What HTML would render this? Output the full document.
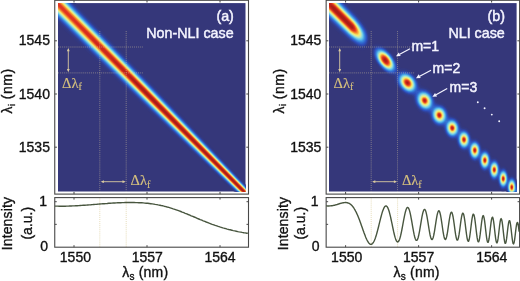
<!DOCTYPE html>
<html><head><meta charset="utf-8"><title>NLI figure</title><style>html,body{margin:0;padding:0;background:#fff}svg{display:block}text{stroke:#111;stroke-width:.35px}.w text{stroke:#f4f4ff;stroke-width:.45px}text.d{stroke:#d6c07e;stroke-width:.15px}</style></head><body>
<svg width="520" height="281" viewBox="0 0 520 281" font-family="'Liberation Sans', sans-serif" font-size="14" fill="#111">
<defs><clipPath id="ca"><rect x="58" y="3.1" width="187.5" height="188.4"/></clipPath><clipPath id="cb"><rect x="329" y="3.1" width="187.6" height="188.4"/></clipPath></defs>
<rect x="58" y="3.1" width="187.5" height="188.4" fill="#35377a"/>
<g clip-path="url(#ca)" fill-rule="evenodd">
<path fill="#34387f" d="M57.0,2.1L74.8,2.1L111.4,40.4L151.1,82.3L203.6,138.6L246.6,185.1L246.8,185.2L246.8,192.6L234.9,192.6L189.8,150.3L145.5,108.3L105.8,70.0L57.0,22.7Z"/>
<path fill="#333a83" d="M57.0,2.1L73.3,2.1L112.1,42.6L153.4,86.1L199.9,135.6L246.6,185.8L246.8,186.0L246.8,192.6L235.8,192.6L196.5,155.5L147.8,109.1L106.5,69.3L57.0,21.0Z"/>
<path fill="#314196" d="M57.0,2.1L71.5,2.1L109.1,41.1L154.2,88.3L204.4,141.6L246.5,186.6L246.8,186.9L246.8,192.6L236.8,192.6L188.2,146.5L147.0,106.9L102.8,63.9L57.0,19.1Z"/>
<path fill="#3048aa" d="M57.0,2.1L70.3,2.1L116.0,49.4L150.4,85.3L204.4,142.3L246.8,187.4L246.8,192.6L237.4,192.6L187.5,144.9L144.8,103.8L109.5,69.4L57.0,17.8Z"/>
<path fill="#2e50be" d="M57.0,2.1L69.4,2.1L115.2,49.4L150.5,86.1L195.4,133.3L246.3,187.3L246.8,187.8L246.8,192.6L237.9,192.6L190.5,147.2L144.8,103.0L108.8,67.9L57.0,16.9Z"/>
<path fill="#315dc6" d="M57.0,2.1L68.7,2.1L117.4,52.4L153.5,89.8L199.9,138.6L246.8,188.2L246.8,192.6L238.3,192.6L195.8,151.8L145.5,103.2L110.2,68.7L57.0,16.2Z"/>
<path fill="#336acd" d="M57.0,2.1L68.1,2.1L104.5,39.6L145.1,81.6L192.4,131.1L246.8,188.5L246.8,192.6L238.6,192.6L186.8,142.7L144.8,101.9L102.0,60.0L57.0,15.5Z"/>
<path fill="#3677d5" d="M57.0,2.1L67.5,2.1L109.9,45.6L148.3,85.3L199.2,138.6L246.1,188.1L246.8,188.8L246.8,192.6L238.9,192.6L195.0,150.3L144.8,101.5L104.7,62.1L57.0,14.9Z"/>
<path fill="#3984dc" d="M57.0,2.1L67.0,2.1L113.0,49.3L145.0,82.3L193.8,133.3L246.8,189.0L246.8,192.6L239.2,192.6L188.2,143.4L145.5,101.8L109.7,66.6L57.0,14.4Z"/>
<path fill="#3f91e1" d="M57.0,2.1L66.6,2.1L106.8,43.4L146.1,83.8L201.4,141.6L246.8,189.2L246.8,192.6L239.4,192.6L197.2,151.8L144.8,100.7L104.9,61.4L57.0,13.9Z"/>
<path fill="#4a9fe3" d="M57.0,2.1L66.1,2.1L111.5,48.6L145.0,83.1L196.1,136.3L246.2,188.8L246.7,189.4L246.8,192.6L239.6,192.6L191.2,145.7L145.5,101.1L109.1,65.1L57.0,13.4Z"/>
<path fill="#55aee6" d="M57.0,2.1L65.7,2.1L106.8,44.1L145.5,83.9L190.8,131.1L243.2,185.8L246.8,189.6L246.8,192.6L239.8,192.6L186.0,140.3L144.8,100.0L105.7,61.4L57.0,13.0Z"/>
<path fill="#5fbce8" d="M57.0,2.1L65.3,2.1L111.0,48.8L145.1,83.8L200.7,141.6L246.8,189.8L246.8,192.6L240.0,192.6L196.1,149.8L144.8,99.7L109.0,64.3L57.0,12.6Z"/>
<path fill="#6acaea" d="M57.0,2.1L64.9,2.1L107.2,45.3L144.8,83.8L196.1,137.1L246.8,190.0L246.8,192.6L240.2,192.6L190.9,144.6L145.0,99.6L107.9,62.8L57.0,12.2Z"/>
<path fill="#7dd1e1" d="M57.0,2.1L64.5,2.1L111.8,50.2L145.5,84.8L191.6,132.6L244.8,188.1L246.8,190.1L246.8,192.6L240.4,192.6L186.6,140.1L144.8,99.1L109.7,64.3L57.0,11.8Z"/>
<path fill="#90d8d7" d="M57.0,2.1L64.2,2.1L108.8,47.5L144.8,84.4L187.0,128.1L240.8,184.0L246.8,190.3L246.8,192.6L240.6,192.6L196.0,149.1L144.8,98.8L110.0,64.3L57.0,11.4Z"/>
<path fill="#a3dfce" d="M57.0,2.1L63.8,2.1L106.5,45.5L144.8,84.6L195.0,136.6L236.2,179.5L246.8,190.4L246.8,192.6L240.8,192.6L193.2,146.1L145.1,98.8L57.0,11.1Z"/>
<path fill="#b6e6c5" d="M57.0,2.1L63.5,2.1L110.2,49.6L144.8,84.9L231.0,174.2L246.8,190.6L246.8,192.6L240.9,192.6L189.6,142.3L144.8,98.3L57.0,10.7Z"/>
<path fill="#c6eab7" d="M57.0,2.1L63.1,2.1L144.8,85.2L225.0,168.1L246.8,190.7L246.8,192.6L241.1,192.6L195.9,148.3L144.8,98.1L57.0,10.3Z"/>
<path fill="#d2eba4" d="M57.0,2.1L62.8,2.1L144.8,85.4L207.0,149.7L246.8,190.9L246.8,192.6L241.2,192.6L194.6,146.8L145.1,98.1L57.0,10.0Z"/>
<path fill="#deeb91" d="M57.0,2.1L62.5,2.1L144.8,85.7L200.2,142.9L246.8,191.0L246.8,192.6L241.4,192.6L192.5,144.6L144.8,97.5L57.0,9.6Z"/>
<path fill="#eaec7f" d="M57.0,2.1L62.1,2.1L144.8,85.9L192.0,134.6L246.8,191.2L246.8,192.6L241.5,192.6L145.6,98.1L103.6,56.1L57.0,9.3Z"/>
<path fill="#f6ec6c" d="M57.0,2.1L61.8,2.1L139.5,80.8L181.5,124.0L246.8,191.3L246.8,192.6L241.7,192.6L145.9,98.1L111.4,63.6L57.0,8.9Z"/>
<path fill="#f6d960" d="M57.0,2.1L61.4,2.1L125.2,66.6L162.0,104.1L246.8,191.5L246.8,192.6L241.9,192.6L152.9,104.8L119.2,71.1L57.0,8.6Z"/>
<path fill="#f6c753" d="M57.0,2.1L61.0,2.1L117.8,59.3L151.5,93.6L246.8,191.6L246.8,192.6L242.0,192.6L163.0,114.6L144.9,96.6L127.7,79.3L69.8,20.9L57.0,8.2Z"/>
<path fill="#f6b447" d="M57.0,2.1L60.7,2.1L145.5,87.7L246.8,191.8L246.8,192.6L242.2,192.6L176.9,128.1L135.4,86.8L101.1,52.4L69.8,20.6L57.0,7.8Z"/>
<path fill="#f6a13a" d="M57.0,2.1L60.3,2.1L69.9,11.8L112.5,54.6L145.5,88.0L246.8,191.9L246.8,192.6L242.3,192.6L143.9,95.1L108.1,59.1L69.8,20.2L57.0,7.4Z"/>
<path fill="#f48d32" d="M57.0,2.1L59.9,2.1L70.2,12.6L105.0,47.4L144.8,87.4L183.0,126.6L246.8,192.1L246.8,192.6L242.5,192.6L144.8,95.7L105.5,56.1L69.8,19.7L57.0,7.0Z"/>
<path fill="#ef772e" d="M57.0,2.1L59.4,2.1L69.8,12.6L116.2,59.0L144.8,87.7L173.2,116.9L246.8,192.2L246.8,192.6L242.6,192.6L144.8,95.4L110.3,60.6L69.8,19.3L57.0,6.5Z"/>
<path fill="#ea602a" d="M57.0,2.1L58.9,2.1L70.0,13.4L96.8,39.9L126.0,69.1L144.8,88.0L162.0,105.6L246.8,192.4L246.8,192.6L242.8,192.6L144.8,95.2L103.3,53.1L69.8,18.8L57.0,6.0Z"/>
<path fill="#e54a26" d="M57.0,2.1L58.3,2.1L69.8,13.7L99.0,42.5L137.2,80.8L145.5,89.1L183.8,128.1L246.8,192.6L243.0,192.6L145.0,95.1L110.3,59.8L69.8,18.2L57.0,5.4Z"/>
<path fill="#e03422" d="M57.0,2.1L57.6,2.1L69.8,14.4L80.2,24.6L101.2,45.3L144.8,88.6L246.0,192.0L246.6,192.6L246.0,192.6L243.2,192.6L144.8,94.5L98.2,47.1L69.8,17.5L57.0,4.6Z"/>
<path fill="#d42f1f" d="M73.5,19.4L82.5,27.6L99.0,43.6L117.0,61.3L144.8,88.9L246.4,192.6L243.4,192.6L145.5,95.0L116.2,65.1L93.8,41.9L80.3,27.6L73.5,20.1Z"/>
<path fill="#c82a1d" d="M91.5,38.1L91.5,37.9L91.9,38.1L91.5,38.2ZM92.1,38.9L92.2,38.3L93.0,38.8L106.5,51.6L124.5,69.3L144.8,89.3L246.2,192.6L243.6,192.6L228.6,177.6L144.8,93.8L111.0,59.1L97.5,44.9Z"/>
<path fill="#b9241a" d="M109.4,56.1L109.5,56.0L109.7,56.1L109.5,56.2ZM110.1,56.9L110.2,56.6L110.6,56.9L110.2,57.0ZM110.7,57.6L111.0,57.2L113.2,59.1L129.8,75.0L144.8,89.8L246.0,192.6L243.9,192.6L144.8,93.4L127.5,75.6L114.0,61.4Z"/>
<path fill="#a81f17" d="M127.4,74.1L127.5,74.0L127.6,74.1L127.5,74.2ZM128.1,74.8L128.2,74.7L128.4,74.8L128.2,75.1ZM128.7,75.6L129.0,75.4L129.2,75.6L129.0,76.0ZM129.3,76.3L129.8,76.1L130.5,76.7L135.0,80.8L144.8,90.3L222.8,169.4L245.6,192.6L244.2,192.6L145.5,93.6L131.2,78.6Z"/>
</g>
<rect x="329" y="3.1" width="187.6" height="188.4" fill="#35377a"/>
<g clip-path="url(#cb)" fill-rule="evenodd">
<path fill="#34387f" d="M328.0,2.1L346.5,2.1L355.8,11.8L359.1,15.6L362.8,20.1L365.9,24.6L368.1,28.4L369.0,30.6L369.7,32.9L370.1,35.1L370.2,36.6L370.1,38.9L369.8,41.1L369.4,42.6L368.6,44.9L367.9,46.4L367.0,47.8L366.2,48.7L365.5,49.4L364.8,49.9L364.0,50.3L362.5,50.5L361.0,50.3L359.5,49.8L356.5,48.3L354.2,46.8L352.0,45.2L346.0,40.1L328.0,22.7ZM374.5,44.1L375.2,43.8L376.7,43.6L378.2,43.6L379.8,44.0L381.2,44.4L382.8,45.1L384.2,45.9L386.5,47.5L388.8,49.4L391.0,51.6L392.9,53.8L394.5,56.1L396.8,59.9L398.1,62.8L399.2,66.1L400.0,67.0L400.8,67.5L401.5,67.7L403.8,67.9L405.3,68.1L406.8,68.5L408.2,69.0L409.8,69.8L411.2,70.7L412.8,71.7L414.2,73.0L416.6,75.6L417.7,77.1L418.6,78.6L420.1,81.6L421.1,84.6L421.9,85.3L423.2,86.1L425.5,86.6L427.0,87.2L428.5,88.0L430.0,89.0L431.5,90.3L433.1,92.1L434.6,94.3L435.7,96.6L437.0,100.3L437.5,101.0L438.2,101.5L440.5,102.0L442.8,102.9L444.2,103.8L445.8,105.1L447.2,106.8L448.4,108.6L449.2,110.1L450.4,113.8L451.0,114.5L451.8,115.0L453.2,115.2L454.8,115.7L456.2,116.6L457.0,117.2L458.5,118.7L459.8,120.6L460.9,122.8L461.6,125.1L462.2,126.1L463.0,126.6L464.5,126.7L466.0,127.2L467.5,128.1L469.1,129.6L470.1,131.1L470.9,132.6L471.5,134.1L472.2,136.3L472.7,137.1L473.5,137.4L475.0,137.3L476.5,137.7L477.2,138.1L478.8,139.3L480.0,140.8L480.8,142.3L481.5,143.8L482.5,147.1L483.2,147.6L484.8,147.3L485.5,147.3L487.0,147.9L487.8,148.4L489.1,149.8L490.1,151.3L491.1,153.6L491.7,155.8L492.2,156.9L493.0,157.0L493.8,156.8L494.5,156.8L495.3,156.9L496.0,157.2L496.8,157.7L497.5,158.3L498.2,159.2L499.3,161.1L499.9,162.6L500.8,165.6L501.2,166.2L503.5,165.9L504.2,166.0L505.0,166.4L505.8,166.9L506.6,167.8L507.6,169.3L508.3,170.8L509.5,174.7L510.2,175.0L511.0,174.7L511.8,174.6L512.5,174.7L513.2,174.9L514.0,175.5L514.7,176.1L515.7,177.6L516.4,179.1L517.4,182.1L517.8,183.0L517.8,192.6L514.8,192.6L506.2,192.6L505.8,191.3L505.0,191.1L504.2,191.5L503.5,191.6L502.8,191.6L502.0,191.4L501.2,191.0L500.5,190.3L499.3,188.8L498.5,187.4L497.9,185.8L497.1,182.8L496.8,182.4L496.0,182.4L495.2,182.7L494.5,182.8L493.8,182.8L493.0,182.6L492.2,182.2L491.5,181.6L490.6,180.6L489.6,179.1L488.9,177.6L488.2,175.3L487.9,173.8L487.8,173.5L487.4,173.1L487.0,172.8L485.5,173.3L484.8,173.3L484.0,173.2L482.5,172.6L481.8,172.1L481.0,171.3L480.1,170.1L479.2,168.6L478.4,166.3L477.9,164.1L477.3,163.1L476.5,163.1L475.0,163.3L473.5,163.1L472.0,162.3L470.5,161.0L469.5,159.6L468.6,158.1L467.8,155.8L467.2,153.6L466.8,152.7L466.0,152.4L465.2,152.6L463.8,152.6L462.2,152.2L460.8,151.4L459.2,150.1L457.9,148.3L456.8,146.1L456.0,143.8L455.7,142.3L455.4,141.6L454.8,141.0L452.5,141.0L450.2,140.5L448.8,139.8L447.2,138.7L445.8,137.1L444.7,135.6L443.9,134.1L443.3,132.6L442.7,130.3L442.0,129.2L441.2,128.8L439.0,128.7L437.5,128.3L436.0,127.6L433.8,126.2L431.9,124.3L430.3,122.1L429.6,120.6L429.0,119.1L428.3,116.8L427.8,115.8L427.0,115.1L424.0,114.5L421.8,113.6L419.5,112.2L417.2,110.2L415.4,107.8L414.1,105.6L413.2,103.3L412.2,99.6L411.2,98.1L410.5,97.6L407.5,96.9L406.0,96.3L404.5,95.5L403.0,94.5L401.5,93.3L399.4,91.3L397.6,89.1L395.8,86.1L394.5,83.1L393.2,78.8L392.7,77.8L391.8,77.0L391.0,76.6L388.8,75.8L386.5,74.6L384.2,73.1L382.0,71.2L379.6,68.8L377.7,66.6L375.6,63.6L374.3,61.4L372.5,57.6L371.8,55.3L371.2,52.4L371.1,50.1L371.2,48.6L371.7,47.1L372.0,46.4L373.0,45.1L373.8,44.5Z"/>
<path fill="#333a83" d="M328.0,2.1L344.9,2.1L357.1,14.8L361.4,20.1L363.7,23.1L365.2,25.4L367.3,29.1L368.3,31.4L368.8,32.9L369.1,34.4L369.4,36.6L369.4,38.1L369.2,40.4L368.9,41.9L368.1,44.1L366.9,46.4L366.2,47.2L365.5,47.9L364.7,48.4L363.2,48.9L362.5,48.9L361.0,48.8L359.5,48.3L358.0,47.6L355.0,45.8L351.2,43.0L346.8,39.2L328.0,21.1ZM376.1,44.9L377.5,44.7L379.0,44.8L380.5,45.1L382.8,46.0L384.2,46.8L386.5,48.4L389.5,51.0L392.1,53.9L393.8,56.1L395.2,58.3L396.7,61.4L397.4,62.8L398.5,66.5L399.2,68.0L400.0,68.8L400.8,69.0L404.5,69.2L406.0,69.5L407.5,69.9L409.0,70.6L410.5,71.4L412.0,72.4L413.5,73.7L415.3,75.6L417.5,78.6L418.3,80.1L419.0,81.6L419.9,84.6L420.3,85.3L421.1,86.1L422.5,86.8L426.2,87.9L427.8,88.6L429.2,89.6L430.8,90.8L432.6,92.8L434.1,95.1L435.1,97.3L436.0,100.3L436.8,101.4L437.5,102.1L438.2,102.5L440.5,102.9L442.0,103.5L443.5,104.3L445.1,105.6L446.5,107.1L447.9,109.3L448.6,110.8L449.6,113.8L450.2,114.8L451.0,115.5L451.8,115.9L453.2,116.2L454.8,116.7L455.5,117.1L457.0,118.3L458.4,119.9L459.4,121.3L460.5,123.6L461.2,125.8L461.7,126.6L462.2,127.1L463.0,127.5L464.5,127.6L466.0,128.1L467.5,129.1L468.7,130.3L470.2,132.6L471.1,134.8L471.5,136.3L472.0,137.4L472.8,138.1L473.5,138.4L475.0,138.3L476.5,138.7L478.0,139.7L479.1,140.8L480.1,142.3L480.8,143.8L481.8,147.1L482.5,148.1L483.2,148.5L484.8,148.2L485.5,148.3L486.2,148.5L487.8,149.4L488.8,150.6L489.8,152.1L490.4,153.6L491.3,156.6L491.7,157.3L492.2,157.9L493.0,158.0L493.8,157.8L494.5,157.7L495.2,157.9L496.0,158.2L496.8,158.7L497.6,159.6L498.7,161.1L499.6,163.3L500.5,166.4L501.3,167.1L502.0,167.1L502.8,166.9L503.5,166.8L504.2,167.0L505.0,167.3L505.8,167.9L506.9,169.3L507.7,170.8L508.5,173.1L508.8,174.6L509.5,175.6L510.2,175.9L511.0,175.6L511.8,175.5L512.5,175.6L513.2,175.9L514.4,176.8L515.0,177.6L515.9,179.1L516.7,181.3L517.0,182.8L517.8,183.9L517.8,192.6L512.5,192.6L506.7,192.6L506.5,191.6L506.3,191.1L505.8,190.3L505.0,190.2L504.2,190.5L503.5,190.7L502.8,190.7L502.0,190.4L501.2,190.0L500.8,189.6L500.1,188.8L499.1,187.3L498.5,185.9L497.5,182.3L496.8,181.4L496.0,181.4L495.2,181.7L494.5,181.9L493.8,181.8L493.0,181.6L492.2,181.2L491.5,180.6L490.8,179.7L489.5,177.6L488.7,175.3L488.2,173.1L487.8,172.3L487.0,171.9L485.5,172.3L484.0,172.3L483.2,172.1L482.5,171.6L481.8,171.0L481.0,170.2L480.0,168.6L479.0,166.3L478.2,163.3L477.7,162.6L477.2,162.1L476.5,162.1L475.7,162.3L475.0,162.4L473.5,162.1L472.0,161.3L470.9,160.3L470.3,159.6L469.4,158.1L468.4,155.8L467.6,152.8L466.8,151.7L466.0,151.5L464.5,151.7L463.8,151.7L462.2,151.3L460.8,150.4L459.4,149.1L458.3,147.6L457.5,146.1L456.7,143.8L456.1,141.6L455.5,140.6L454.8,140.0L452.5,140.1L451.0,139.8L449.5,139.2L448.0,138.2L446.5,136.8L445.1,134.8L444.1,132.6L443.2,129.6L442.8,128.9L442.0,128.2L441.2,127.8L439.8,127.8L437.5,127.3L436.0,126.6L434.5,125.6L433.0,124.3L431.3,122.1L430.1,119.9L428.9,116.1L428.4,115.3L427.8,114.6L427.0,114.1L424.8,113.7L422.5,113.0L420.2,111.7L418.0,109.7L416.5,107.8L415.1,105.6L414.4,104.1L413.8,102.6L413.1,99.6L412.0,97.3L411.1,96.6L409.0,96.2L407.5,95.7L405.2,94.7L403.8,93.8L402.2,92.6L400.1,90.6L398.3,88.3L397.3,86.8L396.5,85.3L395.8,83.8L395.4,82.3L394.5,78.6L394.2,77.8L393.8,77.1L392.5,76.2L391.0,75.6L389.5,75.2L388.0,74.5L385.7,73.2L383.5,71.6L381.2,69.6L378.5,66.6L376.4,63.6L375.0,61.3L373.3,57.6L372.6,55.3L372.1,53.1L372.0,50.8L372.3,48.6L373.0,47.1L373.8,46.1L374.5,45.5L375.2,45.1Z"/>
<path fill="#314196" d="M328.0,2.1L343.2,2.1L355.0,14.3L356.8,16.4L360.5,20.9L363.8,25.4L366.0,29.1L366.7,30.6L367.6,32.9L368.2,35.8L368.4,38.1L368.3,39.6L368.0,41.1L367.3,43.4L366.4,44.9L365.8,45.6L364.8,46.5L364.0,46.8L362.5,47.1L361.0,47.0L359.5,46.5L358.0,45.9L355.8,44.6L354.2,43.6L350.5,40.7L347.5,38.1L328.0,19.2ZM376.1,46.4L377.5,46.0L379.0,46.0L380.5,46.2L382.0,46.7L383.5,47.4L385.8,48.9L388.8,51.4L390.4,53.1L392.3,55.3L393.8,57.6L395.1,59.9L395.8,61.4L396.7,63.6L397.8,67.9L398.5,70.2L399.2,70.7L400.0,70.8L402.2,70.5L403.8,70.4L405.2,70.6L406.8,70.9L408.2,71.5L409.8,72.2L411.2,73.2L412.8,74.4L414.6,76.3L416.7,79.3L417.8,81.6L418.3,83.1L418.9,85.3L419.5,86.7L420.2,87.6L421.0,87.9L424.8,88.7L426.2,89.2L428.5,90.5L430.0,91.6L431.8,93.6L433.2,95.8L434.2,98.1L435.2,101.5L436.0,102.6L437.0,103.3L437.5,103.6L441.2,104.5L442.8,105.2L444.3,106.4L445.7,107.8L446.7,109.3L447.8,111.6L448.8,114.7L449.5,116.0L450.8,116.8L453.2,117.4L454.8,118.0L456.2,119.0L457.7,120.6L458.8,122.1L459.5,123.6L460.2,125.8L460.7,127.3L461.4,128.1L462.2,128.6L463.0,128.8L464.5,128.9L466.0,129.4L467.3,130.3L468.2,131.3L469.6,133.3L470.2,134.8L471.2,138.3L472.0,139.3L472.8,139.6L475.0,139.5L475.8,139.6L477.2,140.4L478.0,141.0L479.1,142.3L479.9,143.8L480.5,145.3L481.1,147.6L481.8,149.2L482.5,149.7L483.2,149.8L484.7,149.4L485.5,149.5L486.2,149.8L487.0,150.2L487.8,150.8L488.8,152.1L489.6,153.6L490.4,155.8L490.8,157.6L491.5,159.0L492.2,159.3L493.8,159.0L494.5,158.9L495.2,159.1L496.0,159.4L496.8,160.0L497.7,161.1L498.5,162.6L499.3,164.8L499.8,166.8L500.5,168.2L501.2,168.5L502.8,168.1L503.5,168.0L504.2,168.2L505.0,168.6L505.8,169.3L506.9,170.8L507.6,172.3L508.8,176.5L509.1,176.8L509.5,177.2L510.2,177.1L511.0,176.8L511.8,176.7L512.5,176.8L513.2,177.1L514.0,177.7L515.0,179.1L515.7,180.6L517.0,184.7L517.8,185.4L517.8,192.6L512.5,192.6L507.4,192.6L506.5,189.5L505.9,188.9L505.0,188.9L504.2,189.3L503.5,189.5L502.8,189.4L502.0,189.2L501.2,188.7L500.1,187.3L499.2,185.8L498.7,184.3L498.2,182.1L497.5,180.4L496.8,179.9L495.2,180.5L494.5,180.6L493.8,180.6L493.0,180.4L492.2,179.9L491.5,179.2L490.8,178.3L490.4,177.6L489.7,176.1L488.5,171.5L488.0,170.8L487.8,170.6L487.0,170.5L485.5,171.1L484.8,171.2L484.0,171.1L483.2,170.8L482.5,170.3L481.5,169.3L480.5,167.8L479.8,166.3L479.3,164.8L478.8,162.2L478.0,161.0L477.2,160.7L475.0,161.2L473.5,160.9L472.8,160.5L472.0,160.0L471.3,159.3L470.4,158.1L469.6,156.6L468.8,154.3L468.3,152.0L467.5,150.6L466.8,150.2L466.0,150.2L464.5,150.5L463.0,150.3L461.5,149.6L460.0,148.3L458.9,146.8L458.1,145.3L457.3,143.1L457.0,141.4L456.2,139.6L456.0,139.3L455.5,138.9L454.8,138.7L453.2,138.9L451.8,138.8L450.2,138.3L448.8,137.5L447.2,136.1L445.8,134.1L444.8,131.8L444.2,129.7L443.9,128.8L443.5,127.9L443.1,127.3L442.0,126.7L441.2,126.5L439.0,126.4L438.2,126.3L436.8,125.7L435.2,124.8L434.5,124.2L433.2,122.8L432.1,121.3L431.2,119.8L430.4,117.6L430.1,116.1L429.8,115.3L429.2,114.3L428.5,113.4L427.8,112.9L427.0,112.7L425.5,112.5L423.2,111.9L421.0,110.8L419.5,109.6L418.8,108.9L417.8,107.8L416.8,106.3L415.6,104.1L414.8,101.8L413.7,97.3L413.4,96.6L412.8,95.9L412.0,95.5L411.2,95.2L408.2,94.7L406.0,93.8L404.5,92.9L403.0,91.9L400.8,89.8L399.0,87.6L398.1,86.1L397.3,84.6L396.5,82.3L396.0,80.1L395.5,76.3L395.1,75.6L394.8,75.3L394.0,75.1L390.2,74.3L388.8,73.8L387.2,73.1L385.0,71.7L382.8,69.9L380.2,67.3L377.8,64.3L376.3,62.1L374.8,59.1L373.9,56.9L373.3,54.6L373.1,52.4L373.2,50.1L373.8,48.6L374.2,47.9L374.9,47.1Z"/>
<path fill="#3048aa" d="M328.0,2.1L342.0,2.1L355.8,16.4L359.0,20.1L361.3,23.1L362.9,25.4L365.1,29.1L365.9,30.6L366.7,32.9L367.3,35.1L367.5,36.6L367.6,38.1L367.5,39.6L367.2,41.1L366.7,42.6L366.2,43.4L365.5,44.4L364.8,45.1L364.0,45.5L363.2,45.8L362.5,45.9L361.0,45.8L359.5,45.4L358.0,44.7L356.5,43.9L354.2,42.4L351.2,40.2L347.5,37.0L328.0,18.0ZM376.8,47.1L378.2,46.8L379.0,46.8L380.5,47.0L382.0,47.5L383.5,48.2L385.0,49.0L387.2,50.7L389.0,52.4L391.0,54.6L392.7,56.9L394.5,59.9L395.9,62.9L396.5,65.1L396.9,67.3L397.1,69.6L396.9,72.6L396.2,73.2L394.8,73.7L394.0,73.8L392.5,73.8L390.2,73.5L388.0,72.7L385.8,71.5L383.5,69.9L381.6,68.1L379.6,65.8L377.9,63.6L376.1,60.6L374.8,57.6L374.1,55.4L373.8,53.1L373.9,50.9L374.4,49.4L375.2,48.1L376.0,47.5ZM400.6,71.8L402.2,71.4L403.7,71.3L405.2,71.4L406.8,71.8L408.2,72.3L409.8,73.1L411.2,74.1L412.8,75.4L413.7,76.3L414.9,77.8L416.3,80.1L417.0,81.6L417.6,83.1L418.2,86.1L418.7,87.6L419.2,88.3L419.5,88.7L420.2,89.0L424.0,89.5L426.2,90.1L427.8,90.9L429.2,92.0L430.0,92.7L431.5,94.3L432.8,96.6L433.5,98.1L434.5,101.9L435.2,103.5L436.0,104.1L437.5,104.5L439.8,104.9L441.2,105.3L442.8,106.1L444.2,107.3L445.4,108.6L446.8,110.8L447.6,113.1L448.0,114.8L448.9,116.8L449.5,117.4L450.2,117.6L453.2,118.2L454.0,118.5L455.5,119.3L456.9,120.6L458.0,122.1L458.8,123.6L459.3,125.1L460.0,127.5L460.8,129.0L461.5,129.4L464.5,129.7L465.2,129.9L466.8,130.7L467.9,131.8L468.9,133.3L469.6,134.8L470.1,136.3L470.5,138.1L471.2,140.1L472.0,140.4L475.0,140.3L475.8,140.4L476.5,140.8L477.2,141.2L478.0,142.0L478.8,142.9L479.7,144.6L480.4,146.8L481.0,149.4L481.8,150.7L483.2,150.6L484.8,150.2L485.5,150.3L486.2,150.6L487.0,151.0L488.1,152.1L489.0,153.6L489.7,155.1L490.8,159.4L491.5,160.3L492.2,160.2L493.8,159.8L494.5,159.7L495.2,159.9L496.0,160.3L496.8,160.9L497.5,161.8L498.0,162.6L498.6,164.1L499.8,168.5L500.3,169.3L500.5,169.5L501.2,169.4L502.8,168.8L503.5,168.8L504.2,169.0L505.0,169.4L505.8,170.2L506.5,171.3L507.0,172.4L507.6,173.8L508.0,175.9L508.8,178.1L509.5,178.2L511.0,177.6L511.8,177.4L512.5,177.6L513.2,177.9L514.0,178.6L514.8,179.7L515.2,180.6L515.8,182.1L516.2,184.1L517.0,186.2L517.8,186.3L517.8,192.6L513.2,192.6L507.8,192.6L507.2,190.2L506.5,187.9L505.8,187.8L505.0,188.1L504.3,188.5L503.5,188.7L502.8,188.7L502.0,188.4L501.2,187.9L500.2,186.6L499.4,185.1L498.7,182.8L498.2,180.5L497.5,178.9L496.8,179.0L495.2,179.7L494.5,179.8L493.8,179.8L493.0,179.5L492.2,179.0L491.0,177.6L490.2,176.1L489.7,174.6L489.2,172.3L488.5,169.8L487.8,169.5L487.0,169.7L485.5,170.3L484.8,170.4L484.0,170.3L483.2,170.0L482.5,169.5L481.8,168.7L481.1,167.9L480.4,166.4L479.8,164.8L478.7,160.3L478.0,159.8L477.2,159.8L475.8,160.3L475.0,160.4L474.2,160.3L473.5,160.1L472.8,159.7L472.0,159.1L471.1,158.1L470.2,156.6L469.5,155.1L468.1,149.8L467.5,149.3L466.8,149.2L464.5,149.7L463.0,149.5L461.5,148.8L460.2,147.6L459.1,146.1L458.4,144.6L457.9,143.1L457.0,139.3L456.7,138.6L456.2,138.1L455.5,137.9L454.8,137.9L453.2,138.1L451.8,138.0L450.2,137.5L448.8,136.6L447.2,135.1L446.1,133.3L445.2,131.1L444.2,127.6L443.8,126.6L443.5,126.2L442.8,125.9L442.0,125.7L439.8,125.7L438.2,125.4L437.5,125.2L436.8,124.8L435.2,123.9L433.4,122.1L432.4,120.6L431.6,119.1L431.1,117.6L430.8,116.1L430.0,113.7L429.7,113.1L429.2,112.5L427.8,111.9L424.8,111.5L423.2,111.1L421.0,109.8L419.5,108.6L418.8,107.8L417.1,105.6L416.0,103.3L415.3,101.1L414.6,96.6L414.2,95.5L413.8,95.1L413.5,94.9L412.0,94.4L409.0,94.1L406.8,93.3L405.2,92.6L403.8,91.6L401.5,89.6L400.4,88.3L399.4,86.8L398.1,84.6L397.5,83.1L397.1,81.6L396.8,80.1L396.7,78.6L396.8,75.6L397.1,73.3L397.8,72.9Z"/>
<path fill="#2e50be" d="M328.0,2.1L341.2,2.1L355.7,17.1L359.4,21.6L362.2,25.4L364.4,29.1L365.2,30.6L366.1,32.9L366.7,35.1L366.9,36.6L367.0,38.1L366.8,39.6L366.5,41.1L366.2,41.8L365.5,43.1L364.8,43.9L364.0,44.4L363.2,44.7L362.5,44.9L361.8,44.9L360.2,44.7L358.0,43.9L356.5,43.1L352.8,40.5L348.0,36.6L328.0,17.1ZM377.0,47.8L378.2,47.5L379.0,47.4L380.5,47.6L382.8,48.3L384.2,49.1L386.5,50.7L388.8,52.6L390.6,54.6L392.3,56.9L393.7,59.1L395.1,62.1L395.8,64.3L396.3,67.3L396.3,69.6L395.9,71.1L395.4,71.9L394.8,72.4L394.0,72.8L392.5,73.1L390.2,72.9L388.0,72.2L386.5,71.4L384.2,69.9L382.0,67.9L380.1,65.8L378.4,63.6L377.0,61.4L375.5,58.4L374.8,56.1L374.4,53.9L374.5,51.6L374.8,50.1L375.2,49.4L375.8,48.6ZM400.9,72.6L402.2,72.2L403.0,72.0L404.5,72.0L406.0,72.2L408.2,72.9L409.8,73.7L412.2,75.6L413.7,77.1L414.8,78.6L416.1,80.8L417.0,83.1L418.0,88.6L418.2,89.1L418.8,89.7L419.5,89.9L422.5,90.0L424.8,90.3L426.2,90.8L427.0,91.2L428.5,92.2L429.3,92.8L430.1,93.6L431.3,95.1L432.5,97.3L433.3,99.6L433.8,101.7L434.5,104.1L435.3,104.8L436.0,105.0L439.8,105.5L441.2,106.0L442.8,106.8L444.0,107.8L445.3,109.3L446.2,110.8L447.0,113.1L448.0,116.8L448.4,117.6L448.8,118.0L449.5,118.3L453.2,118.8L454.8,119.5L455.5,120.0L457.0,121.5L458.3,123.6L458.8,125.1L459.4,127.3L460.1,129.6L460.8,130.2L463.8,130.2L465.2,130.5L466.8,131.4L467.9,132.6L468.8,134.1L469.5,135.6L470.5,140.0L470.8,140.8L471.2,141.3L472.0,141.3L474.2,140.9L475.0,140.9L475.7,141.1L476.5,141.4L477.2,142.0L478.3,143.1L479.2,144.6L480.0,146.8L480.8,150.6L481.1,151.3L481.8,151.7L484.0,151.0L484.8,150.9L485.5,150.9L486.2,151.2L487.0,151.7L488.0,152.8L488.9,154.3L489.7,156.6L490.0,158.4L490.7,161.1L491.5,161.3L493.8,160.4L494.5,160.4L495.2,160.5L496.0,160.9L496.8,161.6L497.5,162.6L498.2,164.1L498.7,165.6L499.8,170.2L500.5,170.5L502.8,169.5L503.5,169.4L504.2,169.6L505.0,170.1L505.7,170.8L506.6,172.3L506.9,173.1L507.4,174.6L508.0,177.5L508.3,178.3L508.8,179.2L509.5,179.0L511.0,178.2L511.8,178.1L512.5,178.2L513.2,178.6L514.0,179.3L515.2,181.3L515.6,182.8L516.2,185.6L516.6,186.6L517.0,187.4L517.8,187.1L517.8,192.6L511.8,192.6L508.1,192.6L507.6,190.4L507.2,188.5L506.9,187.3L506.5,186.7L505.8,187.0L504.3,187.9L503.5,188.1L502.8,188.0L502.0,187.7L501.2,187.2L500.3,185.8L499.6,184.3L499.1,182.8L498.2,178.6L498.1,178.3L497.5,177.9L495.2,179.0L494.5,179.2L493.8,179.2L493.0,178.9L492.2,178.3L491.1,176.8L490.3,175.3L489.7,173.1L489.2,170.4L489.0,169.3L488.5,168.5L487.8,168.6L485.5,169.7L484.8,169.8L484.0,169.6L483.2,169.3L482.4,168.6L481.2,167.1L480.5,165.6L479.8,163.3L479.3,160.3L478.8,158.8L478.0,158.8L475.8,159.6L475.0,159.8L474.2,159.7L473.5,159.4L472.8,159.0L472.0,158.4L471.2,157.5L470.7,156.6L470.0,155.1L469.3,152.8L468.8,149.8L468.2,148.5L467.5,148.3L465.2,149.0L463.8,149.0L463.0,148.9L462.2,148.6L461.5,148.1L460.7,147.4L459.7,146.1L458.6,143.8L458.1,142.3L457.4,138.6L457.0,137.5L456.2,137.1L454.8,137.2L453.2,137.5L451.8,137.4L450.2,136.9L449.5,136.4L448.5,135.6L447.2,134.1L446.7,133.3L446.0,131.8L445.5,130.3L444.6,126.6L444.2,125.7L443.5,125.1L443.3,125.1L442.0,125.0L439.8,125.0L438.2,124.8L436.8,124.1L436.0,123.7L434.5,122.4L433.1,120.6L431.9,118.3L430.6,113.1L430.3,112.3L430.0,111.8L429.3,111.4L427.8,111.1L425.5,111.0L424.0,110.7L423.2,110.4L421.8,109.6L421.0,109.1L419.5,107.8L417.8,105.6L417.0,104.1L416.4,102.6L415.8,100.3L415.5,98.1L415.3,95.8L415.2,95.1L414.9,94.3L414.2,93.9L409.0,93.4L406.8,92.7L405.2,91.9L403.8,90.9L401.8,89.1L400.5,87.6L399.5,86.1L398.7,84.6L397.9,82.4L397.5,80.8L397.4,79.3L397.5,77.1L397.8,75.6L398.1,74.8L398.7,74.1L399.2,73.5L400.0,73.0Z"/>
<path fill="#315dc6" d="M328.0,2.1L340.5,2.1L355.0,17.0L358.2,20.9L361.6,25.4L363.5,28.4L364.3,29.9L365.3,32.1L365.8,33.6L366.2,35.1L366.4,36.6L366.4,38.1L366.2,39.6L365.8,41.1L365.5,41.9L364.8,42.8L364.0,43.5L363.2,43.9L362.5,44.1L361.8,44.1L360.2,43.9L358.8,43.4L357.2,42.7L354.2,40.9L351.2,38.7L348.2,36.1L328.0,16.3ZM376.9,48.6L377.5,48.3L378.2,48.1L379.8,48.0L381.2,48.3L383.5,49.2L385.8,50.5L387.2,51.7L389.4,53.9L391.3,56.1L392.8,58.4L394.4,61.3L395.2,63.6L395.7,65.8L395.8,68.1L395.6,69.6L395.4,70.3L395.0,71.1L394.0,71.9L393.2,72.3L392.5,72.4L391.0,72.5L389.5,72.3L387.2,71.4L385.0,70.0L382.8,68.2L381.2,66.6L379.3,64.3L377.8,62.1L376.2,59.1L375.4,56.9L374.9,54.6L374.9,52.4L375.2,50.9L375.5,50.1L376.0,49.4ZM402.9,72.6L404.5,72.5L406.0,72.7L407.5,73.1L409.0,73.8L411.2,75.3L412.4,76.3L413.8,77.8L414.8,79.3L415.7,80.8L416.3,82.3L416.7,83.8L417.1,86.8L417.1,89.8L417.2,90.8L418.0,91.1L421.8,90.6L423.2,90.7L424.8,90.9L427.0,91.8L428.5,92.8L429.4,93.6L431.2,95.8L432.0,97.3L432.8,99.6L433.8,104.4L433.9,104.8L434.5,105.5L435.2,105.8L439.0,105.9L440.5,106.3L441.2,106.5L442.8,107.4L444.0,108.6L445.2,110.1L446.0,111.6L446.8,113.8L447.5,117.6L448.0,118.6L448.8,119.0L452.5,119.2L453.2,119.3L454.8,120.0L456.2,121.3L457.4,122.8L458.2,124.3L458.8,126.6L459.4,129.6L459.6,130.3L460.0,130.9L460.8,131.1L463.0,130.7L464.5,130.8L466.0,131.4L466.8,132.0L467.5,132.8L467.9,133.3L468.8,134.8L469.3,136.3L470.5,142.0L471.2,142.4L472.8,141.8L474.2,141.4L475.0,141.4L476.5,142.0L477.2,142.5L478.4,143.8L479.2,145.4L479.9,147.6L480.5,151.3L480.7,152.1L481.0,152.7L481.8,152.6L484.0,151.5L484.8,151.4L485.5,151.5L486.2,151.7L487.0,152.3L488.1,153.6L488.9,155.1L489.6,157.3L490.1,161.1L490.3,161.8L490.8,162.4L493.0,161.2L493.8,160.9L494.5,160.9L495.2,161.1L496.0,161.5L497.0,162.6L497.9,164.1L498.4,165.6L498.8,167.1L499.2,170.1L499.4,170.8L499.8,171.6L500.5,171.3L502.0,170.3L502.8,170.0L503.5,170.0L504.2,170.2L505.2,170.8L506.3,172.4L506.9,173.8L507.6,176.8L508.0,179.5L508.2,179.8L508.8,180.2L511.0,178.7L511.8,178.6L512.5,178.7L513.2,179.2L513.9,179.8L514.5,180.6L515.2,182.1L515.9,185.1L516.2,187.4L516.7,188.1L517.0,188.3L517.8,187.8L517.8,192.6L510.2,192.6L508.4,192.6L507.7,189.6L507.2,186.6L506.7,185.8L506.5,185.7L504.3,187.3L503.5,187.6L502.8,187.5L502.0,187.2L501.2,186.6L500.7,185.9L499.9,184.3L499.3,182.8L498.2,177.0L497.5,177.0L496.0,178.1L495.2,178.5L494.5,178.7L493.8,178.7L493.0,178.3L492.1,177.6L491.0,176.1L490.4,174.6L489.7,171.6L489.2,168.0L489.2,167.8L488.5,167.4L486.2,168.9L485.5,169.2L484.8,169.2L484.0,169.1L483.2,168.7L482.2,167.8L481.2,166.3L480.5,164.8L479.9,161.8L479.5,158.7L479.2,158.1L478.8,157.7L475.8,159.1L475.0,159.3L474.2,159.2L473.5,158.9L472.8,158.5L472.0,157.8L471.2,156.8L470.7,155.8L470.0,154.3L469.4,151.3L469.0,148.2L468.6,147.6L468.2,147.3L465.2,148.4L464.5,148.5L463.8,148.5L462.2,148.0L461.5,147.5L460.8,146.8L459.7,145.3L458.9,143.8L458.2,140.8L457.8,137.6L457.6,137.1L457.2,136.3L457.0,136.2L456.2,136.2L454.0,136.8L452.5,136.9L451.0,136.7L449.5,135.9L448.0,134.5L446.7,132.6L446.1,131.1L445.9,130.3L445.0,125.6L444.8,125.1L444.2,124.4L443.5,124.3L439.8,124.5L438.2,124.2L437.5,124.0L436.0,123.1L434.8,122.1L433.6,120.6L432.7,119.1L432.4,118.3L431.9,116.8L431.1,112.3L430.8,111.3L430.3,110.8L430.0,110.6L429.2,110.5L425.5,110.4L423.2,109.8L421.8,109.0L421.0,108.4L419.6,107.1L418.4,105.6L417.5,104.1L416.6,101.8L416.1,98.8L416.0,97.3L416.2,94.3L416.1,93.6L415.9,92.8L415.8,92.7L415.0,92.6L412.8,93.0L410.5,93.1L409.0,92.9L407.5,92.5L406.0,91.9L404.5,91.0L403.0,89.7L401.6,88.3L400.4,86.8L399.5,85.3L398.8,83.8L398.3,82.3L398.0,80.8L397.9,79.3L397.9,77.8L398.3,76.3L398.6,75.6L399.0,74.8L399.7,74.1L400.7,73.3L401.5,73.0Z"/>
<path fill="#336acd" d="M328.0,2.1L339.9,2.1L355.0,17.7L358.3,21.6L361.6,26.1L363.8,29.9L365.1,32.9L365.8,35.9L365.9,37.4L365.8,38.9L365.5,40.2L365.1,41.1L364.7,41.9L364.0,42.6L363.2,43.0L362.5,43.3L361.8,43.4L361.0,43.4L359.5,43.1L358.0,42.5L356.5,41.7L355.0,40.8L352.8,39.2L348.2,35.5L328.0,15.7ZM378.4,48.6L379.8,48.5L382.0,48.9L383.5,49.6L385.8,51.0L388.0,52.8L389.7,54.6L391.5,56.8L392.9,59.1L394.4,62.1L394.9,63.6L395.2,65.1L395.4,67.3L395.3,68.8L395.0,69.6L394.7,70.3L394.0,71.1L393.2,71.6L392.5,71.9L391.0,72.0L389.5,71.8L388.0,71.3L385.8,70.1L383.5,68.5L381.6,66.6L379.7,64.3L378.1,62.1L376.9,59.9L375.8,56.9L375.3,54.6L375.3,53.1L375.5,51.6L375.7,50.8L376.1,50.1L376.8,49.4L377.5,48.9ZM401.9,73.3L403.0,73.0L403.8,72.9L405.2,73.0L406.8,73.3L408.2,73.8L410.5,75.1L411.9,76.3L413.3,77.8L414.4,79.3L415.3,80.8L416.2,83.1L416.6,85.3L416.7,87.6L416.5,89.1L416.3,89.8L415.9,90.6L415.0,91.6L413.5,92.3L411.2,92.6L409.8,92.6L408.2,92.4L406.8,91.8L405.2,91.0L403.0,89.3L401.4,87.6L400.4,86.1L399.5,84.6L398.7,82.3L398.3,80.1L398.3,78.6L398.5,77.1L398.8,76.3L399.2,75.5L399.7,74.8L400.5,74.1ZM420.7,91.3L421.8,91.1L423.2,91.1L425.5,91.5L426.2,91.8L427.8,92.7L429.6,94.3L430.2,95.1L431.2,96.6L432.0,98.1L432.6,100.3L433.2,105.6L433.8,106.4L434.5,106.6L437.5,106.3L439.8,106.5L440.5,106.7L442.0,107.4L443.5,108.6L444.8,110.1L445.3,110.8L446.0,112.3L446.6,114.6L447.1,118.3L447.2,119.2L448.0,119.7L448.8,119.8L450.2,119.5L452.5,119.6L454.0,120.1L454.8,120.5L455.8,121.3L456.5,122.1L457.5,123.6L458.1,125.1L458.8,128.1L459.1,131.1L459.2,131.7L460.0,132.0L462.2,131.3L463.8,131.1L464.5,131.2L465.2,131.4L466.0,131.9L466.9,132.6L468.0,134.1L468.8,135.6L469.4,137.8L469.7,140.1L469.8,142.3L470.0,143.1L470.5,143.6L472.7,142.3L474.2,141.8L475.0,141.8L475.8,142.0L476.5,142.4L477.2,143.0L478.5,144.6L479.2,146.1L479.4,146.8L479.7,148.3L480.0,149.8L480.3,153.9L481.0,153.9L481.3,153.6L482.3,152.8L483.2,152.3L484.0,151.9L484.8,151.8L485.5,151.9L486.2,152.2L487.1,152.8L488.2,154.3L488.9,155.8L489.1,156.6L489.7,159.6L490.0,163.9L490.8,163.6L491.7,162.6L493.0,161.7L493.8,161.3L494.5,161.3L495.2,161.5L496.0,161.9L496.8,162.7L497.2,163.3L497.9,164.8L498.7,167.8L499.0,172.4L499.8,172.8L500.0,172.3L501.2,171.3L502.0,170.7L502.7,170.4L503.5,170.3L504.2,170.6L505.0,171.1L506.0,172.3L506.9,174.6L507.5,177.6L508.0,181.5L508.8,181.1L509.0,180.6L509.9,179.8L511.0,179.1L511.8,179.0L512.5,179.1L513.2,179.6L513.5,179.8L514.1,180.6L514.6,181.3L515.2,182.9L515.8,185.8L516.2,189.4L517.0,189.2L517.2,188.8L517.8,188.4L517.8,192.6L513.2,192.6L508.7,192.6L508.2,191.1L507.8,188.8L507.2,184.5L506.5,184.8L505.6,185.8L504.2,186.9L503.5,187.2L502.8,187.1L502.0,186.8L501.2,186.1L500.1,184.3L499.6,182.8L499.3,181.3L498.7,176.1L498.2,175.4L496.9,176.8L495.2,178.1L494.5,178.3L493.8,178.2L493.0,177.9L492.2,177.3L491.3,176.1L490.4,173.8L489.8,170.1L489.5,166.3L489.2,165.8L488.7,166.3L488.5,166.4L488.0,167.1L487.1,167.8L486.2,168.4L485.5,168.7L484.8,168.8L484.0,168.7L483.2,168.3L482.5,167.7L481.5,166.3L480.6,164.1L480.0,160.3L479.8,157.3L479.5,156.3L478.8,156.7L477.2,157.9L476.5,158.4L475.8,158.7L475.0,158.8L474.2,158.7L473.5,158.5L472.8,158.0L472.0,157.3L471.0,155.8L470.1,153.6L469.5,149.8L469.3,146.8L469.0,146.0L468.2,146.3L466.8,147.3L466.0,147.7L465.2,148.0L464.5,148.1L463.8,148.1L463.0,147.9L461.5,147.1L460.8,146.3L459.6,144.6L458.8,142.3L458.3,139.3L458.1,136.3L457.8,135.3L457.0,135.2L455.5,135.9L454.0,136.4L452.5,136.5L451.0,136.2L450.2,135.9L448.8,134.8L448.0,133.9L447.1,132.6L446.2,130.3L445.7,127.3L445.5,125.1L445.3,124.3L445.0,123.7L444.2,123.4L440.5,124.1L439.0,124.0L438.2,123.8L436.8,123.1L435.2,122.0L434.5,121.2L433.5,119.8L432.5,117.6L431.9,114.6L431.5,110.8L431.2,110.1L430.8,109.7L430.0,109.6L427.0,110.0L425.5,110.0L424.8,109.8L424.0,109.6L422.5,109.0L421.0,108.0L420.1,107.1L419.4,106.3L418.3,104.8L417.5,103.3L417.0,101.8L416.7,100.3L416.5,97.3L416.8,95.1L417.4,93.6L417.9,92.8L418.8,92.1L419.5,91.7Z"/>
<path fill="#3677d5" d="M328.0,2.1L339.3,2.1L355.0,18.2L358.4,22.4L360.6,25.4L362.9,29.1L364.4,32.1L365.2,35.1L365.4,36.6L365.4,38.1L365.1,39.6L364.9,40.4L364.4,41.1L363.8,41.9L363.2,42.2L362.5,42.6L361.8,42.7L361.0,42.7L359.5,42.5L358.0,41.9L356.5,41.2L355.0,40.3L352.8,38.7L350.5,36.9L348.4,35.1L328.0,15.1ZM377.8,49.4L379.0,49.0L380.5,49.0L382.8,49.6L384.2,50.3L386.5,51.9L388.0,53.2L389.5,54.7L391.2,56.9L392.6,59.1L393.7,61.4L394.5,63.6L395.0,65.8L395.0,67.3L394.8,68.9L394.5,69.6L394.0,70.3L393.0,71.1L391.8,71.5L390.2,71.5L388.8,71.2L386.5,70.2L385.0,69.3L382.8,67.4L381.2,65.8L379.4,63.6L378.0,61.4L376.9,59.1L376.1,56.8L375.7,54.6L375.7,53.1L376.0,51.4L376.3,50.8L376.8,50.1ZM403.7,73.3L405.2,73.3L406.8,73.6L409.0,74.6L410.5,75.5L412.0,76.8L413.0,77.8L414.1,79.3L415.3,81.6L416.0,83.8L416.2,85.3L416.2,87.6L415.9,89.1L415.6,89.8L415.1,90.6L414.2,91.3L413.5,91.7L412.0,92.1L410.5,92.3L409.8,92.3L408.2,92.0L406.0,91.1L404.5,90.1L403.0,88.9L401.8,87.6L400.3,85.3L399.5,83.8L398.8,81.6L398.6,80.1L398.7,78.6L399.0,77.1L399.7,75.6L400.8,74.5L402.2,73.7ZM420.0,92.1L421.0,91.7L422.5,91.5L424.0,91.5L425.5,91.9L427.0,92.6L428.5,93.7L429.8,95.1L430.9,96.6L431.9,98.8L432.3,100.3L432.6,103.3L432.5,105.6L432.1,107.1L431.8,107.8L430.6,108.6L429.2,109.2L427.8,109.5L426.2,109.6L424.8,109.5L423.2,109.0L421.8,108.1L420.2,106.8L419.2,105.6L418.2,104.1L417.6,102.6L417.0,100.3L416.8,98.1L417.0,96.6L417.3,95.1L417.6,94.3L418.1,93.6L418.8,92.8ZM435.5,107.1L436.8,106.8L438.2,106.7L439.8,106.8L440.5,107.0L441.2,107.4L442.8,108.3L444.2,109.9L445.3,111.6L446.1,113.8L446.5,116.9L446.5,120.7L447.2,120.9L449.5,120.1L450.2,120.0L452.5,119.9L454.0,120.4L454.8,120.9L455.5,121.5L456.7,122.9L457.5,124.3L458.2,126.6L458.6,129.6L458.4,131.8L458.3,132.6L458.0,133.3L457.4,134.1L456.2,135.0L455.1,135.6L454.0,136.0L453.3,136.2L451.8,136.1L451.0,135.9L449.5,135.0L448.8,134.4L447.9,133.3L447.0,131.8L446.3,129.6L446.0,127.3L445.9,122.8L445.8,122.2L445.0,122.3L442.8,123.3L441.2,123.6L440.5,123.7L439.0,123.6L437.5,123.1L436.0,122.2L435.0,121.3L433.9,119.8L433.4,119.1L432.8,117.6L432.3,115.3L432.1,113.8L432.1,112.3L432.4,109.3L432.7,108.6L433.0,108.3L434.5,107.5ZM461.8,131.8L463.0,131.5L463.8,131.5L464.5,131.5L466.0,132.2L466.8,132.9L467.7,134.1L468.5,135.6L468.8,136.3L469.2,137.8L469.4,140.1L469.5,141.6L469.4,143.1L468.9,144.6L468.4,145.3L467.5,146.3L466.0,147.3L465.2,147.7L464.5,147.8L463.8,147.8L462.2,147.2L461.5,146.7L460.3,145.3L459.5,143.8L459.0,142.3L458.7,140.8L458.5,138.6L458.7,134.8L459.0,134.1L459.5,133.3L460.4,132.6ZM473.6,142.3L474.2,142.2L475.0,142.2L475.8,142.4L476.5,142.8L477.2,143.4L478.2,144.6L478.9,146.1L479.4,147.6L479.6,149.1L479.8,151.3L479.8,152.8L479.3,155.1L478.3,156.6L477.5,157.3L476.4,158.1L475.8,158.4L475.0,158.5L474.2,158.4L473.5,158.1L472.4,157.3L471.8,156.6L470.9,155.1L470.3,153.6L470.0,152.1L469.8,149.8L469.8,148.3L470.0,146.1L470.2,145.3L470.7,144.6L472.0,143.2L472.8,142.7ZM482.9,152.8L484.0,152.3L484.8,152.2L485.5,152.2L486.2,152.5L487.0,153.1L487.9,154.3L488.9,156.6L489.5,160.3L489.5,161.8L489.4,163.3L489.0,164.9L488.6,165.6L488.1,166.4L487.5,167.1L486.6,167.8L485.5,168.4L484.8,168.5L484.0,168.3L483.2,168.0L482.5,167.3L481.8,166.3L481.1,164.8L480.6,163.3L480.2,159.6L480.3,157.4L480.5,155.8L481.3,154.3L482.0,153.6ZM493.4,161.8L493.8,161.7L494.5,161.6L495.2,161.8L496.0,162.3L496.8,163.1L497.3,164.1L498.0,165.6L498.5,168.6L498.7,170.1L498.7,172.3L498.6,173.1L498.1,174.6L497.7,175.3L497.2,176.1L496.0,177.3L495.2,177.7L494.5,178.0L493.8,177.9L493.0,177.5L492.2,176.8L491.5,175.9L490.9,174.6L490.4,173.1L490.2,171.6L490.0,168.6L490.2,165.6L490.5,164.8L491.5,163.3L492.2,162.6ZM502.5,170.8L502.8,170.7L503.5,170.7L504.2,170.9L505.0,171.5L505.8,172.5L506.1,173.1L506.7,174.6L507.0,176.1L507.3,178.3L507.4,180.6L507.1,182.8L506.9,183.6L505.9,185.1L505.2,185.8L504.2,186.6L503.5,186.8L502.8,186.8L502.0,186.4L501.2,185.7L500.5,184.6L500.0,183.6L499.6,182.1L499.2,179.8L499.1,176.8L499.3,174.6L499.8,173.9L500.0,173.1L500.6,172.3L501.3,171.6L502.0,171.1ZM510.4,179.8L511.0,179.5L511.8,179.3L512.5,179.4L513.2,179.9L514.3,181.3L515.2,183.6L515.8,187.3L515.8,190.3L515.5,191.0L515.4,191.8L515.0,192.6L513.2,192.6L508.9,192.6L508.4,191.1L507.8,187.3L507.8,185.8L507.9,184.3L508.1,182.8L508.4,182.1L509.6,180.6ZM517.7,188.8L517.8,192.6L516.2,192.6L516.2,192.6L516.4,191.1L516.6,190.3L517.0,190.0Z"/>
<path fill="#3984dc" d="M328.0,2.1L338.8,2.1L354.9,18.6L358.6,23.1L360.7,26.1L362.9,29.9L363.9,32.1L364.5,33.6L364.8,35.1L365.0,37.4L364.8,38.9L364.6,39.6L364.2,40.4L363.6,41.1L363.2,41.5L362.6,41.9L361.8,42.1L361.0,42.1L359.5,41.9L358.0,41.4L356.5,40.7L354.2,39.3L352.8,38.2L348.9,35.1L328.0,14.6ZM379.5,49.4L381.2,49.5L382.8,49.9L385.0,51.1L386.5,52.2L388.0,53.5L389.7,55.4L391.4,57.6L392.7,59.9L393.8,62.1L394.4,64.3L394.7,66.6L394.5,68.1L394.0,69.5L393.3,70.3L392.5,70.8L391.0,71.2L389.5,71.0L388.0,70.6L386.5,69.9L384.2,68.4L382.8,67.1L380.9,65.1L379.2,62.9L377.9,60.6L377.2,59.1L376.4,56.9L376.0,54.6L376.0,53.1L376.4,51.6L376.8,50.9L377.5,50.1L378.2,49.6ZM402.2,74.1L403.8,73.7L405.2,73.7L406.8,74.0L408.2,74.5L409.8,75.4L411.3,76.5L412.6,77.8L413.7,79.3L414.6,80.8L415.5,83.1L415.9,85.3L415.9,86.8L415.7,88.3L415.4,89.1L415.0,89.8L414.2,90.7L413.2,91.3L411.2,91.9L409.8,91.9L408.2,91.7L406.8,91.1L405.2,90.3L403.8,89.2L402.2,87.7L401.0,86.1L400.2,84.6L399.3,82.3L399.0,80.1L399.0,78.6L399.4,77.1L400.0,75.9L401.0,74.8ZM421.1,92.1L422.5,91.8L424.0,91.9L425.5,92.3L427.0,93.0L428.5,94.1L429.5,95.1L430.6,96.6L431.3,98.1L431.8,99.6L432.2,101.8L432.2,104.1L432.0,105.6L431.3,107.1L430.6,107.8L429.2,108.7L427.8,109.1L426.3,109.3L424.7,109.1L423.2,108.6L421.9,107.8L420.9,107.1L419.5,105.6L418.6,104.1L417.9,102.6L417.4,101.1L417.1,98.8L417.2,97.3L417.5,95.8L418.1,94.3L418.8,93.5L419.5,92.8L420.2,92.4ZM437.1,107.1L438.2,107.0L439.8,107.2L441.2,107.7L442.0,108.1L442.8,108.7L444.1,110.1L445.0,111.6L445.6,113.1L446.0,114.6L446.2,116.8L446.2,118.3L445.8,119.8L445.6,120.6L445.0,121.3L444.2,122.1L443.5,122.6L442.0,123.1L440.5,123.4L439.0,123.3L438.2,123.1L436.8,122.4L435.2,121.2L434.2,119.8L433.4,118.3L432.8,116.8L432.6,115.3L432.4,113.1L432.5,111.6L432.9,110.1L433.3,109.3L433.9,108.6L434.5,108.1L436.0,107.3ZM449.3,120.6L450.2,120.3L451.8,120.2L453.2,120.4L454.0,120.7L455.5,121.8L456.2,122.7L456.9,123.6L457.6,125.1L458.0,126.6L458.3,128.9L458.3,130.3L458.0,131.8L457.4,133.3L456.7,134.1L455.8,134.8L454.8,135.4L453.2,135.9L452.5,135.9L451.8,135.8L450.2,135.2L449.5,134.7L448.2,133.3L447.7,132.6L447.0,131.1L446.6,129.6L446.2,127.3L446.2,125.8L446.4,124.3L446.8,122.8L447.3,122.1L448.0,121.3ZM463.1,131.8L463.8,131.8L464.5,131.9L465.2,132.1L466.0,132.6L466.9,133.3L467.5,134.2L468.3,135.6L468.8,137.1L469.1,138.6L469.2,140.1L469.2,141.6L468.9,143.1L468.4,144.6L468.0,145.3L467.3,146.1L466.0,147.0L465.2,147.3L464.5,147.5L463.8,147.5L463.0,147.3L462.2,146.9L461.3,146.1L460.6,145.3L459.8,143.8L459.2,142.3L458.9,140.8L458.7,138.6L458.8,137.1L459.0,135.6L459.6,134.1L460.2,133.4L461.1,132.6L462.2,132.0ZM472.7,143.1L473.5,142.7L474.2,142.5L475.0,142.5L475.8,142.7L476.5,143.1L477.2,143.8L477.9,144.6L478.3,145.3L479.0,146.8L479.3,148.3L479.5,150.6L479.5,152.1L479.3,153.6L479.2,154.4L478.4,155.8L477.9,156.6L477.0,157.3L476.5,157.7L475.8,158.0L475.0,158.2L474.2,158.1L473.5,157.8L472.8,157.3L472.0,156.5L471.5,155.8L471.1,155.1L470.6,153.6L470.2,152.1L470.0,149.8L470.0,148.3L470.2,146.8L470.7,145.3L471.1,144.6L471.7,143.8ZM483.5,152.8L484.0,152.6L484.8,152.4L485.5,152.5L486.2,152.9L487.0,153.5L488.1,155.1L488.9,157.4L489.1,158.8L489.3,161.1L489.2,162.6L488.9,164.1L488.3,165.6L487.8,166.3L487.1,167.1L486.2,167.7L485.5,168.1L484.8,168.2L484.0,168.0L483.2,167.6L482.7,167.1L481.6,165.6L481.0,164.1L480.6,162.6L480.4,159.6L480.5,158.1L480.7,156.6L481.3,155.1L481.8,154.3L482.5,153.5ZM492.6,162.6L493.8,162.0L494.5,161.9L495.2,162.1L495.9,162.6L496.6,163.3L497.1,164.1L497.8,165.6L498.0,166.3L498.4,169.3L498.5,170.8L498.4,172.3L497.8,174.6L496.8,176.1L496.0,176.9L495.2,177.4L494.5,177.6L493.8,177.6L493.0,177.2L492.2,176.6L491.5,175.5L491.1,174.6L490.6,173.1L490.3,171.6L490.2,169.3L490.2,167.8L490.4,166.4L490.6,165.6L491.3,164.1L491.8,163.3ZM501.7,171.6L502.8,171.0L503.5,171.0L504.2,171.2L505.0,171.8L505.8,172.8L506.2,173.8L506.7,175.3L507.0,176.8L507.2,179.1L507.0,182.1L506.8,182.8L506.1,184.3L505.5,185.1L504.8,185.8L504.2,186.3L503.5,186.5L502.8,186.5L502.0,186.1L501.2,185.4L500.5,184.2L500.0,182.8L499.6,181.3L499.3,178.3L499.3,176.8L499.5,175.3L500.0,173.8L500.4,173.1L501.0,172.3ZM510.9,179.8L511.8,179.6L512.5,179.8L513.2,180.2L514.1,181.3L515.0,183.6L515.3,185.1L515.5,187.3L515.5,188.8L515.4,190.3L515.0,191.8L514.6,192.6L514.0,192.6L509.1,192.6L508.6,191.1L508.3,189.6L508.0,187.3L508.1,185.1L508.3,183.6L508.5,182.8L509.3,181.3L510.2,180.3ZM517.5,189.6L517.8,189.2L517.8,192.6L517.0,192.6L516.4,192.6L516.5,191.8L516.7,191.1Z"/>
<path fill="#3f91e1" d="M328.0,2.1L338.4,2.1L354.5,18.6L357.6,22.4L359.8,25.4L362.2,29.1L363.6,32.1L364.1,33.6L364.4,35.1L364.5,37.4L364.3,38.9L364.0,39.6L363.2,40.7L362.5,41.2L361.8,41.5L361.0,41.6L359.5,41.4L358.0,40.9L356.5,40.2L355.0,39.3L352.8,37.8L349.0,34.8L328.0,14.1ZM378.3,50.1L379.0,49.8L379.8,49.7L381.2,49.8L382.8,50.3L384.2,51.0L385.8,51.9L387.2,53.2L388.8,54.6L390.6,56.9L392.1,59.1L392.9,60.6L393.7,62.9L394.3,65.1L394.3,66.6L394.3,67.3L394.0,68.5L393.4,69.6L392.4,70.3L391.8,70.6L391.0,70.8L389.5,70.7L388.0,70.3L386.5,69.6L385.0,68.6L382.8,66.7L381.2,65.1L379.5,62.9L378.6,61.3L377.5,59.1L376.9,57.6L376.4,55.4L376.3,53.9L376.5,52.3L376.8,51.6L377.3,50.9ZM403.5,74.1L405.2,74.0L406.8,74.3L408.2,74.9L409.8,75.7L411.2,76.9L412.2,77.8L413.4,79.3L414.3,80.8L415.2,83.1L415.5,84.6L415.6,86.1L415.5,87.6L414.9,89.1L414.2,90.1L413.5,90.7L412.0,91.3L410.5,91.6L409.0,91.5L407.5,91.1L406.0,90.4L404.5,89.4L403.0,88.1L401.5,86.3L400.5,84.6L399.6,82.3L399.3,80.8L399.3,79.3L399.5,77.8L400.0,76.6L400.8,75.6L401.5,74.9L402.2,74.5ZM420.2,92.8L421.0,92.5L422.5,92.2L424.0,92.2L425.5,92.6L427.0,93.3L428.4,94.3L429.2,95.2L430.3,96.6L431.0,98.1L431.7,100.3L431.9,102.6L431.9,104.1L431.5,105.6L431.2,106.3L430.7,107.1L430.0,107.8L429.2,108.3L427.8,108.8L426.2,109.0L424.8,108.8L423.2,108.3L421.8,107.4L421.0,106.8L419.9,105.6L418.9,104.1L418.2,102.6L417.7,101.1L417.4,98.8L417.5,97.3L417.8,95.8L418.6,94.3L419.2,93.6ZM435.7,107.8L436.8,107.5L438.2,107.3L439.8,107.4L440.5,107.7L442.0,108.4L442.8,109.0L443.8,110.1L444.7,111.6L445.4,113.1L445.7,114.6L445.9,116.8L445.8,118.3L445.4,119.8L445.0,120.7L444.2,121.6L443.5,122.1L442.8,122.5L441.2,123.0L439.8,123.1L439.0,123.0L437.5,122.5L436.0,121.5L435.2,120.8L434.5,119.8L433.6,118.3L433.1,116.8L432.8,115.3L432.7,113.1L432.9,111.6L433.4,110.1L433.8,109.3L434.5,108.6ZM450.5,120.6L451.8,120.5L452.5,120.5L454.0,121.0L454.7,121.5L455.5,122.2L456.6,123.6L457.3,125.1L457.8,126.6L458.0,128.1L458.0,129.6L457.9,131.1L457.4,132.6L456.9,133.3L456.3,134.1L455.5,134.7L454.0,135.4L453.2,135.6L451.8,135.5L451.0,135.3L450.2,134.9L449.2,134.1L448.5,133.3L447.6,131.8L446.8,129.6L446.5,126.6L446.6,125.1L446.9,123.6L447.3,122.9L448.0,121.9L448.7,121.3L449.5,120.9ZM461.7,132.6L463.0,132.1L463.8,132.1L464.5,132.2L465.2,132.4L466.0,132.9L466.8,133.6L467.7,134.8L468.6,137.1L468.9,138.6L469.0,140.1L468.9,141.6L468.7,143.1L468.1,144.6L467.6,145.3L466.8,146.2L465.7,146.8L464.5,147.2L463.8,147.2L463.0,147.0L462.2,146.6L461.5,146.0L460.4,144.6L459.7,143.1L459.4,142.3L459.1,140.8L459.0,139.3L459.0,137.8L459.2,136.3L459.6,134.8L460.1,134.1L460.8,133.3ZM473.3,143.1L474.2,142.8L475.0,142.8L475.8,143.0L476.5,143.4L477.2,144.1L478.0,145.1L478.5,146.1L479.0,147.6L479.2,149.1L479.4,150.6L479.3,152.1L479.1,153.6L478.6,155.1L478.1,155.8L477.5,156.6L476.5,157.4L475.8,157.8L475.0,157.9L474.2,157.8L473.5,157.5L472.8,157.0L472.0,156.2L471.4,155.1L471.0,154.3L470.5,152.8L470.3,151.3L470.2,149.8L470.2,148.3L470.5,146.8L471.0,145.3L471.5,144.6L472.1,143.8ZM484.2,152.8L484.8,152.7L485.5,152.8L486.2,153.2L487.0,153.8L487.8,154.8L488.2,155.8L488.7,157.3L489.0,158.9L489.1,160.3L489.1,161.8L488.9,163.3L488.7,164.1L488.0,165.6L487.0,166.8L486.2,167.4L485.5,167.8L485.0,167.8L484.0,167.7L483.2,167.3L482.5,166.6L481.8,165.6L481.5,164.8L481.0,163.3L480.7,161.8L480.6,160.3L480.6,158.9L480.8,157.3L481.2,155.8L481.6,155.1L482.1,154.3L482.8,153.6L483.2,153.3ZM493.1,162.6L493.8,162.3L494.5,162.2L495.2,162.4L496.0,163.0L496.8,163.9L497.3,164.9L498.0,167.1L498.3,170.1L498.2,171.6L498.0,173.1L497.8,173.8L497.1,175.3L496.5,176.1L495.7,176.8L495.2,177.1L494.5,177.3L493.8,177.3L492.9,176.8L492.2,176.2L491.5,175.1L491.0,173.8L490.6,172.3L490.3,169.3L490.4,167.8L490.6,166.3L491.1,164.8L491.6,164.1L492.2,163.3ZM502.2,171.6L502.8,171.3L503.5,171.3L504.2,171.5L505.0,172.2L505.7,173.1L506.1,173.8L506.6,175.3L506.9,176.8L507.0,179.8L506.8,182.1L506.2,183.6L505.8,184.3L505.0,185.4L504.2,186.0L503.5,186.2L502.8,186.2L502.0,185.8L501.2,185.0L500.5,183.7L500.2,182.8L499.7,180.6L499.5,177.6L499.6,176.1L500.0,174.6L500.7,173.1L501.3,172.3ZM510.3,180.6L511.0,180.1L511.7,179.9L512.5,180.0L513.2,180.6L514.0,181.5L514.8,183.6L515.2,185.1L515.4,187.3L515.4,188.9L515.2,190.3L515.0,191.1L514.4,192.6L513.2,192.6L509.3,192.6L508.5,190.3L508.2,187.3L508.2,185.9L508.3,184.3L508.5,183.6L509.1,182.1L509.6,181.3ZM517.3,190.3L517.8,189.6L517.8,192.6L517.0,192.6L516.6,192.6L516.7,191.8Z"/>
<path fill="#4a9fe3" d="M328.0,2.1L338.0,2.1L354.2,18.8L357.8,23.1L360.0,26.1L361.4,28.4L362.9,31.4L363.5,32.9L363.9,34.4L364.1,36.6L364.0,38.1L363.8,38.9L363.2,39.8L362.5,40.5L361.8,40.9L361.0,41.0L360.2,41.0L358.8,40.7L357.2,40.1L355.8,39.4L354.2,38.4L352.0,36.8L349.0,34.3L328.0,13.7ZM379.7,50.1L381.2,50.1L382.8,50.6L384.2,51.3L385.8,52.2L387.2,53.4L389.1,55.4L390.3,56.9L391.8,59.1L392.9,61.4L393.5,62.9L394.0,65.1L394.0,66.6L393.7,68.1L393.2,69.1L392.5,69.8L391.8,70.2L391.2,70.3L390.2,70.4L389.5,70.4L388.0,70.0L386.5,69.3L385.0,68.3L383.5,67.1L381.5,65.1L380.3,63.6L378.8,61.4L378.0,59.9L377.1,57.6L376.7,55.4L376.6,53.9L376.9,52.4L377.5,51.3L378.2,50.6L379.0,50.2ZM402.3,74.8L403.8,74.4L405.2,74.3L406.8,74.6L408.2,75.1L409.8,76.0L411.1,77.1L412.0,78.0L413.1,79.3L414.0,80.8L414.7,82.3L415.2,84.6L415.3,86.1L415.1,87.6L414.5,89.1L413.9,89.8L412.8,90.7L411.2,91.2L409.8,91.3L408.2,91.0L406.8,90.5L405.2,89.7L403.8,88.5L402.9,87.6L401.7,86.1L400.4,83.8L399.9,82.3L399.6,80.8L399.6,79.3L399.9,77.8L400.6,76.3L401.5,75.4ZM421.0,92.8L422.5,92.5L424.0,92.5L424.8,92.6L426.2,93.2L427.8,94.2L428.8,95.1L430.0,96.6L430.8,98.1L431.3,99.6L431.6,101.1L431.6,103.3L431.4,104.8L430.8,106.3L430.2,107.1L429.2,107.8L427.8,108.4L426.2,108.7L425.5,108.6L424.0,108.3L422.5,107.6L421.0,106.4L420.2,105.6L419.2,104.1L418.4,102.6L418.0,101.1L417.7,99.6L417.7,98.1L417.9,96.6L418.5,95.1L419.0,94.3L419.8,93.6ZM436.7,107.8L437.5,107.7L439.0,107.6L440.5,108.0L441.7,108.6L442.8,109.4L443.5,110.2L444.5,111.6L445.1,113.1L445.5,114.6L445.6,116.1L445.6,117.6L445.3,119.1L445.0,119.9L444.2,121.0L443.5,121.7L442.0,122.5L440.5,122.8L439.8,122.8L438.2,122.5L437.3,122.1L436.2,121.3L435.2,120.4L434.3,119.1L433.6,117.6L433.2,116.1L432.9,113.8L433.0,112.3L433.4,110.8L433.8,110.1L434.5,109.1L435.2,108.5ZM449.3,121.3L450.2,120.9L451.0,120.8L452.5,120.8L453.2,121.0L454.0,121.3L455.1,122.1L455.8,122.8L456.8,124.3L457.4,125.8L457.7,127.3L457.8,128.8L457.7,130.3L457.4,131.8L457.0,132.6L456.2,133.7L455.5,134.3L454.0,135.1L453.2,135.3L451.8,135.2L451.0,135.0L450.2,134.6L449.5,134.0L448.8,133.3L447.8,131.8L447.2,130.3L446.8,128.8L446.7,126.6L446.8,125.1L447.2,123.7L447.7,122.8L448.3,122.1ZM462.4,132.6L463.8,132.3L464.5,132.4L465.2,132.7L466.0,133.2L466.8,133.9L467.5,135.0L468.1,136.3L468.6,137.8L468.8,140.1L468.7,141.6L468.4,143.1L468.2,143.8L467.5,145.0L466.8,145.8L466.0,146.4L464.8,146.8L463.8,146.9L463.0,146.7L462.2,146.3L461.5,145.7L460.6,144.6L460.0,143.4L459.6,142.3L459.3,140.8L459.2,139.3L459.2,137.8L459.6,135.6L460.0,134.8L460.8,133.7L461.5,133.0ZM474.1,143.1L475.0,143.0L475.8,143.3L476.5,143.7L477.2,144.4L478.3,146.1L478.8,147.6L479.1,149.1L479.2,150.6L479.1,152.1L478.9,153.6L478.6,154.3L478.0,155.6L477.2,156.5L476.5,157.1L475.8,157.5L475.0,157.6L474.2,157.5L473.5,157.2L472.7,156.6L472.0,155.8L471.2,154.3L470.7,152.8L470.5,151.3L470.4,149.8L470.4,148.3L470.9,146.1L471.3,145.4L472.0,144.4L472.8,143.7L473.5,143.3ZM483.2,153.6L484.0,153.2L484.8,153.0L485.5,153.1L486.2,153.5L487.0,154.1L487.7,155.1L488.0,155.8L488.5,157.3L488.8,158.8L488.9,160.4L488.9,161.8L488.6,163.3L488.1,164.8L487.8,165.5L487.1,166.3L486.3,167.1L485.5,167.5L484.8,167.6L484.0,167.4L483.2,167.0L482.5,166.3L482.1,165.6L481.7,164.8L481.2,163.3L480.9,161.8L480.8,160.3L480.8,158.8L481.0,157.3L481.5,155.8L481.9,155.1L482.5,154.2ZM493.7,162.6L494.5,162.5L495.2,162.7L496.0,163.3L496.7,164.1L497.1,164.8L497.6,166.3L498.0,168.6L498.0,171.6L497.8,173.1L497.6,173.8L496.8,175.4L496.0,176.3L495.2,176.8L494.5,177.1L493.8,177.0L493.0,176.6L492.2,175.9L491.5,174.7L491.2,173.8L490.8,172.3L490.6,170.8L490.5,169.3L490.6,167.8L491.1,165.6L491.5,164.6L492.2,163.6L493.0,162.9ZM503.0,171.6L503.5,171.6L504.2,171.8L505.0,172.5L505.8,173.6L506.2,174.6L506.6,176.1L506.8,178.3L506.9,179.8L506.7,181.4L506.0,183.6L505.0,185.0L504.2,185.7L503.5,185.9L502.8,185.9L502.0,185.5L501.0,184.3L500.5,183.3L500.1,182.1L499.7,179.1L499.7,177.6L499.8,176.1L500.2,174.6L500.5,173.9L501.0,173.1L501.6,172.3L502.0,172.0ZM510.6,180.6L511.0,180.3L511.8,180.2L512.5,180.3L513.2,180.9L514.1,182.1L514.9,184.3L515.2,187.3L515.2,188.8L515.0,190.3L514.5,191.9L514.1,192.6L513.2,192.6L509.5,192.6L508.7,190.3L508.4,188.8L508.3,187.3L508.3,185.8L508.5,184.3L509.0,182.9L509.3,182.1L509.9,181.3ZM517.5,190.3L517.8,190.0L517.8,192.6L517.0,192.6L516.8,192.6Z"/>
<path fill="#55aee6" d="M328.0,2.1L337.6,2.1L354.4,19.4L357.5,23.1L359.7,26.1L361.5,29.1L362.9,32.1L363.5,34.4L363.7,36.6L363.5,38.1L363.3,38.8L362.5,39.8L361.8,40.3L361.0,40.5L360.2,40.5L358.8,40.3L357.2,39.7L355.8,38.9L354.2,38.0L352.0,36.4L349.0,33.9L328.0,13.3ZM378.6,50.9L379.8,50.4L381.2,50.5L382.8,50.9L384.2,51.6L385.8,52.5L387.4,53.9L388.9,55.4L390.6,57.6L392.0,59.9L392.7,61.4L393.5,63.6L393.7,65.1L393.7,66.6L393.4,68.1L392.9,68.8L392.1,69.6L391.0,70.0L389.5,70.1L388.0,69.7L386.5,69.0L384.2,67.5L382.8,66.1L381.2,64.5L380.0,62.8L378.6,60.6L377.9,59.1L377.2,56.9L376.9,55.4L376.9,53.9L377.3,52.4L377.8,51.6ZM403.3,74.8L404.5,74.6L406.0,74.7L407.5,75.1L409.0,75.8L410.5,76.9L411.6,77.8L412.8,79.3L413.8,80.8L414.4,82.3L414.8,83.8L415.0,85.3L414.9,86.8L414.5,88.3L414.0,89.1L413.3,89.8L412.0,90.6L410.5,90.9L409.0,90.9L407.5,90.5L406.0,89.8L404.5,88.8L403.2,87.6L402.0,86.1L401.1,84.6L400.4,83.1L400.0,81.6L399.9,80.1L400.0,78.6L400.5,77.1L401.0,76.3L401.5,75.8L402.2,75.3ZM422.3,92.8L423.2,92.8L424.7,92.9L426.2,93.5L427.6,94.3L428.5,95.2L429.7,96.6L430.5,98.1L431.0,99.6L431.3,101.1L431.4,102.6L431.2,104.1L430.8,105.6L430.0,106.7L429.2,107.4L428.4,107.8L427.0,108.3L425.5,108.3L424.0,108.0L422.5,107.3L421.8,106.7L421.0,106.1L419.9,104.8L419.0,103.3L418.4,101.8L418.1,100.3L418.0,98.8L418.1,97.3L418.5,95.8L418.9,95.1L419.5,94.3L420.2,93.6L421.0,93.2ZM435.7,108.6L436.8,108.2L438.2,107.9L439.0,107.9L440.5,108.3L442.0,109.1L442.8,109.7L443.5,110.6L444.2,111.7L444.9,113.1L445.3,114.6L445.4,116.1L445.3,117.6L445.0,119.1L444.7,119.8L444.2,120.6L443.5,121.3L442.8,121.8L441.2,122.4L440.5,122.5L439.8,122.5L438.2,122.2L436.8,121.4L436.0,120.8L435.1,119.8L434.2,118.3L433.6,116.8L433.3,115.3L433.2,113.8L433.3,112.3L433.8,110.9L434.2,110.1L434.8,109.3ZM450.0,121.3L451.0,121.1L451.8,121.0L453.2,121.3L454.0,121.6L454.8,122.1L455.5,122.9L456.1,123.6L456.5,124.3L457.1,125.8L457.5,127.3L457.6,128.8L457.5,130.4L457.1,131.8L456.7,132.6L456.2,133.3L455.3,134.1L454.0,134.8L453.2,135.0L452.5,135.1L451.8,134.9L450.2,134.3L449.5,133.7L448.5,132.6L448.0,131.8L447.4,130.3L447.1,128.8L446.9,127.3L447.0,125.8L447.2,124.5L447.6,123.6L448.0,122.8L448.8,122.1ZM461.6,133.3L462.2,133.0L463.0,132.7L463.8,132.6L464.5,132.7L465.2,133.0L466.0,133.5L466.8,134.3L467.5,135.4L467.9,136.3L468.4,137.8L468.6,139.3L468.6,140.8L468.4,142.3L467.9,143.8L467.5,144.6L466.9,145.3L466.0,146.1L465.2,146.5L464.5,146.6L463.8,146.6L463.0,146.4L462.4,146.1L461.5,145.3L460.9,144.6L460.0,142.8L459.6,141.6L459.4,140.1L459.4,138.6L459.5,137.1L459.9,135.6L460.2,134.8L460.8,134.1ZM473.0,143.8L473.5,143.6L474.2,143.3L475.0,143.3L475.8,143.5L476.5,144.0L477.2,144.8L477.6,145.4L478.1,146.1L478.6,147.6L479.0,149.8L479.0,151.3L478.8,152.8L478.4,154.3L478.0,155.1L477.5,155.8L476.7,156.6L475.8,157.2L475.0,157.3L474.2,157.2L473.5,156.9L472.8,156.4L472.0,155.4L471.1,153.6L470.8,152.1L470.6,150.6L470.6,149.1L470.7,147.6L471.2,146.1L471.6,145.3L472.1,144.6ZM483.8,153.6L484.8,153.3L485.5,153.4L486.2,153.8L487.0,154.5L487.8,155.7L488.1,156.6L488.7,158.8L488.8,160.3L488.7,161.8L488.2,164.1L487.8,165.1L487.0,166.2L486.2,166.8L485.8,167.1L484.8,167.3L484.0,167.2L483.2,166.7L482.9,166.3L482.3,165.6L481.8,164.6L481.3,163.3L481.0,161.8L480.9,160.3L481.0,158.8L481.4,156.6L481.8,155.8L482.5,154.6L483.2,153.9ZM492.9,163.3L493.8,162.9L494.5,162.8L495.2,163.0L495.7,163.3L496.4,164.1L496.9,164.8L497.7,167.1L497.9,168.6L497.9,170.1L497.8,172.3L497.5,173.4L497.0,174.6L496.5,175.4L495.9,176.1L495.2,176.6L494.5,176.8L493.8,176.7L493.0,176.3L492.2,175.6L491.7,174.6L491.3,173.8L490.9,172.4L490.7,170.8L490.6,169.3L490.9,167.1L491.3,165.6L491.6,164.8L492.2,163.9ZM501.9,172.3L502.8,171.9L503.5,171.8L504.2,172.1L504.5,172.3L505.0,172.8L505.8,174.0L506.4,176.1L506.6,177.6L506.7,179.1L506.5,181.3L506.1,182.8L505.8,183.6L505.0,184.7L504.2,185.4L503.5,185.7L502.8,185.6L502.0,185.2L501.2,184.3L500.5,182.9L500.3,182.1L500.0,180.6L499.8,179.1L499.8,177.6L500.0,176.1L500.4,174.6L500.8,173.8L501.2,173.1ZM511.1,180.6L511.8,180.4L512.5,180.6L513.4,181.3L514.3,182.8L514.7,184.3L515.0,185.8L515.0,188.8L514.8,190.3L514.6,191.1L513.9,192.6L512.5,192.6L509.7,192.6L509.1,191.1L508.6,188.8L508.5,185.8L508.9,183.6L509.6,182.1L510.2,181.2ZM517.4,191.1L517.8,190.4L517.8,192.6L517.0,192.6Z"/>
<path fill="#5fbce8" d="M328.0,2.1L337.2,2.1L354.2,19.5L357.2,23.1L359.3,26.1L361.2,29.1L362.2,31.4L363.0,33.6L363.3,35.9L363.2,37.4L363.0,38.1L362.5,39.0L361.8,39.6L361.0,39.9L360.2,40.0L358.8,39.8L357.2,39.3L355.8,38.6L354.2,37.6L352.0,36.1L349.0,33.6L328.0,12.9ZM379.6,50.9L380.5,50.7L382.0,50.9L383.5,51.4L385.0,52.3L386.5,53.4L388.0,54.7L389.5,56.4L390.9,58.4L392.1,60.6L392.8,62.1L393.4,64.3L393.5,65.8L393.3,67.3L393.0,68.1L392.4,68.8L391.8,69.4L391.2,69.6L390.2,69.8L388.8,69.6L387.2,69.1L385.8,68.3L384.2,67.2L382.7,65.8L381.2,64.2L379.7,62.1L378.5,59.8L377.9,58.4L377.3,56.1L377.2,54.6L377.4,53.1L377.7,52.4L378.3,51.6L379.0,51.1ZM402.4,75.6L403.8,75.1L404.5,74.9L406.0,75.0L407.5,75.4L409.0,76.1L410.5,77.2L411.9,78.6L413.0,80.1L413.8,81.6L414.4,83.1L414.7,84.6L414.7,86.1L414.4,87.6L414.1,88.3L413.5,89.2L412.8,89.8L412.0,90.2L411.2,90.5L409.8,90.7L408.2,90.4L406.8,89.9L405.2,89.0L403.8,87.8L402.8,86.8L401.8,85.3L401.0,83.8L400.5,82.3L400.2,80.8L400.2,79.3L400.5,77.8L400.9,77.1L401.5,76.3ZM421.0,93.6L421.8,93.3L423.2,93.1L424.8,93.3L425.8,93.6L427.0,94.3L428.0,95.1L429.2,96.5L430.0,97.7L430.5,98.8L430.9,100.3L431.1,101.8L431.0,103.3L430.8,104.7L430.4,105.6L429.9,106.3L429.2,106.9L428.5,107.4L427.4,107.8L426.2,108.0L424.8,107.9L424.0,107.7L422.8,107.1L421.7,106.3L420.3,104.8L419.5,103.7L418.7,101.8L418.4,100.3L418.2,98.8L418.4,97.3L418.8,96.1L419.3,95.1L419.9,94.3ZM436.5,108.6L437.5,108.3L438.2,108.2L439.8,108.3L440.6,108.6L441.9,109.3L442.8,110.1L443.5,111.0L444.3,112.3L444.9,113.8L445.1,115.3L445.1,116.8L444.9,118.3L444.3,119.8L443.8,120.6L442.9,121.3L442.0,121.8L441.2,122.1L439.8,122.2L438.8,122.1L437.5,121.6L436.1,120.6L435.4,119.8L434.5,118.5L434.1,117.6L433.7,116.1L433.5,114.6L433.5,113.1L433.8,111.7L434.1,110.8L434.5,110.1L435.2,109.3ZM451.3,121.3L452.5,121.4L453.2,121.6L454.0,121.9L455.2,122.8L456.2,124.3L456.6,125.1L457.0,126.1L457.3,127.3L457.3,128.8L457.2,130.3L457.0,131.3L456.4,132.6L455.8,133.3L454.8,134.1L454.0,134.5L453.2,134.7L452.5,134.8L451.8,134.7L451.0,134.4L450.2,134.0L449.5,133.4L448.8,132.5L448.0,131.3L447.6,130.3L447.3,128.8L447.1,127.3L447.2,125.8L447.6,124.3L447.9,123.6L448.8,122.5L449.5,121.9L450.2,121.6ZM462.1,133.3L463.0,133.0L463.8,132.9L464.5,133.0L465.2,133.3L466.0,133.8L466.8,134.6L467.5,135.9L468.0,137.1L468.4,139.3L468.4,140.8L468.2,142.3L467.5,144.1L466.8,145.1L466.0,145.8L465.2,146.2L464.5,146.4L463.8,146.3L463.0,146.1L462.2,145.7L461.2,144.6L460.7,143.8L460.0,142.3L459.7,140.8L459.6,139.3L459.6,137.8L459.9,136.3L460.1,135.6L460.8,134.5L461.5,133.7ZM473.5,143.8L474.2,143.6L475.0,143.6L475.8,143.8L476.5,144.3L477.2,145.1L477.8,146.1L478.2,146.8L478.6,148.3L478.8,149.8L478.8,151.3L478.4,153.6L477.7,155.1L477.2,155.8L476.3,156.6L475.8,156.9L475.0,157.0L474.2,157.0L473.5,156.6L472.8,156.0L472.0,155.1L471.3,153.6L471.1,152.8L470.8,151.3L470.7,149.8L470.8,148.3L471.1,146.8L472.0,145.1L472.8,144.4ZM484.6,153.6L485.5,153.7L486.2,154.1L487.0,154.8L487.6,155.8L488.0,156.6L488.5,158.8L488.6,161.1L488.2,163.3L487.6,164.9L487.0,165.8L486.2,166.5L485.5,166.9L484.8,167.0L484.0,166.9L483.2,166.4L482.5,165.6L481.8,164.1L481.2,161.8L481.1,160.4L481.1,158.8L481.4,157.3L481.8,156.3L482.4,155.1L483.1,154.3L484.0,153.8ZM493.3,163.3L493.8,163.1L494.5,163.1L495.2,163.3L496.0,163.9L496.7,164.8L497.0,165.6L497.6,167.8L497.8,170.1L497.7,171.6L497.5,172.7L496.8,174.6L496.0,175.7L495.5,176.1L494.5,176.5L493.8,176.4L493.0,176.0L492.2,175.2L491.5,173.8L491.0,171.6L490.8,170.1L490.8,168.6L491.2,166.3L491.5,165.6L492.2,164.3L493.0,163.5ZM502.4,172.3L502.8,172.2L503.5,172.1L504.2,172.4L505.0,173.1L505.8,174.6L506.4,176.9L506.5,178.3L506.5,179.8L506.2,182.1L505.5,183.6L505.0,184.4L504.3,185.1L503.5,185.4L502.8,185.3L502.0,184.9L501.2,184.0L500.7,182.8L500.4,182.1L500.1,180.6L500.0,179.1L500.0,177.6L500.3,175.4L500.6,174.6L501.2,173.4L502.0,172.6ZM510.4,181.3L511.0,180.9L511.8,180.7L512.5,180.9L513.2,181.5L513.7,182.1L514.1,182.8L514.6,184.3L514.9,186.6L514.9,188.1L514.8,189.6L514.4,191.1L514.1,191.8L513.6,192.6L513.2,192.6L510.0,192.6L509.5,191.8L509.0,190.3L508.7,188.1L508.6,186.6L508.7,185.1L509.4,182.8L509.8,182.1ZM517.6,191.1L517.8,190.8L517.8,192.6L517.1,192.6Z"/>
<path fill="#6acaea" d="M328.0,2.1L336.8,2.1L354.2,19.9L356.9,23.1L359.0,26.1L360.9,29.1L361.9,31.4L362.7,33.6L363.0,35.9L362.8,37.4L362.5,38.1L361.9,38.9L361.0,39.4L360.2,39.5L359.5,39.5L358.0,39.2L356.5,38.6L355.0,37.8L351.2,35.1L349.0,33.2L328.0,12.5ZM378.8,51.6L379.8,51.2L381.2,51.1L382.0,51.2L383.5,51.7L385.0,52.5L386.5,53.6L388.0,55.0L389.6,56.9L390.7,58.4L391.9,60.6L392.8,62.9L393.1,64.3L393.2,65.8L392.9,67.3L392.5,68.2L391.8,68.9L391.0,69.3L390.2,69.4L389.5,69.4L388.0,69.1L386.5,68.5L385.0,67.5L383.5,66.3L382.3,65.1L381.0,63.6L380.0,62.1L378.7,59.8L378.1,58.4L377.7,56.9L377.5,55.4L377.5,53.8L377.7,53.1L378.1,52.4ZM403.2,75.6L404.5,75.3L405.2,75.2L406.8,75.5L408.2,76.0L409.8,76.9L410.5,77.5L411.6,78.6L412.8,80.1L413.6,81.6L414.1,83.1L414.4,84.6L414.4,86.1L414.0,87.6L413.7,88.3L413.1,89.1L412.0,89.9L411.2,90.2L409.8,90.4L408.2,90.2L406.7,89.6L405.2,88.7L403.9,87.6L403.0,86.7L402.0,85.3L401.2,83.8L400.7,82.3L400.5,80.8L400.5,79.3L400.8,78.2L401.3,77.1L402.2,76.1ZM422.0,93.6L423.2,93.4L424.0,93.4L424.9,93.6L426.2,94.1L427.6,95.1L428.4,95.8L429.2,96.9L430.0,98.3L430.5,99.6L430.8,101.1L430.8,102.6L430.6,104.1L430.0,105.5L429.4,106.3L428.5,107.0L427.8,107.4L427.0,107.6L425.5,107.7L424.8,107.6L423.2,107.1L422.1,106.3L421.0,105.3L420.1,104.1L419.3,102.6L418.8,101.1L418.5,99.6L418.6,98.1L418.9,96.6L419.5,95.4L420.2,94.5L421.0,94.0ZM437.6,108.6L439.0,108.5L439.8,108.6L441.2,109.2L442.0,109.8L442.8,110.5L443.6,111.6L444.4,113.1L444.8,114.6L444.9,116.8L444.6,118.3L444.2,119.3L443.5,120.4L442.8,121.0L442.0,121.5L440.5,121.9L439.7,121.9L438.2,121.6L437.5,121.3L436.5,120.6L435.2,119.2L434.7,118.3L434.4,117.6L433.9,116.1L433.7,114.6L433.8,113.1L434.1,111.6L434.4,110.8L434.9,110.1L435.8,109.3L436.8,108.8ZM449.8,122.1L451.0,121.7L451.8,121.6L452.5,121.7L453.2,121.9L454.0,122.2L454.8,122.8L455.5,123.6L456.4,125.1L456.9,126.6L457.0,127.3L457.1,128.8L457.0,130.3L456.8,131.1L456.2,132.3L455.5,133.2L454.8,133.8L454.0,134.2L453.2,134.4L452.5,134.5L451.8,134.4L451.0,134.1L450.2,133.7L449.5,133.0L448.8,132.1L448.0,130.7L447.7,129.6L447.4,128.1L447.4,126.6L447.6,125.1L448.0,124.0L448.8,122.9ZM462.9,133.3L463.8,133.2L464.5,133.3L465.2,133.6L466.0,134.1L466.8,135.0L467.1,135.6L467.5,136.3L468.0,137.9L468.2,139.3L468.2,140.8L467.9,142.3L467.7,143.1L467.4,143.8L466.8,144.7L466.0,145.4L465.2,145.9L464.5,146.1L463.8,146.0L463.0,145.8L462.2,145.4L461.5,144.7L460.8,143.5L460.0,141.5L459.8,140.1L459.8,138.6L459.9,137.1L460.1,136.3L460.8,135.0L461.5,134.1L462.2,133.6ZM472.9,144.6L473.5,144.2L474.2,143.9L475.0,143.9L475.8,144.1L476.5,144.6L477.3,145.5L477.6,146.1L478.0,146.9L478.4,148.3L478.6,149.8L478.6,151.3L478.2,153.6L477.9,154.3L477.2,155.4L476.5,156.2L475.8,156.6L475.0,156.8L474.2,156.7L473.5,156.3L472.9,155.8L472.0,154.6L471.2,152.8L471.0,151.3L470.9,149.8L471.1,147.6L471.4,146.8L472.0,145.6ZM483.5,154.3L484.0,154.1L484.8,153.9L485.5,154.0L486.3,154.4L487.0,155.2L487.4,155.8L487.8,156.6L488.2,158.1L488.4,159.6L488.4,161.1L488.0,163.3L487.8,164.2L487.0,165.5L486.1,166.3L485.5,166.6L484.8,166.7L484.0,166.6L483.2,166.1L482.3,164.8L481.8,163.6L481.5,162.6L481.3,161.1L481.3,159.6L481.6,157.3L481.8,156.6L482.5,155.4ZM494.5,163.3L495.2,163.6L495.8,164.1L496.8,165.4L497.3,167.1L497.6,169.3L497.5,171.6L497.4,172.3L496.9,173.8L496.0,175.3L495.2,176.0L494.9,176.1L494.5,176.2L493.8,176.1L493.0,175.7L492.2,174.9L491.4,173.1L491.1,171.6L491.0,170.1L491.1,167.8L491.4,166.3L491.7,165.6L492.2,164.7L493.0,163.9L493.8,163.4ZM501.8,173.1L502.8,172.5L503.5,172.4L504.2,172.7L505.0,173.5L505.2,173.8L505.8,174.9L506.1,176.1L506.3,177.6L506.4,179.1L506.2,181.4L505.8,182.7L505.3,183.6L505.0,184.0L504.2,184.8L503.5,185.1L502.8,185.0L502.0,184.6L501.2,183.6L500.6,182.1L500.4,181.3L500.2,179.8L500.1,178.3L500.3,176.1L500.8,174.6L501.2,173.8ZM510.8,181.3L511.0,181.2L511.8,181.0L512.5,181.2L512.7,181.3L513.2,181.8L513.9,182.9L514.4,184.3L514.8,186.6L514.7,188.8L514.2,191.1L513.4,192.6L510.2,192.6L509.5,191.4L509.0,189.6L508.8,188.1L508.8,186.6L509.1,184.4L509.6,182.8L510.2,181.9ZM517.5,191.8L517.8,191.2L517.8,191.8L517.8,192.6L517.3,192.6Z"/>
<path fill="#7dd1e1" d="M328.0,2.1L336.5,2.1L354.2,20.2L356.6,23.1L358.7,26.1L360.6,29.1L361.6,31.4L362.3,33.6L362.6,35.1L362.5,36.6L362.3,37.4L361.8,38.2L361.0,38.8L360.2,39.0L359.5,39.1L358.0,38.8L356.5,38.2L355.0,37.4L353.5,36.4L351.2,34.8L349.0,32.9L328.0,12.1ZM379.6,51.6L380.5,51.4L382.0,51.5L383.5,52.0L385.0,52.8L386.5,53.9L388.0,55.3L389.4,56.8L390.5,58.3L391.3,59.8L392.3,62.1L392.7,63.6L392.9,65.1L392.8,66.6L392.6,67.3L392.1,68.1L391.8,68.5L391.2,68.8L390.2,69.1L388.8,69.1L387.2,68.6L385.8,67.8L384.2,66.7L382.8,65.3L381.2,63.6L380.2,62.1L379.3,60.6L378.3,58.4L377.9,56.9L377.7,55.4L377.8,53.8L378.1,53.1L378.6,52.3L379.0,51.9ZM404.4,75.6L405.2,75.5L406.8,75.7L407.5,76.0L409.0,76.7L410.5,77.8L411.3,78.6L412.5,80.1L413.3,81.6L413.9,83.1L414.1,84.6L414.1,86.1L414.0,86.8L413.5,88.0L412.8,88.9L412.0,89.5L411.2,89.8L410.5,90.0L409.8,90.1L408.2,89.9L406.8,89.3L405.2,88.4L404.2,87.6L403.0,86.3L402.3,85.4L401.5,83.8L401.0,82.3L400.7,80.8L400.8,79.3L400.9,78.6L401.5,77.4L402.2,76.5L403.0,76.0ZM421.1,94.3L422.5,93.8L423.2,93.7L424.0,93.8L425.5,94.1L427.0,95.0L427.8,95.6L428.7,96.6L429.6,98.1L430.2,99.6L430.5,101.1L430.6,101.8L430.4,103.3L430.0,104.8L429.5,105.6L428.8,106.3L427.8,107.0L427.0,107.2L425.5,107.4L424.2,107.1L423.2,106.7L421.7,105.6L420.9,104.8L419.9,103.3L419.5,102.5L419.0,101.1L418.8,99.6L418.9,98.1L419.3,96.6L419.6,95.8L420.2,95.0ZM436.4,109.3L437.5,109.0L438.2,108.8L439.0,108.8L440.5,109.2L442.0,110.1L442.8,110.8L443.8,112.3L444.2,113.5L444.5,114.6L444.6,116.1L444.5,117.6L444.0,119.1L443.5,119.8L442.8,120.6L442.0,121.1L441.2,121.4L440.5,121.6L439.8,121.6L438.3,121.3L437.0,120.6L436.1,119.8L435.2,118.7L434.6,117.6L434.4,116.8L434.0,115.3L434.0,113.8L434.2,112.3L434.5,111.4L435.3,110.3ZM450.6,122.1L451.8,121.9L452.5,122.0L453.2,122.2L454.4,122.8L455.2,123.6L455.7,124.3L456.2,125.4L456.7,126.6L456.9,128.1L456.8,129.6L456.7,130.3L456.2,131.7L455.7,132.6L454.9,133.3L454.0,133.9L453.4,134.1L452.5,134.2L451.8,134.1L451.0,133.8L450.2,133.3L449.5,132.7L448.8,131.7L448.1,130.3L447.9,129.6L447.6,127.4L447.7,125.8L448.0,124.7L448.6,123.6L449.3,122.8L450.2,122.2ZM462.0,134.1L463.0,133.6L463.8,133.5L464.5,133.6L465.2,133.9L466.0,134.5L466.8,135.4L467.6,137.1L468.0,139.3L468.0,140.9L467.7,142.3L467.4,143.1L466.7,144.3L466.0,145.1L465.6,145.3L464.5,145.8L463.8,145.7L462.7,145.3L462.2,145.0L461.5,144.3L460.8,143.1L460.5,142.3L460.0,140.1L460.0,138.6L460.2,137.1L460.8,135.5L461.5,134.5ZM473.3,144.6L474.2,144.2L475.0,144.2L475.8,144.4L476.5,145.0L477.2,145.9L478.0,147.6L478.4,149.9L478.3,152.1L478.0,153.5L477.6,154.3L477.2,155.1L476.5,155.8L475.8,156.3L475.0,156.5L474.2,156.4L473.5,156.0L472.8,155.3L472.1,154.3L471.5,152.8L471.1,150.6L471.1,149.1L471.4,147.6L472.0,146.0L472.8,145.1ZM484.0,154.3L484.8,154.2L485.5,154.3L486.2,154.7L486.6,155.1L487.0,155.6L487.6,156.6L487.8,157.3L488.1,158.8L488.2,161.1L488.0,162.6L487.8,163.6L487.0,165.1L486.2,165.9L485.5,166.3L484.8,166.5L484.0,166.3L483.1,165.6L482.5,164.8L482.2,164.1L481.8,162.9L481.5,161.8L481.4,159.6L481.8,157.3L482.5,155.8L483.2,154.9ZM493.1,164.1L493.8,163.7L494.5,163.7L495.5,164.1L496.0,164.6L496.6,165.6L497.3,167.9L497.5,170.1L497.2,172.4L496.8,173.7L496.3,174.6L496.0,175.0L495.2,175.6L494.5,175.9L493.8,175.8L493.0,175.4L492.2,174.5L491.9,173.8L491.5,172.7L491.3,171.6L491.1,169.3L491.4,167.1L491.6,166.3L492.2,165.1ZM502.2,173.1L502.8,172.8L503.5,172.7L504.3,173.1L505.0,173.8L505.4,174.6L505.8,175.4L506.1,176.8L506.3,179.1L506.0,181.3L505.5,182.8L505.0,183.7L504.2,184.5L503.5,184.8L502.8,184.7L502.0,184.3L501.2,183.3L500.5,181.2L500.3,179.8L500.3,178.3L500.5,176.1L501.3,174.2ZM511.5,181.3L511.8,181.3L512.5,181.5L513.2,182.1L513.7,182.8L514.3,184.3L514.6,186.6L514.6,188.9L514.0,191.1L513.2,192.4L513.1,192.6L512.5,192.6L510.5,192.6L510.2,192.4L509.5,190.9L509.1,189.6L508.9,188.1L509.0,185.8L509.5,183.6L510.3,182.2L511.0,181.5ZM517.7,191.8L517.8,191.7L517.8,191.8L517.8,192.6L517.5,192.6Z"/>
<path fill="#90d8d7" d="M328.0,2.1L336.1,2.1L354.2,20.6L356.9,23.9L358.5,26.1L359.9,28.4L361.3,31.4L362.0,33.6L362.2,35.1L362.2,35.8L362.0,36.6L361.8,37.4L361.1,38.1L360.2,38.5L359.5,38.6L358.8,38.6L357.2,38.1L355.8,37.5L354.2,36.6L350.5,33.9L349.3,32.9L328.0,11.7ZM379.0,52.4L379.8,51.9L380.5,51.7L381.2,51.6L382.8,51.9L384.2,52.6L385.8,53.5L387.2,54.8L388.5,56.1L389.7,57.6L390.7,59.1L391.8,61.4L392.3,62.8L392.6,64.3L392.7,65.8L392.5,66.7L392.2,67.3L391.8,68.0L391.0,68.6L390.2,68.8L388.7,68.8L388.0,68.6L386.5,68.0L385.0,67.0L383.5,65.8L382.1,64.3L380.9,62.8L379.9,61.4L379.1,59.9L378.5,58.4L378.1,56.9L378.0,55.4L378.1,53.9L378.4,53.1ZM403.1,76.4L403.8,76.1L405.2,75.8L406.0,75.9L407.5,76.3L409.0,77.0L410.2,77.8L411.2,78.9L412.2,80.1L413.4,82.3L413.8,83.8L413.9,85.3L413.7,86.8L413.4,87.6L412.8,88.5L412.0,89.1L411.2,89.5L409.8,89.8L409.0,89.7L407.5,89.4L406.0,88.7L404.6,87.6L403.8,86.8L402.6,85.3L401.8,83.8L401.2,82.3L401.0,80.8L401.0,80.1L401.3,78.6L401.6,77.8L402.2,77.0ZM422.0,94.3L423.2,94.1L424.0,94.1L425.5,94.5L426.2,94.8L427.8,96.0L428.5,96.8L429.3,98.1L429.9,99.6L430.2,101.1L430.2,102.6L430.1,103.3L429.9,104.1L429.2,105.3L428.5,106.1L427.8,106.6L427.0,106.9L425.5,107.0L424.8,106.9L423.2,106.4L422.1,105.6L421.3,104.8L420.7,104.1L419.8,102.6L419.3,101.1L419.1,99.6L419.2,98.1L419.4,97.3L419.6,96.6L420.2,95.6L421.0,94.9ZM437.3,109.3L438.2,109.1L439.0,109.1L440.5,109.5L441.2,109.9L442.0,110.5L442.8,111.3L443.5,112.3L443.8,113.1L444.1,113.8L444.4,115.3L444.4,116.1L444.2,117.6L444.0,118.3L443.5,119.3L442.8,120.2L442.0,120.7L441.2,121.1L440.5,121.3L439.0,121.2L438.2,121.0L437.5,120.6L436.5,119.8L435.8,119.1L434.9,117.6L434.6,116.8L434.3,115.3L434.3,113.8L434.5,112.3L434.8,111.6L435.2,110.8L436.0,110.0ZM449.8,122.8L451.0,122.3L451.7,122.2L452.5,122.3L453.2,122.5L454.0,122.9L454.8,123.6L455.5,124.4L456.2,125.8L456.4,126.6L456.7,128.1L456.6,129.6L456.4,130.3L455.8,131.8L455.3,132.6L454.4,133.3L453.2,133.8L452.5,133.9L451.8,133.8L451.0,133.5L450.2,133.0L449.5,132.3L448.8,131.2L448.4,130.3L448.1,129.6L447.9,128.1L448.0,125.8L448.2,125.1L448.8,123.9ZM462.6,134.1L463.8,133.8L464.5,133.9L465.2,134.2L466.0,134.8L466.8,135.8L467.3,137.1L467.6,137.8L467.8,140.1L467.6,141.6L467.5,142.3L466.8,143.9L466.0,144.7L465.2,145.2L464.5,145.5L463.8,145.4L463.0,145.2L462.2,144.7L461.5,143.9L461.0,143.1L460.4,141.6L460.2,139.3L460.4,137.1L460.8,136.1L461.5,134.9ZM474.0,144.6L475.0,144.5L475.8,144.8L476.5,145.3L477.1,146.1L477.5,146.8L478.0,148.2L478.2,149.1L478.2,151.3L478.0,152.8L477.7,153.6L477.4,154.3L476.8,155.1L475.9,155.8L475.0,156.1L474.2,156.1L473.5,155.7L472.9,155.1L471.9,153.6L471.4,151.4L471.3,149.1L471.6,147.6L471.9,146.8L472.2,146.1L472.8,145.4L473.5,144.8ZM483.4,155.1L484.0,154.7L484.8,154.5L485.5,154.6L486.2,155.1L486.9,155.8L487.3,156.6L487.8,157.8L488.0,158.8L488.1,160.3L487.8,162.6L487.3,164.1L486.9,164.8L486.2,165.6L485.5,166.0L484.8,166.1L484.0,165.9L483.2,165.4L482.8,164.8L482.4,164.1L481.9,162.6L481.6,160.4L481.8,158.1L482.0,157.3L482.5,156.2ZM493.7,164.1L494.5,164.0L494.9,164.1L495.2,164.2L496.0,165.0L496.8,166.4L497.3,168.6L497.3,170.8L497.0,172.3L496.5,173.8L496.0,174.6L495.2,175.3L494.5,175.6L493.8,175.5L493.0,175.1L492.1,173.8L491.8,173.1L491.4,171.6L491.3,169.3L491.6,167.1L492.2,165.5L493.0,164.5ZM502.7,173.1L503.5,173.0L504.2,173.3L505.0,174.2L505.8,176.0L506.0,177.6L506.1,179.8L505.6,182.1L505.0,183.3L504.2,184.2L503.8,184.3L503.5,184.5L502.8,184.4L502.0,183.9L501.7,183.6L501.2,182.9L500.9,182.1L500.5,179.8L500.4,177.6L500.7,176.1L500.9,175.3L501.3,174.6L501.8,173.8L502.0,173.6ZM510.7,182.1L511.0,181.8L511.8,181.6L512.5,181.8L513.2,182.5L513.5,182.8L514.0,184.0L514.3,185.1L514.5,187.3L514.3,189.6L513.8,191.1L513.2,192.1L512.7,192.6L510.8,192.6L510.2,192.0L509.8,191.1L509.3,189.6L509.0,187.3L509.2,185.1L509.7,183.6L510.2,182.6ZM517.6,192.6L517.8,192.2L517.8,192.6Z"/>
<path fill="#a3dfce" d="M328.0,2.1L335.8,2.1L354.2,20.9L356.0,23.1L358.2,26.1L360.0,29.1L361.0,31.4L361.7,33.6L361.8,35.1L361.8,35.9L361.6,36.6L361.0,37.5L360.2,38.0L359.5,38.1L358.8,38.1L357.2,37.8L355.8,37.1L354.2,36.3L351.2,34.2L349.7,32.9L328.0,11.4ZM379.6,52.4L380.5,52.0L382.0,52.0L382.8,52.2L384.2,52.8L385.8,53.8L387.2,55.0L388.3,56.1L389.5,57.6L390.5,59.1L391.6,61.4L392.1,62.9L392.4,64.3L392.4,65.8L392.2,66.6L391.8,67.5L391.0,68.2L390.2,68.5L389.5,68.6L388.8,68.5L388.0,68.3L386.5,67.7L385.0,66.8L383.5,65.6L382.3,64.3L381.1,62.9L380.1,61.4L379.3,59.8L378.7,58.4L378.4,56.9L378.2,55.4L378.5,53.9L379.0,52.9ZM403.9,76.3L405.2,76.1L406.0,76.2L407.5,76.5L408.2,76.9L409.8,77.8L410.5,78.5L411.3,79.3L412.4,80.8L413.1,82.3L413.5,83.8L413.6,85.3L413.5,86.1L413.3,86.8L412.8,88.0L412.0,88.7L411.2,89.1L410.5,89.4L409.0,89.4L408.2,89.3L406.8,88.8L405.2,87.9L404.5,87.2L403.4,86.1L402.4,84.6L401.7,83.1L401.3,81.6L401.3,80.1L401.4,79.3L401.6,78.6L402.2,77.5L403.0,76.8ZM421.3,95.1L422.5,94.6L423.2,94.4L424.0,94.4L425.5,94.8L427.0,95.7L427.8,96.4L428.5,97.3L429.0,98.1L429.6,99.6L429.9,101.1L429.9,102.6L429.8,103.3L429.1,104.9L428.5,105.6L427.4,106.3L426.2,106.7L425.5,106.7L424.0,106.4L423.2,106.0L421.7,104.8L421.0,104.0L420.2,102.8L419.8,101.8L419.5,100.3L419.4,98.8L419.5,98.1L419.7,97.3L420.2,96.2ZM436.5,110.1L437.5,109.6L438.2,109.5L439.0,109.5L439.8,109.6L441.0,110.1L442.0,110.8L443.2,112.3L443.5,113.1L444.0,114.6L444.1,116.1L444.0,116.8L443.6,118.3L443.2,119.1L442.8,119.7L442.0,120.4L441.2,120.7L440.5,120.9L439.8,121.0L438.2,120.7L437.5,120.3L436.8,119.7L436.0,118.9L435.2,117.7L434.9,116.8L434.6,115.3L434.5,114.6L434.6,113.1L434.8,112.3L435.2,111.4L436.0,110.5ZM450.5,122.8L451.8,122.5L452.5,122.6L453.4,122.8L454.0,123.2L454.8,123.9L455.5,124.9L455.9,125.8L456.2,126.6L456.4,128.1L456.3,129.6L456.2,130.3L455.5,131.9L454.8,132.7L454.0,133.2L453.2,133.5L452.5,133.6L451.8,133.5L451.0,133.2L450.2,132.7L449.5,131.8L448.8,130.6L448.4,129.6L448.2,128.8L448.1,127.3L448.2,125.8L448.5,125.1L448.8,124.3L449.4,123.6ZM462.0,134.8L463.0,134.2L463.8,134.1L464.5,134.2L465.2,134.6L466.0,135.2L466.8,136.3L467.1,137.1L467.5,138.6L467.6,140.8L467.2,142.3L466.9,143.1L466.0,144.4L465.2,144.9L464.5,145.1L463.8,145.1L463.0,144.9L462.2,144.4L461.8,143.8L460.9,142.3L460.7,141.6L460.4,140.1L460.5,137.8L460.9,136.3L461.5,135.4ZM473.3,145.3L474.2,144.8L475.0,144.8L475.8,145.1L476.5,145.7L476.8,146.1L477.6,147.6L477.8,148.3L478.1,149.8L477.9,152.1L477.5,153.6L477.1,154.3L476.5,155.1L475.8,155.6L475.0,155.8L474.2,155.7L473.5,155.3L472.8,154.6L472.2,153.6L471.9,152.8L471.5,150.6L471.6,148.3L472.1,146.8L472.8,145.8ZM483.9,155.1L484.8,154.8L485.5,154.9L486.2,155.4L487.0,156.4L487.7,158.1L487.9,160.3L487.8,162.1L487.4,163.3L487.1,164.1L486.2,165.2L485.5,165.7L484.8,165.8L484.0,165.6L483.2,165.0L482.6,164.1L482.0,162.6L481.8,160.3L482.0,158.1L482.6,156.6L483.2,155.6ZM493.0,164.8L493.8,164.4L494.5,164.3L495.2,164.6L496.2,165.6L496.8,166.9L497.0,167.8L497.2,170.1L496.8,172.3L496.2,173.8L496.0,174.2L495.2,175.0L494.5,175.3L493.8,175.2L493.0,174.7L492.2,173.6L491.6,171.6L491.4,170.1L491.6,167.8L492.0,166.3L492.4,165.6ZM502.1,173.8L502.8,173.4L503.5,173.3L504.2,173.7L505.0,174.6L505.6,176.1L505.9,178.3L505.8,180.6L505.4,182.1L505.0,182.9L504.5,183.6L504.2,183.8L503.5,184.2L502.8,184.1L502.0,183.6L501.5,182.8L500.9,181.3L500.6,179.1L500.7,176.9L501.2,175.1ZM511.1,182.1L511.8,181.9L512.5,182.1L513.2,182.9L513.9,184.3L514.3,186.6L514.3,188.8L513.9,190.3L513.2,191.7L512.5,192.5L512.1,192.6L511.5,192.6L511.0,192.4L510.2,191.6L509.5,189.8L509.2,188.1L509.3,185.8L509.6,184.4L510.2,182.9Z"/>
<path fill="#b6e6c5" d="M328.0,2.1L335.5,2.1L354.2,21.2L356.3,23.9L358.4,26.9L359.7,29.1L360.7,31.4L361.4,33.6L361.4,35.1L361.3,35.9L361.0,36.6L360.3,37.4L359.5,37.7L358.8,37.7L358.0,37.6L356.5,37.1L355.0,36.4L353.5,35.5L350.5,33.3L331.0,14.1L328.0,11.1ZM380.4,52.4L381.2,52.2L382.8,52.4L383.5,52.7L385.0,53.5L387.3,55.4L388.7,56.8L389.8,58.3L390.7,59.8L391.4,61.3L391.9,62.9L392.2,64.3L392.1,65.8L391.9,66.6L391.4,67.3L391.0,67.8L390.4,68.1L389.5,68.3L388.0,68.1L387.2,67.8L385.8,67.1L384.2,66.0L383.3,65.1L381.9,63.6L380.8,62.1L379.9,60.6L379.2,59.1L378.7,57.6L378.5,56.1L378.6,54.6L378.8,53.9L379.3,53.1L379.8,52.7ZM403.1,77.1L403.8,76.7L404.5,76.5L405.2,76.4L406.0,76.4L407.5,76.8L409.0,77.6L409.8,78.1L410.5,78.8L411.6,80.1L412.5,81.6L413.1,83.1L413.4,84.6L413.4,85.3L413.3,86.1L412.8,87.4L412.0,88.3L411.2,88.8L410.5,89.1L409.0,89.2L407.5,88.8L406.8,88.5L405.3,87.6L404.5,86.9L403.1,85.3L402.7,84.6L402.0,83.1L401.6,81.6L401.5,80.8L401.7,79.3L401.9,78.6L402.4,77.8ZM422.1,95.1L423.2,94.8L424.0,94.8L425.5,95.1L426.2,95.5L427.0,96.1L427.8,96.8L428.5,97.8L429.1,98.8L429.5,100.3L429.6,101.1L429.6,102.6L429.4,103.3L429.2,104.1L428.5,105.1L427.8,105.8L427.0,106.1L426.2,106.3L425.5,106.4L424.0,106.0L423.2,105.7L422.5,105.2L421.8,104.5L421.0,103.5L420.5,102.6L420.1,101.8L419.8,100.3L419.7,98.8L419.8,98.1L420.4,96.6L421.0,95.8ZM437.3,110.1L438.2,109.8L439.0,109.8L439.8,109.9L440.5,110.2L441.2,110.6L442.0,111.3L442.8,112.2L443.2,113.1L443.5,113.8L443.8,115.3L443.8,116.8L443.6,117.6L443.3,118.3L442.8,119.2L442.0,120.0L441.2,120.4L440.5,120.6L439.8,120.7L439.0,120.6L438.2,120.3L437.5,119.9L436.8,119.3L436.0,118.4L435.2,116.8L435.0,116.1L434.8,114.6L434.9,113.1L435.2,112.3L435.5,111.6L436.0,111.0L436.8,110.4ZM451.6,122.8L452.5,122.9L453.2,123.1L454.0,123.6L454.8,124.3L455.7,125.8L456.1,127.3L456.2,128.8L456.1,129.6L455.6,131.1L454.8,132.3L454.0,132.9L453.2,133.2L452.5,133.3L451.8,133.1L451.0,132.8L450.2,132.3L449.3,131.1L448.8,130.0L448.4,128.8L448.3,128.1L448.4,126.6L448.8,125.1L449.2,124.3L449.9,123.6L451.0,123.0ZM462.5,134.8L463.0,134.6L463.8,134.4L464.5,134.5L465.2,134.9L466.0,135.6L466.5,136.3L467.1,137.8L467.3,138.6L467.4,140.1L467.2,141.6L466.6,143.1L466.0,144.0L465.2,144.6L464.5,144.8L463.8,144.8L463.0,144.6L462.2,144.0L461.5,143.1L460.9,141.6L460.7,140.8L460.6,139.3L460.8,137.6L461.2,136.3L461.5,135.8ZM473.8,145.3L474.2,145.1L475.0,145.1L475.7,145.4L476.5,146.0L477.2,147.2L477.8,149.1L477.9,151.3L477.6,152.8L477.3,153.6L476.8,154.3L476.5,154.8L475.8,155.3L475.0,155.5L474.2,155.4L473.5,155.0L472.9,154.3L472.4,153.6L471.9,152.1L471.6,149.8L472.0,147.8L472.4,146.8L472.8,146.2L473.5,145.5ZM484.7,155.1L485.5,155.2L486.2,155.8L486.9,156.6L487.5,158.1L487.7,159.6L487.6,161.8L487.2,163.3L486.8,164.1L486.3,164.8L485.5,165.4L484.8,165.5L484.0,165.3L483.2,164.7L482.5,163.3L482.2,162.6L482.0,161.1L482.0,158.8L482.5,157.2L482.8,156.6L483.4,155.8L484.0,155.3ZM493.5,164.8L493.8,164.7L494.5,164.6L495.2,164.9L496.0,165.7L496.6,167.1L496.8,167.8L497.0,169.3L496.8,171.6L496.4,173.1L496.0,173.8L495.3,174.6L494.5,175.0L493.8,174.9L493.0,174.4L492.2,173.2L491.8,171.6L491.6,170.1L491.8,167.8L492.3,166.3L493.0,165.2ZM502.5,173.8L502.8,173.7L503.5,173.6L504.2,174.0L505.0,175.0L505.6,176.8L505.8,179.1L505.6,180.6L505.5,181.3L505.0,182.5L504.2,183.5L503.5,183.9L502.8,183.8L502.0,183.2L501.3,182.1L500.9,180.6L500.7,179.1L500.9,176.8L501.3,175.3L502.0,174.3ZM510.6,182.9L511.0,182.4L511.7,182.2L512.5,182.4L513.2,183.2L513.8,184.3L514.0,185.1L514.2,187.3L514.1,188.8L513.7,190.3L513.2,191.3L512.8,191.8L512.5,192.2L511.8,192.4L511.0,192.1L510.2,191.3L509.6,189.6L509.4,188.1L509.4,185.8L509.8,184.3L510.2,183.3Z"/>
<path fill="#c6eab7" d="M328.0,2.1L335.2,2.1L353.6,20.9L355.5,23.1L357.7,26.1L359.0,28.4L360.1,30.6L360.9,32.9L361.1,34.4L361.0,35.1L360.8,35.9L360.4,36.6L359.5,37.1L358.8,37.3L358.0,37.2L356.5,36.8L355.0,36.1L353.5,35.2L350.5,33.0L331.3,14.1L328.0,10.7ZM379.7,53.1L380.5,52.7L381.2,52.5L382.0,52.5L383.5,52.9L385.0,53.7L386.5,54.8L387.8,56.1L388.8,57.2L389.6,58.4L390.5,59.9L391.2,61.4L391.7,62.9L391.9,64.3L391.8,65.8L391.5,66.6L391.0,67.3L390.2,67.8L389.5,68.0L388.8,68.0L387.2,67.6L385.8,66.8L384.2,65.7L382.8,64.3L382.0,63.4L381.0,62.1L380.1,60.6L379.4,59.1L378.9,57.6L378.7,56.1L378.8,54.6L379.1,53.9ZM403.7,77.1L404.5,76.8L405.2,76.7L406.0,76.7L407.5,77.1L409.0,77.8L409.8,78.4L411.4,80.1L412.0,81.1L412.6,82.3L413.0,83.8L413.1,84.6L413.0,86.1L412.7,86.8L412.2,87.6L411.4,88.3L410.5,88.7L409.8,88.9L409.0,88.9L407.5,88.6L406.0,87.8L405.2,87.3L404.5,86.6L403.4,85.3L402.9,84.6L402.2,83.1L401.8,81.6L401.8,80.8L402.0,79.3L402.2,78.6L403.0,77.6ZM421.5,95.8L422.5,95.3L423.2,95.1L424.8,95.2L426.2,95.8L427.0,96.4L427.8,97.2L428.4,98.1L429.1,99.6L429.4,101.1L429.4,101.8L429.1,103.3L428.8,104.1L428.3,104.8L427.8,105.3L427.0,105.8L426.2,106.0L425.5,106.0L424.8,105.9L423.2,105.3L422.6,104.8L421.8,104.1L421.2,103.3L420.8,102.6L420.2,101.1L420.0,99.6L420.0,98.8L420.4,97.3L420.8,96.6ZM438.9,110.1L439.8,110.2L440.5,110.5L441.2,111.0L442.0,111.6L443.0,113.1L443.5,114.6L443.6,116.1L443.5,116.9L443.0,118.3L442.0,119.6L441.2,120.0L440.5,120.3L439.8,120.4L439.0,120.3L438.0,119.8L436.9,119.1L436.3,118.3L435.8,117.6L435.5,116.8L435.1,115.3L435.1,113.8L435.2,113.1L435.5,112.3L435.9,111.6L436.6,110.8L437.5,110.3L438.2,110.1ZM450.4,123.6L451.0,123.3L451.8,123.1L452.5,123.2L453.2,123.4L454.0,123.9L454.5,124.4L455.0,125.1L455.4,125.8L455.9,127.3L456.0,128.8L455.9,129.6L455.3,131.1L454.8,131.9L453.9,132.6L453.2,132.9L452.5,133.0L451.8,132.8L451.0,132.5L450.2,131.8L449.5,131.1L449.1,130.3L448.7,128.8L448.6,128.1L448.6,126.6L449.1,125.1L449.5,124.4ZM463.2,134.8L463.8,134.7L464.5,134.8L465.2,135.2L465.7,135.6L466.3,136.3L466.7,137.1L467.1,138.6L467.2,140.1L467.1,140.9L466.8,142.3L466.0,143.6L465.2,144.2L464.5,144.5L463.8,144.5L463.0,144.2L462.5,143.8L461.5,142.6L460.9,140.8L460.8,140.1L460.8,138.6L461.1,137.1L461.5,136.3L462.0,135.6L462.2,135.4ZM473.2,146.1L473.5,145.8L474.2,145.5L475.0,145.4L475.8,145.7L476.5,146.4L476.8,146.8L477.4,148.3L477.7,149.9L477.7,151.3L477.6,152.1L477.0,153.6L476.5,154.4L475.8,155.0L475.0,155.2L474.2,155.1L473.5,154.7L472.6,153.6L472.1,152.1L471.8,150.6L471.8,149.8L472.0,148.3L472.6,146.8ZM483.7,155.8L484.0,155.6L484.8,155.4L485.5,155.5L486.2,156.1L486.6,156.6L487.3,158.1L487.6,159.6L487.4,161.8L487.0,163.3L486.2,164.5L485.8,164.8L485.5,165.1L484.8,165.2L483.8,164.8L483.2,164.3L482.7,163.3L482.2,161.8L482.1,159.6L482.4,158.1L483.1,156.6ZM493.0,165.6L493.8,165.0L494.5,164.9L495.2,165.2L495.6,165.6L496.0,166.1L496.4,167.1L496.8,168.6L496.8,170.8L496.5,172.4L496.0,173.4L495.7,173.8L495.2,174.3L494.5,174.7L493.7,174.6L492.9,173.8L492.1,172.3L491.8,170.8L491.8,168.6L492.2,167.1ZM502.0,174.6L502.7,174.0L503.5,173.9L504.2,174.3L505.0,175.4L505.5,176.8L505.7,178.3L505.5,180.6L505.0,182.1L504.2,183.2L503.5,183.6L502.8,183.5L502.0,182.9L501.2,181.3L500.9,179.8L500.9,177.6L501.2,176.1ZM510.9,182.8L511.8,182.5L512.5,182.7L513.2,183.6L513.6,184.3L514.0,185.8L514.0,188.1L513.8,189.6L513.2,191.0L512.5,191.8L511.8,192.1L511.0,191.8L510.3,190.9L509.8,189.6L509.6,188.8L509.5,186.6L509.7,185.1L510.2,183.7Z"/>
<path fill="#d2eba4" d="M328.0,2.1L334.8,2.1L354.0,21.6L356.4,24.6L357.9,26.9L359.2,29.1L360.1,31.4L360.6,32.9L360.7,34.4L360.6,35.1L360.3,35.9L359.5,36.6L358.8,36.8L358.0,36.8L357.2,36.7L355.8,36.1L353.5,34.9L350.5,32.7L331.6,14.1L328.0,10.4ZM380.3,53.1L381.2,52.8L382.8,52.9L383.5,53.2L385.0,54.0L387.2,55.8L388.3,56.9L389.4,58.4L390.3,59.9L391.0,61.4L391.5,62.9L391.7,64.3L391.5,65.8L391.2,66.6L390.2,67.4L389.5,67.7L388.8,67.7L388.0,67.6L387.2,67.3L385.8,66.6L383.5,64.8L382.3,63.6L381.2,62.1L380.3,60.6L379.6,59.1L379.0,56.9L379.0,55.4L379.1,54.6L379.5,53.8ZM404.6,77.1L405.2,77.0L406.8,77.1L408.2,77.7L409.0,78.1L410.5,79.4L411.2,80.3L412.0,81.6L412.4,82.3L412.8,83.8L412.8,85.3L412.7,86.1L412.4,86.8L411.8,87.6L411.2,88.1L410.5,88.4L409.8,88.6L408.2,88.5L406.8,88.0L406.0,87.5L404.3,86.1L403.7,85.3L402.8,83.8L402.5,83.1L402.1,81.6L402.1,80.1L402.3,79.3L402.6,78.6L403.2,77.8L403.8,77.4ZM422.2,95.8L423.2,95.5L424.0,95.4L424.8,95.6L425.5,95.8L426.2,96.2L427.0,96.8L427.8,97.7L428.5,98.8L429.0,100.3L429.1,101.8L429.0,102.6L428.8,103.3L428.4,104.1L427.8,104.9L427.0,105.4L426.2,105.6L425.5,105.7L424.0,105.4L423.2,105.0L422.5,104.4L421.8,103.6L421.1,102.6L420.5,101.1L420.3,99.6L420.3,98.8L420.5,98.1L421.0,96.9L421.7,96.1ZM437.2,110.8L438.2,110.4L439.0,110.4L439.8,110.5L440.5,110.8L441.6,111.6L442.2,112.3L442.7,113.1L443.2,114.6L443.3,116.1L443.2,116.8L442.6,118.3L442.0,119.2L441.2,119.7L440.5,120.0L439.8,120.0L439.0,119.9L438.2,119.7L437.5,119.2L436.8,118.5L436.1,117.6L435.7,116.8L435.5,116.1L435.3,114.6L435.5,113.1L435.8,112.3L436.3,111.6ZM451.1,123.6L451.8,123.4L452.5,123.5L453.2,123.7L454.0,124.2L454.8,125.1L455.2,125.8L455.7,127.3L455.7,128.8L455.4,130.3L455.0,131.1L454.4,131.8L454.0,132.2L453.2,132.6L452.5,132.7L451.8,132.5L451.0,132.2L450.5,131.8L449.8,131.1L449.5,130.6L449.1,129.6L448.9,128.8L448.8,127.3L449.0,125.8L449.4,125.1L449.9,124.3L450.2,124.1ZM462.4,135.6L463.0,135.2L463.8,135.0L464.5,135.1L465.2,135.5L466.0,136.3L466.7,137.8L466.9,138.6L467.0,140.1L466.8,141.6L466.5,142.3L466.1,143.1L465.3,143.8L464.5,144.2L463.8,144.2L463.0,143.9L462.1,143.1L461.6,142.3L461.3,141.6L461.0,140.1L461.0,138.6L461.1,137.8L461.7,136.3ZM473.6,146.1L474.2,145.8L475.0,145.7L475.8,146.0L476.5,146.8L477.2,148.3L477.5,149.8L477.5,151.3L477.1,152.8L476.8,153.6L476.2,154.3L475.8,154.7L475.0,154.9L474.2,154.8L473.5,154.3L472.9,153.6L472.3,152.1L472.1,151.3L472.0,149.8L472.2,148.3L472.8,147.1ZM484.3,155.8L484.8,155.7L485.5,155.9L486.2,156.5L487.0,157.8L487.4,159.6L487.4,161.1L487.3,161.8L486.8,163.3L486.2,164.2L485.5,164.8L485.1,164.8L484.8,164.9L484.0,164.7L483.2,163.9L482.6,162.6L482.3,161.1L482.3,159.6L482.6,158.1L483.3,156.7L484.0,155.9ZM493.3,165.6L493.8,165.3L494.5,165.2L495.2,165.5L496.0,166.5L496.5,167.8L496.7,169.3L496.5,171.6L496.0,173.0L495.2,174.0L494.5,174.4L493.8,174.3L493.0,173.7L492.7,173.1L492.1,171.6L491.9,170.1L492.0,168.6L492.1,167.8L492.7,166.3ZM502.4,174.6L502.8,174.3L503.5,174.2L504.2,174.7L505.0,175.9L505.3,176.8L505.5,178.3L505.3,180.6L505.0,181.6L504.2,182.8L503.5,183.3L502.8,183.2L502.0,182.5L501.4,181.3L501.2,180.6L501.0,179.1L501.2,176.8L501.8,175.3ZM511.5,182.9L511.8,182.8L512.5,183.0L513.2,184.0L513.7,185.1L513.9,186.6L513.9,188.1L513.6,189.6L513.2,190.6L512.5,191.5L511.8,191.8L511.0,191.5L510.7,191.1L510.2,190.5L509.9,189.6L509.6,188.1L509.7,185.9L510.1,184.3L511.0,183.1Z"/>
<path fill="#deeb91" d="M328.0,2.1L334.5,2.1L353.5,21.3L355.0,23.1L357.1,26.1L358.5,28.4L359.6,30.6L360.1,32.1L360.3,33.6L360.3,34.4L360.1,35.1L359.6,35.9L358.8,36.3L358.0,36.4L356.5,36.1L355.0,35.4L353.5,34.5L350.5,32.4L331.8,13.9L328.0,10.1ZM381.5,53.1L382.8,53.2L383.5,53.4L384.2,53.8L385.7,54.7L387.2,56.0L388.0,56.9L389.2,58.4L390.1,59.9L390.8,61.4L391.3,62.9L391.5,64.3L391.4,65.1L391.2,65.8L390.8,66.6L390.2,67.1L389.5,67.4L388.8,67.4L387.2,67.1L386.5,66.8L385.0,65.9L383.5,64.6L382.6,63.6L381.4,62.1L380.5,60.6L379.8,59.1L379.4,57.6L379.2,56.1L379.3,55.3L379.5,54.6L379.9,53.8L380.5,53.4ZM403.7,77.8L404.5,77.4L405.2,77.3L406.0,77.3L407.5,77.6L408.2,77.9L409.3,78.6L410.8,80.1L411.4,80.8L412.1,82.3L412.5,83.8L412.6,84.6L412.4,86.1L412.0,86.9L411.4,87.6L410.5,88.1L409.8,88.3L409.0,88.3L407.5,88.0L406.8,87.7L405.4,86.8L404.0,85.3L403.4,84.6L402.7,83.1L402.3,81.6L402.3,80.8L402.6,79.3L403.0,78.5ZM423.1,95.8L424.0,95.8L424.8,95.9L425.5,96.1L426.2,96.6L427.1,97.3L428.2,98.8L428.7,100.3L428.8,101.1L428.7,102.6L428.5,103.3L428.0,104.1L427.0,105.0L426.2,105.3L425.5,105.4L424.8,105.3L424.0,105.1L423.2,104.7L422.5,104.1L421.8,103.2L421.0,101.8L420.7,101.1L420.5,99.6L420.8,98.1L421.1,97.3L421.8,96.6L422.5,96.1ZM438.0,110.8L439.0,110.7L439.8,110.8L440.5,111.1L441.2,111.7L441.9,112.3L442.4,113.1L442.7,113.8L443.1,115.3L443.0,116.8L442.7,117.6L442.3,118.3L441.2,119.3L440.5,119.7L439.8,119.7L439.0,119.6L438.2,119.4L437.5,118.9L437.0,118.3L436.4,117.6L436.0,116.8L435.7,116.1L435.6,114.6L435.8,113.1L436.2,112.3L436.7,111.6L437.5,111.0ZM450.3,124.3L451.0,123.9L451.8,123.7L452.5,123.8L453.2,124.0L454.0,124.6L454.9,125.8L455.4,127.4L455.5,128.8L455.4,129.6L455.2,130.3L454.8,131.1L454.0,131.8L453.2,132.3L452.5,132.4L451.8,132.3L451.0,131.9L450.2,131.2L449.6,130.3L449.1,128.8L449.0,127.3L449.3,125.8L449.7,125.1ZM462.9,135.6L463.8,135.3L464.5,135.4L465.2,135.9L466.0,136.8L466.5,137.8L466.8,139.3L466.7,140.8L466.3,142.3L465.8,143.1L465.2,143.6L464.5,143.9L463.8,143.9L463.0,143.6L462.2,142.9L461.9,142.3L461.3,140.8L461.1,139.3L461.3,137.8L461.6,137.1L462.0,136.3ZM474.2,146.1L475.0,146.0L475.8,146.4L476.2,146.8L476.7,147.6L477.2,149.1L477.4,150.6L477.2,152.1L476.5,153.6L475.8,154.3L475.0,154.6L474.2,154.5L473.5,154.0L472.7,152.8L472.3,151.3L472.2,149.8L472.4,148.3L472.8,147.5L473.2,146.8L473.5,146.5ZM483.6,156.6L484.0,156.3L484.7,156.0L485.5,156.1L486.2,156.8L486.9,158.1L487.2,159.6L487.2,161.1L486.9,162.6L486.5,163.3L486.0,164.1L485.5,164.5L484.8,164.6L484.0,164.4L483.2,163.6L482.8,162.6L482.5,161.1L482.4,160.3L482.6,158.8L483.1,157.3ZM493.7,165.6L494.5,165.5L495.2,165.9L496.0,167.0L496.5,168.6L496.6,170.1L496.3,171.6L495.7,173.1L495.3,173.7L495.0,173.8L494.5,174.1L493.8,174.0L493.0,173.3L492.5,172.3L492.1,170.8L492.1,169.3L492.3,167.8L492.9,166.3ZM502.7,174.6L503.5,174.5L504.2,175.0L504.9,176.1L505.3,177.6L505.4,179.1L505.2,180.6L504.5,182.1L504.2,182.5L503.8,182.8L503.5,183.0L502.8,182.9L502.0,182.2L501.6,181.3L501.2,179.8L501.1,178.3L501.4,176.9L502.0,175.3ZM510.8,183.6L511.0,183.4L511.8,183.0L512.5,183.3L513.2,184.3L513.5,185.1L513.8,186.6L513.8,188.1L513.7,188.8L513.2,190.2L512.6,191.1L511.8,191.5L511.0,191.2L510.3,190.0L509.9,188.8L509.7,187.4L509.9,185.8L510.2,184.5Z"/>
<path fill="#eaec7f" d="M328.0,2.1L334.2,2.1L353.5,21.6L355.3,23.9L356.9,26.1L358.2,28.4L359.3,30.6L359.8,32.1L359.9,33.6L359.9,34.4L359.6,35.1L358.8,35.8L358.0,35.9L357.2,35.9L355.8,35.4L353.5,34.2L350.5,32.1L331.8,13.6L328.0,9.7ZM380.4,53.9L381.2,53.4L382.0,53.4L382.8,53.5L384.2,54.0L385.3,54.6L386.5,55.5L388.4,57.6L389.5,59.1L390.2,60.5L391.1,62.9L391.2,64.3L391.1,65.1L390.9,65.8L390.3,66.6L389.5,67.0L388.8,67.1L388.0,67.1L386.5,66.5L385.3,65.8L384.2,65.0L382.2,62.9L381.1,61.4L380.5,60.2L380.0,59.1L379.6,57.6L379.4,56.1L379.5,55.4L379.8,54.6ZM404.3,77.8L405.2,77.6L406.0,77.5L407.5,77.9L408.9,78.6L409.8,79.3L411.1,80.8L411.9,82.3L412.3,83.8L412.3,84.6L412.3,85.3L412.0,86.2L411.6,86.8L410.8,87.6L409.8,88.0L409.0,88.1L407.5,87.8L406.0,87.0L405.2,86.4L404.5,85.7L403.7,84.6L403.3,83.8L402.7,82.3L402.6,80.8L402.6,80.1L403.0,79.1L403.8,78.2ZM422.2,96.6L423.2,96.1L424.0,96.1L424.8,96.2L425.5,96.4L426.2,96.9L427.0,97.6L427.8,98.6L428.2,99.6L428.4,100.3L428.5,101.8L428.4,102.6L428.1,103.3L427.6,104.1L427.0,104.6L426.2,105.0L425.5,105.1L424.8,105.0L424.0,104.7L423.2,104.3L422.5,103.7L421.7,102.6L421.3,101.8L420.9,100.3L420.9,98.8L421.1,98.1L421.5,97.3ZM437.2,111.6L438.2,111.1L439.0,111.0L439.8,111.1L440.5,111.4L441.2,112.0L442.1,113.1L442.7,114.6L442.8,116.1L442.4,117.6L442.0,118.3L441.2,119.0L440.5,119.3L439.8,119.5L439.0,119.4L438.2,119.1L437.3,118.3L436.7,117.6L436.3,116.8L435.8,115.3L435.9,113.8L436.1,113.1L436.5,112.3ZM450.8,124.3L451.8,124.0L452.5,124.0L453.2,124.3L454.2,125.1L454.7,125.8L455.0,126.6L455.3,128.1L455.2,129.6L454.9,130.3L454.4,131.1L454.0,131.5L453.5,131.8L452.5,132.1L451.8,132.0L451.0,131.6L450.2,130.9L449.5,129.6L449.2,128.1L449.3,126.6L449.6,125.8L450.0,125.1ZM463.7,135.6L464.5,135.7L465.4,136.3L466.0,137.1L466.3,137.8L466.6,139.3L466.6,140.8L466.0,142.3L465.2,143.3L464.5,143.6L463.8,143.7L463.0,143.3L462.2,142.6L461.7,141.6L461.4,140.1L461.4,138.6L461.8,137.1L462.2,136.4L463.0,135.8ZM473.5,146.8L474.2,146.3L475.0,146.3L475.9,146.8L476.5,147.6L476.9,148.3L477.2,149.8L477.2,151.3L476.7,152.8L476.2,153.6L475.8,154.1L475.0,154.4L474.2,154.2L473.4,153.6L472.9,152.8L472.6,152.1L472.3,150.6L472.4,149.1L472.9,147.6ZM484.0,156.6L484.8,156.3L485.5,156.4L486.2,157.2L486.7,158.1L487.1,159.6L487.0,161.1L486.7,162.6L486.2,163.5L485.5,164.2L484.8,164.4L484.0,164.1L483.4,163.3L483.0,162.6L482.6,161.1L482.6,159.6L482.7,158.8L483.2,157.5ZM493.2,166.3L493.8,165.9L494.5,165.8L495.4,166.4L495.9,167.1L496.1,167.8L496.4,169.4L496.3,170.8L495.9,172.4L495.2,173.4L494.5,173.8L493.8,173.7L493.0,173.0L492.4,171.6L492.2,170.1L492.3,168.6L492.7,167.1ZM502.3,175.3L502.8,174.9L503.5,174.8L504.2,175.3L504.7,176.1L505.0,176.8L505.2,178.3L505.2,179.8L504.8,181.3L504.3,182.1L503.5,182.7L502.8,182.6L502.0,181.8L501.5,180.6L501.3,179.1L501.3,177.6L501.8,176.1ZM511.2,183.6L511.8,183.3L512.5,183.6L513.2,184.8L513.7,186.6L513.6,188.1L513.3,189.6L512.9,190.4L512.5,190.9L512.1,191.1L511.8,191.2L511.0,190.9L510.2,189.6L509.9,188.1L509.9,186.6L510.2,185.1L510.5,184.3Z"/>
<path fill="#f6ec6c" d="M328.0,2.1L333.9,2.1L353.5,21.9L355.0,23.9L356.6,26.1L358.0,28.4L358.7,29.9L359.2,31.4L359.5,32.9L359.5,33.6L359.4,34.4L358.8,35.1L358.0,35.4L357.2,35.5L355.8,35.1L353.5,33.9L350.5,31.8L331.8,13.3L328.0,9.4ZM381.0,53.9L382.0,53.6L382.8,53.7L383.5,53.9L385.0,54.7L386.0,55.4L387.2,56.5L388.8,58.4L389.7,59.9L390.4,61.4L391.0,63.6L390.8,65.1L390.5,65.8L390.2,66.2L389.5,66.7L388.8,66.8L388.0,66.8L387.2,66.6L385.8,65.9L384.6,65.1L383.5,64.1L381.8,62.1L380.9,60.6L380.2,59.1L379.8,57.6L379.7,56.9L379.8,55.4L380.2,54.6L380.5,54.2ZM405.2,77.8L406.0,77.8L406.8,77.9L408.2,78.5L409.8,79.6L410.5,80.4L411.3,81.6L411.6,82.3L412.0,83.8L412.0,85.3L411.7,86.1L411.3,86.8L410.5,87.4L410.1,87.6L409.0,87.8L408.2,87.7L406.8,87.2L405.2,86.1L404.5,85.3L403.5,83.8L403.0,82.3L402.8,81.6L402.9,80.1L403.2,79.3L403.8,78.6L404.5,78.1ZM422.9,96.6L424.0,96.4L424.8,96.5L425.5,96.7L426.4,97.3L427.1,98.1L427.6,98.8L428.2,100.3L428.3,101.8L428.1,102.6L427.8,103.3L427.0,104.3L426.2,104.6L425.5,104.8L424.8,104.7L424.0,104.5L423.2,104.0L422.5,103.3L421.8,102.3L421.3,101.1L421.1,100.3L421.2,98.8L421.4,98.1L421.9,97.3L422.5,96.8ZM437.7,111.6L438.2,111.4L439.0,111.3L439.8,111.4L440.5,111.7L441.3,112.3L441.9,113.1L442.2,113.8L442.6,115.3L442.4,116.8L442.1,117.6L441.6,118.3L441.2,118.7L440.5,119.0L439.8,119.2L439.0,119.1L438.2,118.8L437.5,118.2L437.0,117.6L436.5,116.8L436.2,116.1L436.0,114.6L436.1,113.9L436.4,113.1L436.8,112.3ZM451.5,124.3L452.5,124.3L453.2,124.6L453.9,125.1L454.4,125.8L455.0,127.3L455.1,128.8L454.8,130.1L454.1,131.1L453.2,131.7L452.5,131.8L451.8,131.7L451.0,131.3L450.1,130.3L449.7,129.6L449.5,128.8L449.4,127.3L449.8,125.8L450.3,125.1L451.0,124.5ZM462.7,136.3L463.0,136.1L463.8,135.9L464.5,136.0L465.2,136.5L465.7,137.1L466.1,137.8L466.5,139.3L466.4,140.8L466.0,142.0L465.2,143.0L464.5,143.4L463.8,143.4L463.0,143.0L462.4,142.3L461.9,141.6L461.5,140.1L461.6,138.6L461.7,137.8L462.1,137.1ZM473.9,146.8L474.2,146.6L475.0,146.6L475.8,147.0L476.5,148.0L476.9,149.1L477.1,150.6L476.8,152.1L476.5,152.9L475.8,153.8L475.0,154.1L474.2,154.0L473.5,153.4L472.8,152.1L472.5,150.6L472.6,149.1L472.8,148.3L473.2,147.6L473.5,147.1ZM484.6,156.6L484.8,156.5L485.5,156.7L486.1,157.3L486.5,158.1L486.9,159.6L486.9,161.1L486.8,161.8L486.2,163.1L485.5,163.9L484.8,164.1L484.0,163.8L483.2,162.6L482.8,161.1L482.8,159.6L483.1,158.1L483.6,157.3L484.0,156.8ZM493.5,166.3L493.8,166.2L494.5,166.0L495.1,166.3L495.7,167.1L496.0,167.9L496.3,169.3L496.2,170.8L495.7,172.3L495.2,173.1L494.5,173.6L493.8,173.4L493.0,172.6L492.6,171.6L492.3,170.1L492.4,168.6L492.9,167.1ZM502.5,175.3L502.8,175.2L503.5,175.0L504.2,175.6L504.8,176.9L505.1,178.3L505.0,179.8L504.9,180.6L504.2,181.9L503.5,182.5L502.8,182.4L502.0,181.5L501.6,180.6L501.4,179.1L501.5,177.6L502.0,176.1ZM511.7,183.6L512.5,183.9L512.8,184.3L513.2,185.1L513.5,186.6L513.5,188.1L513.4,188.9L513.1,189.6L512.5,190.7L511.8,191.0L511.0,190.6L510.4,189.6L510.0,188.1L510.0,186.6L510.4,185.1L511.0,184.0Z"/>
<path fill="#f6d960" d="M328.0,2.1L333.5,2.1L353.5,22.2L354.8,23.9L356.4,26.1L357.7,28.4L358.4,29.9L358.9,31.4L359.2,32.9L359.1,33.6L358.8,34.4L358.0,34.9L357.2,35.0L355.8,34.7L353.5,33.6L350.5,31.5L332.1,13.4L328.0,9.1ZM380.6,54.6L381.2,54.1L382.0,53.9L382.8,54.0L383.5,54.2L384.2,54.5L385.8,55.4L387.2,56.7L388.0,57.6L389.5,59.9L390.5,62.1L390.7,63.6L390.7,64.3L390.5,65.1L390.1,65.8L389.5,66.3L388.8,66.6L388.0,66.5L387.2,66.4L386.5,66.1L385.0,65.2L384.0,64.3L382.8,63.0L382.0,62.0L381.1,60.6L380.2,58.3L379.9,56.9L380.0,56.1L380.1,55.4ZM404.2,78.6L405.2,78.1L406.0,78.1L407.5,78.4L409.0,79.2L409.8,79.9L410.5,80.7L411.4,82.3L411.8,83.8L411.7,85.3L411.4,86.1L410.8,86.8L409.8,87.4L409.0,87.5L407.5,87.3L406.0,86.5L405.2,85.8L404.5,85.0L403.8,83.8L403.4,83.1L403.1,81.6L403.1,80.8L403.2,80.1L403.5,79.3ZM422.3,97.3L423.2,96.8L424.0,96.7L424.8,96.7L425.5,97.0L426.2,97.5L427.0,98.3L427.7,99.6L428.1,101.1L428.0,101.8L427.9,102.6L427.5,103.3L427.0,103.9L426.2,104.3L425.5,104.5L424.8,104.4L424.0,104.2L423.2,103.7L422.2,102.6L421.5,101.1L421.3,99.6L421.4,98.8L421.7,98.1ZM438.6,111.6L439.0,111.5L439.8,111.7L440.5,112.0L440.9,112.3L441.6,113.1L442.3,114.6L442.4,116.1L442.2,116.8L441.9,117.6L441.2,118.3L440.5,118.8L439.8,118.9L439.0,118.8L438.2,118.5L437.2,117.6L436.8,116.8L436.4,116.1L436.3,114.6L436.4,113.8L436.6,113.1L437.5,112.0L438.2,111.6ZM450.6,125.1L451.0,124.8L451.8,124.5L452.5,124.6L453.2,124.9L454.2,125.8L454.6,126.6L454.8,127.3L454.9,128.8L454.7,129.6L454.4,130.3L454.0,130.9L453.2,131.4L452.5,131.6L451.8,131.4L451.0,131.0L450.2,130.1L449.7,128.8L449.6,127.3L449.7,126.6L450.0,125.8ZM463.1,136.3L463.8,136.1L464.7,136.3L465.5,137.1L465.9,137.8L466.2,138.6L466.3,140.1L466.0,141.6L465.2,142.7L464.5,143.1L463.8,143.1L463.0,142.8L462.2,141.8L461.8,140.8L461.7,139.3L461.9,137.8L462.3,137.1ZM474.7,146.8L475.0,146.8L475.8,147.2L476.1,147.6L476.5,148.4L476.9,149.8L476.8,151.3L476.5,152.4L475.8,153.5L475.0,153.8L474.2,153.7L473.5,153.1L473.0,152.1L472.7,150.6L472.8,149.1L473.0,148.3L473.4,147.6L474.2,146.9ZM483.8,157.3L484.0,157.1L484.8,156.8L485.5,157.0L486.2,157.9L486.6,158.8L486.8,159.6L486.8,161.1L486.3,162.6L485.8,163.3L485.5,163.6L484.8,163.8L484.0,163.5L483.4,162.6L483.1,161.8L482.9,161.1L482.9,159.6L483.2,158.3ZM494.2,166.3L494.5,166.3L495.2,166.8L495.5,167.1L495.8,167.9L496.1,169.3L496.1,170.1L495.9,171.6L495.2,172.8L494.8,173.1L494.5,173.3L493.8,173.1L493.1,172.3L492.7,171.6L492.5,170.1L492.6,168.6L493.0,167.3L493.8,166.4ZM503.2,175.3L503.5,175.3L504.4,176.1L504.7,176.8L505.0,178.3L504.9,179.8L504.7,180.6L504.2,181.6L503.5,182.2L502.8,182.1L502.1,181.3L501.8,180.6L501.5,179.1L501.6,177.6L502.0,176.4L502.8,175.4ZM510.9,184.3L511.8,183.8L512.5,184.2L513.0,185.1L513.3,185.8L513.4,186.6L513.4,188.1L513.0,189.6L512.5,190.3L511.8,190.7L511.0,190.3L510.6,189.6L510.3,188.8L510.1,187.3L510.2,186.6L510.5,185.1Z"/>
<path fill="#f6c753" d="M328.0,2.1L333.2,2.1L353.5,22.5L356.1,26.1L357.4,28.4L358.1,29.9L358.6,31.4L358.8,32.9L358.6,33.6L358.0,34.3L357.2,34.6L356.5,34.5L355.0,34.1L352.8,32.9L350.5,31.2L332.4,13.3L328.0,8.8ZM381.1,54.6L382.0,54.2L382.8,54.3L384.2,54.7L385.0,55.1L386.3,56.1L388.0,57.9L388.9,59.1L389.7,60.6L390.2,62.1L390.4,62.9L390.4,64.3L390.2,65.1L389.6,65.8L388.8,66.2L388.0,66.3L386.5,65.8L385.3,65.1L384.2,64.3L383.5,63.6L382.3,62.1L380.9,59.9L380.4,58.4L380.2,57.6L380.2,56.1L380.5,55.3ZM404.9,78.6L406.0,78.3L406.8,78.4L407.5,78.6L409.0,79.5L409.8,80.2L410.5,81.1L411.2,82.3L411.4,83.1L411.6,84.6L411.4,85.3L411.1,86.1L410.3,86.8L409.8,87.1L409.0,87.2L408.2,87.2L407.5,87.0L406.0,86.2L405.2,85.5L404.5,84.6L404.0,83.8L403.4,82.3L403.3,80.8L403.5,80.1L403.9,79.3L404.5,78.8ZM422.7,97.4L423.2,97.0L424.0,96.9L424.8,97.0L425.5,97.3L426.2,97.8L427.1,98.8L427.5,99.6L427.7,100.4L427.8,101.1L427.8,101.8L427.6,102.6L427.1,103.3L426.2,104.0L425.5,104.2L424.8,104.2L424.0,103.9L423.2,103.3L422.5,102.6L422.0,101.8L421.6,100.3L421.5,99.6L421.7,98.8L422.0,98.1ZM437.5,112.3L438.2,111.9L439.0,111.8L439.8,111.9L440.5,112.3L441.3,113.1L441.8,113.8L442.2,115.3L442.1,116.1L442.0,116.8L441.6,117.6L441.2,118.0L440.5,118.5L439.8,118.7L439.0,118.6L438.2,118.2L437.5,117.6L437.0,116.8L436.5,115.3L436.5,114.6L436.6,113.8L436.9,113.1ZM451.0,125.1L451.8,124.8L452.5,124.8L453.2,125.2L454.0,125.8L454.4,126.6L454.7,128.1L454.7,128.8L454.5,129.6L454.0,130.5L453.3,131.1L452.5,131.3L451.8,131.2L451.0,130.7L450.2,129.6L449.9,128.8L449.8,127.3L449.9,126.6L450.2,125.9ZM462.6,137.1L463.0,136.6L463.8,136.4L464.5,136.5L465.2,137.1L465.7,137.9L466.1,139.3L466.1,140.1L465.8,141.6L465.3,142.3L464.5,142.9L463.8,142.9L463.0,142.5L462.3,141.6L462.0,140.8L461.8,139.3L461.9,138.6L462.1,137.8ZM473.7,147.6L474.2,147.1L475.0,147.1L475.8,147.5L476.3,148.3L476.6,149.1L476.8,150.6L476.5,152.0L476.1,152.8L475.8,153.2L475.0,153.6L474.2,153.5L473.5,152.7L473.2,152.1L472.9,151.3L472.8,149.8L473.2,148.3ZM484.1,157.3L484.8,157.0L485.5,157.2L486.2,158.1L486.5,158.8L486.6,159.6L486.6,161.1L486.3,162.4L485.5,163.4L484.8,163.6L484.0,163.2L483.5,162.6L483.1,161.1L483.0,159.6L483.2,158.8L483.5,158.1ZM493.4,167.1L493.8,166.7L494.5,166.5L495.2,167.1L495.7,167.8L495.9,168.6L496.0,170.1L495.7,171.6L495.2,172.5L494.5,173.0L493.8,172.9L493.3,172.4L492.9,171.6L492.7,170.8L492.6,169.3L492.9,167.8ZM502.4,176.1L502.7,175.7L503.5,175.5L504.2,176.2L504.6,176.8L504.8,177.6L504.9,179.1L504.6,180.6L504.2,181.3L503.5,182.0L502.8,181.8L502.3,181.3L501.9,180.6L501.7,179.8L501.6,178.3L502.0,176.8ZM511.3,184.3L511.8,184.1L512.5,184.5L512.9,185.1L513.3,186.6L513.3,187.3L513.1,188.8L512.5,190.1L512.1,190.3L511.8,190.5L511.0,190.1L510.4,188.8L510.3,188.1L510.3,186.6L510.4,185.8L510.7,185.1L511.0,184.5Z"/>
<path fill="#f6b447" d="M328.0,2.1L332.9,2.1L335.5,4.6L353.5,22.8L354.8,24.6L356.3,26.9L357.2,28.4L357.8,29.9L358.3,31.4L358.3,32.1L358.3,32.9L357.9,33.6L357.2,34.0L356.5,34.1L355.0,33.7L352.8,32.6L350.5,30.9L332.5,13.1L328.0,8.4ZM381.9,54.6L382.8,54.5L383.5,54.7L385.0,55.4L386.0,56.1L387.2,57.3L388.8,59.2L389.8,61.4L390.2,62.9L390.2,63.6L390.1,64.3L389.8,65.1L389.5,65.5L388.8,65.9L388.0,66.0L387.2,65.9L385.6,65.1L384.6,64.3L383.5,63.3L382.0,61.4L380.9,59.1L380.5,57.6L380.4,56.9L380.5,56.1L380.8,55.4L381.2,54.9ZM404.3,79.3L405.2,78.7L406.0,78.6L406.8,78.7L407.5,78.9L408.2,79.2L409.0,79.8L409.8,80.5L410.5,81.5L410.9,82.3L411.3,83.8L411.3,84.6L411.1,85.3L410.5,86.3L409.8,86.8L409.0,87.0L408.2,86.9L406.8,86.4L406.0,85.9L405.2,85.2L404.2,83.8L403.7,82.3L403.6,80.8L403.8,80.1ZM423.2,97.3L424.0,97.2L424.8,97.3L425.5,97.6L426.2,98.1L427.0,99.1L427.5,100.3L427.6,101.1L427.5,101.8L427.3,102.6L426.8,103.3L426.2,103.7L425.5,103.9L424.8,103.9L424.0,103.6L423.2,103.1L422.3,101.8L422.0,101.1L421.8,100.3L421.8,99.6L421.9,98.9L422.5,97.9ZM437.9,112.3L438.2,112.2L439.0,112.0L439.8,112.2L440.5,112.6L441.2,113.4L441.8,114.6L442.0,115.3L441.9,116.1L441.7,116.8L441.2,117.7L440.5,118.2L440.0,118.3L439.0,118.3L438.2,118.0L437.5,117.2L436.9,116.1L436.7,115.3L436.7,114.6L436.8,113.8L437.2,113.1L437.5,112.7ZM451.6,125.1L451.8,125.0L452.5,125.0L453.2,125.4L454.0,126.3L454.5,127.3L454.5,128.8L454.3,129.6L453.9,130.3L453.3,130.9L452.5,131.1L451.8,131.0L450.9,130.3L450.4,129.6L450.1,128.8L449.9,128.1L450.0,127.3L450.1,126.6L450.5,125.8L451.0,125.4ZM462.8,137.1L463.0,136.9L463.8,136.6L464.5,136.7L465.2,137.4L465.5,137.8L465.8,138.6L466.0,140.1L465.9,140.8L465.6,141.6L465.2,142.1L464.9,142.3L464.5,142.6L463.8,142.7L463.0,142.2L462.5,141.6L462.2,140.8L462.0,140.1L462.1,138.6L462.3,137.8ZM474.0,147.6L474.2,147.4L475.0,147.3L475.8,147.8L476.1,148.3L476.4,149.1L476.6,150.6L476.5,151.3L476.3,152.1L475.8,152.8L475.0,153.4L474.2,153.2L473.8,152.8L473.3,152.1L473.1,151.4L473.0,149.8L473.1,149.1L473.3,148.3ZM484.6,157.3L484.8,157.3L485.5,157.5L486.0,158.1L486.3,158.8L486.6,160.3L486.3,161.8L485.9,162.6L485.5,163.1L484.8,163.3L484.0,163.0L483.7,162.6L483.4,161.8L483.1,160.3L483.4,158.8L483.7,158.1L484.0,157.7ZM493.6,167.1L493.8,166.9L494.5,166.8L495.2,167.4L495.8,168.6L495.9,169.3L495.8,170.8L495.6,171.6L495.1,172.4L494.5,172.8L493.8,172.7L493.0,171.6L492.8,170.8L492.7,169.3L492.8,168.6L493.1,167.8ZM502.6,176.1L502.8,175.9L503.5,175.8L504.2,176.5L504.6,177.6L504.7,178.3L504.7,179.8L504.4,180.6L503.9,181.4L503.5,181.7L502.8,181.6L502.1,180.6L501.9,179.8L501.8,178.3L501.9,177.6L502.1,176.8ZM511.7,184.3L511.8,184.3L512.5,184.7L513.0,185.8L513.2,186.6L513.1,188.1L513.0,188.8L512.5,189.9L511.8,190.3L511.0,189.8L510.6,188.8L510.4,188.1L510.4,186.6L510.5,185.8L511.0,184.8Z"/>
<path fill="#f6a13a" d="M328.0,2.1L332.5,2.1L335.5,4.9L353.5,23.2L355.1,25.4L356.5,27.6L357.2,29.1L357.7,30.6L357.9,32.1L357.7,32.8L357.2,33.4L356.6,33.6L355.8,33.6L354.2,33.1L352.0,31.8L350.5,30.6L332.5,12.8L328.0,8.1ZM381.3,55.3L382.0,54.9L382.8,54.8L383.5,54.9L384.2,55.2L385.8,56.1L387.3,57.6L388.0,58.4L388.9,59.8L389.5,61.2L389.8,62.1L390.0,63.6L389.8,64.3L389.4,65.1L388.8,65.5L388.0,65.7L387.2,65.6L386.5,65.3L385.0,64.4L383.3,62.9L382.7,62.1L381.7,60.6L381.2,59.6L380.9,58.4L380.7,56.9L380.8,56.1ZM404.8,79.3L405.2,79.1L406.0,78.9L406.8,78.9L407.5,79.1L408.2,79.5L409.0,80.0L409.8,80.8L410.7,82.3L411.1,83.8L411.0,84.6L410.8,85.3L410.3,86.1L409.8,86.5L409.0,86.7L408.2,86.7L407.5,86.5L406.8,86.2L406.0,85.6L405.0,84.6L404.1,83.1L403.8,81.6L403.9,80.8L404.1,80.1ZM422.6,98.1L423.2,97.6L424.0,97.4L424.8,97.5L425.5,97.8L426.6,98.8L427.0,99.6L427.3,100.3L427.4,101.1L427.3,101.8L427.1,102.6L426.4,103.3L425.5,103.7L424.8,103.7L424.0,103.4L423.2,102.8L422.5,101.9L422.2,101.1L422.0,100.4L422.0,99.6L422.2,98.8ZM438.6,112.3L439.0,112.3L439.7,112.4L440.5,112.8L441.2,113.7L441.6,114.6L441.8,115.3L441.7,116.1L441.5,116.8L441.0,117.6L440.5,118.0L439.8,118.2L439.0,118.1L438.2,117.7L437.5,116.9L437.1,116.1L436.9,115.3L436.9,114.6L437.0,113.8L437.5,113.0L438.2,112.4ZM450.8,125.8L451.0,125.6L451.8,125.3L452.5,125.3L453.2,125.7L454.0,126.6L454.3,127.3L454.4,128.1L454.3,128.8L454.1,129.6L453.6,130.3L453.2,130.6L452.5,130.9L451.8,130.7L451.0,130.2L450.6,129.6L450.3,128.8L450.1,128.1L450.1,127.3L450.3,126.6ZM463.1,137.1L463.8,136.8L464.5,137.0L465.2,137.7L465.7,138.6L465.8,140.1L465.7,140.8L465.2,141.8L464.5,142.4L463.8,142.4L463.0,142.0L462.4,140.8L462.2,140.5L462.1,139.3L462.2,138.6L462.5,137.8ZM474.3,147.6L475.0,147.5L475.8,148.1L476.3,149.1L476.4,149.8L476.4,151.3L476.1,152.1L475.8,152.7L475.0,153.1L474.2,153.0L473.5,152.1L473.2,151.3L473.1,150.6L473.2,149.1L473.5,148.4ZM483.9,158.1L484.0,157.9L484.8,157.5L485.5,157.7L485.8,158.1L486.2,158.8L486.4,159.6L486.4,161.1L486.1,161.8L485.5,162.9L484.8,163.1L483.9,162.6L483.5,161.8L483.3,160.3L483.5,158.8ZM494.0,167.1L494.5,167.0L495.2,167.6L495.6,168.6L495.8,169.3L495.7,170.8L495.4,171.6L495.2,171.9L494.5,172.6L493.7,172.3L493.2,171.6L492.9,170.8L492.8,170.1L493.0,168.5L493.3,167.8L493.7,167.2ZM503.0,176.1L503.5,176.0L504.2,176.8L504.5,177.6L504.6,178.3L504.5,179.8L504.3,180.6L503.5,181.5L502.7,181.3L502.2,180.6L502.0,179.8L501.9,179.1L502.0,177.6L502.3,176.8L502.8,176.1ZM511.0,185.1L511.7,184.5L512.5,185.0L512.9,185.8L513.1,186.6L513.0,188.1L512.8,188.8L512.5,189.6L511.7,190.1L511.0,189.5L510.7,188.8L510.5,188.1L510.5,186.6L510.7,185.8Z"/>
<path fill="#f48d32" d="M328.0,2.1L332.2,2.1L335.5,5.3L353.1,23.1L353.8,23.9L355.3,26.1L356.2,27.6L356.9,29.1L357.4,30.6L357.5,31.4L357.4,32.1L357.2,32.5L356.9,32.9L356.5,33.1L355.8,33.1L354.2,32.7L352.8,31.9L350.8,30.6L332.5,12.5L328.0,7.7ZM381.9,55.4L382.8,55.1L383.5,55.2L385.0,55.9L386.5,57.0L388.0,58.8L389.1,60.6L389.6,62.1L389.7,62.9L389.7,63.6L389.5,64.3L388.8,65.1L388.0,65.4L387.2,65.3L386.5,65.1L385.8,64.7L384.2,63.6L382.8,61.9L381.6,59.8L381.2,59.0L381.0,57.6L381.0,56.9L381.2,56.1ZM405.3,79.3L406.0,79.2L406.8,79.2L407.5,79.4L408.2,79.8L409.0,80.3L410.1,81.6L410.7,83.1L410.8,83.8L410.8,84.6L410.5,85.4L409.8,86.1L409.0,86.4L408.2,86.4L407.2,86.1L406.0,85.3L405.3,84.6L404.7,83.8L404.2,82.3L404.1,81.6L404.2,80.8L404.5,80.0ZM423.0,98.1L423.2,97.9L424.0,97.7L424.8,97.7L425.5,98.1L426.4,98.8L426.8,99.6L427.1,100.3L427.2,101.1L427.0,102.1L426.8,102.6L426.2,103.1L425.5,103.4L424.8,103.4L424.0,103.1L423.3,102.6L422.7,101.8L422.4,101.1L422.2,100.3L422.2,99.6L422.4,98.8ZM437.7,113.1L438.2,112.7L439.0,112.5L439.8,112.6L440.5,113.1L441.1,113.8L441.4,114.6L441.6,115.3L441.5,116.1L441.2,116.9L440.6,117.6L439.8,117.9L439.0,117.9L438.2,117.4L437.7,116.8L437.3,116.1L437.1,115.3L437.1,114.6L437.2,113.8ZM451.1,125.8L451.8,125.5L452.5,125.5L453.2,125.9L453.8,126.6L454.1,127.3L454.2,128.1L454.2,128.8L453.9,129.6L453.3,130.3L452.5,130.6L451.8,130.5L451.0,129.9L450.8,129.6L450.4,128.8L450.3,128.1L450.3,127.3L450.5,126.6ZM463.6,137.1L463.8,137.0L464.5,137.2L465.1,137.8L465.5,138.6L465.7,139.3L465.7,140.1L465.5,140.8L465.1,141.6L464.5,142.2L463.8,142.2L463.0,141.7L462.5,140.8L462.3,140.1L462.3,139.3L462.4,138.6L463.0,137.4ZM473.8,148.3L474.2,147.8L475.0,147.7L475.8,148.3L476.1,149.1L476.3,149.8L476.3,150.6L476.2,151.3L475.8,152.4L475.1,152.8L475.0,152.9L474.2,152.7L473.7,152.1L473.4,151.3L473.2,149.8L473.4,149.1ZM484.1,158.1L484.8,157.7L485.5,158.0L486.0,158.8L486.2,159.6L486.2,161.1L486.0,161.8L485.5,162.6L484.8,162.9L484.0,162.4L483.7,161.8L483.5,161.1L483.4,159.6L483.7,158.8ZM493.4,167.8L493.8,167.4L494.5,167.2L495.2,167.8L495.5,168.6L495.6,169.3L495.5,170.8L495.2,171.6L494.5,172.3L493.8,172.2L493.4,171.6L493.1,170.8L493.0,169.3L493.1,168.6ZM502.4,176.8L502.8,176.4L503.5,176.2L504.2,177.2L504.5,178.3L504.5,179.1L504.4,179.8L504.1,180.6L503.5,181.3L502.8,181.1L502.4,180.6L502.1,179.8L502.0,178.3L502.1,177.6ZM511.2,185.1L511.8,184.7L512.5,185.2L512.9,186.6L512.9,188.1L512.5,189.3L512.1,189.6L511.8,189.8L511.0,189.2L510.6,188.1L510.6,186.6L511.0,185.3Z"/>
<path fill="#ef772e" d="M328.0,2.1L331.8,2.1L335.5,5.6L352.8,23.1L353.5,23.9L355.1,26.1L355.9,27.6L356.6,29.1L357.0,30.6L357.0,31.4L356.8,32.1L356.5,32.4L355.8,32.6L355.0,32.6L354.2,32.3L352.8,31.6L351.2,30.6L332.5,12.1L328.0,7.4ZM381.6,56.1L382.0,55.7L382.8,55.5L383.5,55.5L384.2,55.8L385.8,56.7L387.2,58.1L388.4,59.9L388.8,60.6L389.3,62.1L389.4,62.8L389.4,63.6L389.1,64.3L388.8,64.7L388.0,65.0L387.2,65.0L386.5,64.8L385.0,63.9L383.5,62.5L382.2,60.6L381.5,59.1L381.2,57.6L381.3,56.8ZM404.9,80.1L405.2,79.8L406.0,79.5L406.8,79.5L407.5,79.7L408.2,80.0L409.2,80.8L409.8,81.6L410.2,82.3L410.5,83.1L410.6,83.8L410.5,84.6L410.1,85.3L409.8,85.8L409.0,86.1L408.2,86.1L407.5,86.0L406.4,85.3L405.5,84.6L405.0,83.8L404.4,82.3L404.3,81.6L404.4,80.8ZM423.5,98.1L424.0,97.9L424.8,98.0L425.5,98.3L426.1,98.8L426.6,99.6L426.9,100.3L427.0,101.1L426.9,101.8L426.2,102.8L425.5,103.2L424.8,103.2L424.0,102.9L423.2,102.2L422.6,101.1L422.4,100.3L422.5,99.4L422.7,98.8L423.2,98.2ZM438.1,113.1L439.0,112.7L439.8,112.9L440.5,113.4L440.9,113.8L441.2,114.6L441.4,115.3L441.3,116.1L441.0,116.8L440.5,117.4L439.8,117.7L439.0,117.6L438.2,117.2L437.5,116.1L437.3,115.3L437.3,114.6L437.5,113.8ZM451.5,125.8L451.8,125.7L452.5,125.7L452.8,125.8L453.2,126.2L453.6,126.6L453.9,127.3L454.1,128.1L454.0,128.8L453.7,129.6L453.2,130.1L452.5,130.4L451.8,130.3L451.0,129.6L450.6,128.8L450.5,128.1L450.5,127.3L450.8,126.6L451.0,126.2ZM462.9,137.8L463.8,137.3L464.5,137.4L464.9,137.8L465.3,138.6L465.5,139.3L465.5,140.1L465.2,141.1L464.5,141.9L463.8,142.0L463.0,141.4L462.7,140.8L462.5,140.1L462.4,139.3L462.5,138.6ZM474.0,148.3L474.2,148.1L475.0,148.0L475.8,148.6L476.0,149.1L476.2,149.8L476.2,150.6L476.1,151.3L475.8,152.1L475.0,152.7L474.2,152.5L473.9,152.1L473.5,151.3L473.4,150.6L473.4,149.8L473.5,149.1ZM484.5,158.1L484.8,157.9L485.5,158.2L485.9,158.8L486.1,159.6L486.2,160.3L486.1,161.1L485.8,161.8L485.5,162.4L485.0,162.6L484.8,162.7L484.0,162.1L483.6,161.1L483.5,160.3L483.6,159.6L484.0,158.5ZM493.6,167.8L493.8,167.7L494.5,167.4L495.2,168.3L495.5,169.3L495.5,170.1L495.2,171.3L494.5,172.1L493.8,171.9L493.5,171.6L493.2,170.8L493.1,169.3L493.2,168.6ZM502.6,176.8L502.8,176.6L503.5,176.4L503.9,176.8L504.2,177.5L504.4,178.3L504.4,179.1L504.2,180.0L503.9,180.6L503.5,181.1L502.8,180.9L502.6,180.6L502.2,179.8L502.1,178.3L502.3,177.6ZM511.5,185.1L511.8,185.0L512.5,185.5L512.8,186.6L512.9,187.4L512.8,188.1L512.5,189.0L511.8,189.6L511.0,189.0L510.7,188.1L510.7,187.3L510.9,185.8L511.0,185.6Z"/>
<path fill="#ea602a" d="M328.0,2.1L331.4,2.1L335.4,5.8L353.2,23.9L354.3,25.4L355.2,26.9L356.3,29.1L356.6,30.6L356.5,31.3L355.8,32.1L355.0,32.1L354.3,31.9L352.8,31.3L351.2,30.3L332.6,11.8L328.0,7.0ZM382.2,56.1L382.8,55.8L383.5,55.8L384.2,56.0L385.8,56.9L387.2,58.4L388.0,59.5L388.6,60.6L389.1,62.1L389.1,62.9L389.0,63.6L388.5,64.3L388.0,64.6L387.2,64.7L386.5,64.5L385.0,63.6L383.4,62.1L382.7,61.2L382.0,59.9L381.6,58.4L381.5,57.6L381.7,56.9ZM405.3,80.1L406.0,79.8L406.8,79.7L407.9,80.1L409.0,80.9L409.8,82.0L410.2,83.1L410.3,83.8L410.2,84.6L409.8,85.4L409.0,85.8L408.2,85.9L407.5,85.7L406.8,85.4L405.8,84.6L405.2,83.8L404.6,82.3L404.6,81.6L404.8,80.8ZM423.0,98.8L423.2,98.6L424.0,98.2L424.8,98.2L425.5,98.6L425.8,98.8L426.4,99.6L426.7,100.3L426.8,101.1L426.6,101.8L426.2,102.4L425.5,102.9L424.8,102.9L424.0,102.6L423.2,101.9L422.8,101.1L422.6,100.3L422.7,99.6ZM438.6,113.1L439.0,113.0L439.8,113.1L440.5,113.7L441.0,114.6L441.2,115.3L441.1,116.1L440.7,116.8L440.5,117.1L439.8,117.5L439.0,117.4L438.2,116.9L437.7,116.1L437.5,115.4L437.5,114.6L437.7,113.8L438.2,113.2ZM451.0,126.6L451.8,125.9L452.5,125.9L453.2,126.4L453.8,127.3L453.9,128.1L453.8,128.8L453.5,129.6L453.2,129.8L452.5,130.2L451.8,130.0L451.2,129.6L450.8,128.8L450.6,128.1L450.7,127.3ZM463.2,137.8L463.8,137.5L464.5,137.7L465.2,138.6L465.4,139.3L465.4,140.1L465.2,140.9L464.6,141.6L463.8,141.7L463.0,141.1L462.9,140.8L462.6,140.1L462.6,139.3L462.7,138.6ZM474.2,148.3L475.0,148.2L475.8,149.1L476.0,149.8L476.1,150.6L475.9,151.3L475.5,152.1L475.0,152.5L474.2,152.3L473.7,151.3L473.5,150.6L473.5,149.8L473.7,149.1ZM484.0,158.8L484.8,158.2L485.5,158.5L485.7,158.8L486.0,159.6L486.0,160.4L486.0,161.1L485.7,161.8L485.5,162.1L484.8,162.5L484.0,161.9L483.7,161.1L483.6,160.3L483.7,159.6ZM493.9,167.8L494.5,167.7L495.2,168.7L495.4,169.3L495.4,170.1L495.2,170.9L494.8,171.6L494.5,171.9L493.8,171.7L493.3,170.8L493.2,170.1L493.2,169.3L493.4,168.6L493.8,167.9ZM502.8,176.8L503.5,176.7L504.1,177.6L504.2,178.1L504.2,179.4L504.1,179.8L503.7,180.6L503.5,180.8L502.8,180.6L502.4,179.9L502.2,179.1L502.2,178.3L502.4,177.6ZM511.1,185.8L511.8,185.2L512.5,185.8L512.7,186.6L512.8,187.3L512.7,188.1L512.4,188.9L511.8,189.4L511.0,188.6L510.8,187.3L510.8,186.6Z"/>
<path fill="#e54a26" d="M328.0,2.1L331.0,2.1L334.8,5.6L352.8,23.7L353.5,24.6L354.5,26.1L355.6,28.4L356.0,29.9L356.0,30.6L355.7,31.4L355.0,31.6L354.2,31.5L352.8,30.9L351.2,30.0L332.5,11.4L328.0,6.6ZM382.0,56.9L382.8,56.2L383.5,56.2L384.2,56.3L385.0,56.7L385.8,57.2L387.2,58.8L388.0,59.9L388.3,60.6L388.8,62.1L388.8,62.9L388.6,63.6L388.0,64.2L387.2,64.4L386.5,64.2L385.8,63.8L384.4,62.8L383.5,61.8L382.7,60.6L382.0,59.1L381.8,57.6ZM406.0,80.1L406.8,80.0L407.5,80.2L408.2,80.6L409.3,81.6L409.8,82.5L410.0,83.1L410.0,83.8L409.9,84.6L409.2,85.3L408.2,85.6L407.5,85.4L406.8,85.1L406.2,84.6L405.5,83.8L405.1,83.1L404.9,82.3L404.9,81.6L405.2,80.6ZM423.3,98.8L424.0,98.4L424.8,98.5L425.5,98.9L426.1,99.6L426.5,100.3L426.5,101.1L426.2,102.0L425.6,102.6L424.8,102.7L424.5,102.6L424.0,102.4L423.2,101.5L423.0,101.1L422.8,100.3L422.9,99.6ZM438.0,113.8L438.2,113.5L439.0,113.2L439.8,113.3L440.4,113.9L440.9,114.6L441.0,115.3L440.9,116.1L440.5,116.8L439.8,117.2L439.0,117.2L438.3,116.6L437.9,116.1L437.7,115.3L437.7,114.6ZM451.2,126.6L451.8,126.2L452.5,126.2L453.2,126.7L453.6,127.3L453.7,128.1L453.6,128.8L453.2,129.6L452.5,130.0L451.8,129.8L451.0,128.9L450.8,128.1L450.8,127.3ZM463.5,137.8L463.8,137.7L464.5,137.9L465.0,138.6L465.2,139.3L465.2,140.1L465.0,140.8L464.5,141.4L463.8,141.5L463.0,140.8L462.8,140.1L462.7,139.3L462.9,138.6L463.0,138.3ZM473.9,149.1L474.2,148.6L475.0,148.4L475.6,149.1L475.9,149.8L475.9,150.6L475.8,151.4L475.0,152.2L474.2,152.0L473.8,151.3L473.6,150.6L473.7,149.8ZM484.2,158.8L484.8,158.4L485.5,158.8L485.8,159.6L485.9,160.3L485.8,161.1L485.5,161.9L484.8,162.3L484.0,161.5L483.8,160.3L483.8,159.6ZM493.5,168.6L493.8,168.2L494.5,167.9L495.1,168.6L495.3,169.3L495.3,170.1L495.1,170.8L494.5,171.7L493.8,171.4L493.5,170.8L493.3,170.1L493.3,169.3ZM502.5,177.6L502.7,177.1L503.5,176.9L504.0,177.6L504.2,178.3L504.2,179.1L504.0,179.8L503.5,180.6L502.8,180.4L502.5,179.8L502.3,179.1L502.3,178.3ZM511.3,185.8L511.8,185.4L512.5,186.2L512.7,187.3L512.6,188.1L512.2,188.8L511.8,189.2L511.4,188.8L511.0,188.1L510.9,187.3L510.9,186.6Z"/>
<path fill="#e03422" d="M328.0,2.1L330.6,2.1L334.8,5.9L352.8,24.1L353.5,25.0L354.2,26.1L355.3,28.4L355.6,29.9L355.3,30.6L355.0,30.9L354.2,31.0L353.5,30.8L352.8,30.5L351.2,29.7L332.6,11.1L328.0,6.1ZM382.6,56.9L383.5,56.5L384.2,56.7L385.0,57.0L385.8,57.6L387.2,59.1L388.0,60.4L388.3,61.3L388.5,62.1L388.4,62.9L388.1,63.6L387.2,64.0L386.5,63.9L385.8,63.5L384.8,62.9L383.5,61.5L382.8,60.3L382.3,59.1L382.2,58.4L382.2,57.6ZM405.5,80.8L406.0,80.5L406.8,80.3L407.5,80.5L408.2,80.8L409.0,81.6L409.4,82.3L409.7,83.1L409.7,83.8L409.5,84.6L409.0,85.1L408.2,85.3L407.5,85.1L406.8,84.8L406.0,84.1L405.4,83.1L405.2,82.3L405.2,81.6ZM423.7,98.8L424.0,98.7L424.8,98.7L425.5,99.1L425.9,99.6L426.3,100.3L426.3,101.1L426.1,101.8L425.5,102.4L424.8,102.5L424.0,102.1L423.7,101.8L423.2,101.1L423.0,100.3L423.1,99.6ZM438.2,113.8L439.0,113.4L439.8,113.6L440.1,113.8L440.7,114.6L440.8,115.3L440.7,116.1L440.5,116.5L439.8,117.0L439.0,116.9L438.2,116.3L437.9,115.3L437.9,114.6ZM451.5,126.6L451.8,126.4L452.5,126.4L453.2,127.1L453.4,127.3L453.6,128.1L453.5,128.8L453.2,129.2L452.8,129.6L452.5,129.8L451.8,129.6L451.2,128.8L451.0,128.1L451.0,127.3ZM463.1,138.6L463.8,137.9L464.5,138.2L464.8,138.6L465.1,139.3L465.1,140.1L464.8,140.8L464.5,141.2L463.8,141.3L463.3,140.8L463.0,140.4L462.9,139.3ZM474.0,149.1L474.2,148.8L475.0,148.7L475.4,149.1L475.8,149.8L475.8,150.9L475.6,151.3L475.0,152.0L474.2,151.8L474.0,151.3L473.8,150.6L473.8,149.8ZM484.4,158.8L484.8,158.6L485.2,158.9L485.5,159.1L485.7,159.6L485.8,160.3L485.7,161.1L485.5,161.5L485.1,161.8L484.8,162.0L484.0,161.1L483.9,160.3L484.0,159.6ZM493.7,168.6L493.8,168.4L494.5,168.1L494.9,168.6L495.1,169.3L495.2,170.1L494.9,170.8L494.5,171.5L493.8,171.1L493.4,170.1L493.5,169.3ZM502.6,177.6L502.8,177.4L503.5,177.1L503.8,177.6L504.0,178.3L504.0,179.1L503.8,179.8L503.5,180.4L502.8,180.1L502.5,179.1L502.5,178.3ZM511.5,185.8L511.8,185.6L512.0,185.8L512.5,186.6L512.6,187.3L512.5,188.0L511.9,188.8L511.8,189.0L511.6,188.9L511.1,188.1L511.0,187.6L511.1,186.6Z"/>
<path fill="#d42f1f" d="M328.0,2.1L330.1,2.1L334.8,6.3L352.8,24.5L353.5,25.5L354.6,27.6L355.0,29.1L354.9,29.9L354.2,30.4L353.5,30.4L352.0,29.8L351.2,29.3L333.2,11.3L328.0,5.6ZM382.6,57.6L382.8,57.4L383.5,57.0L384.2,57.0L385.0,57.4L386.3,58.4L387.2,59.6L387.8,60.6L388.0,61.4L388.1,62.1L388.0,62.9L387.2,63.5L386.5,63.5L385.2,62.9L384.3,62.1L383.5,61.0L382.8,59.9L382.6,59.1L382.5,58.4ZM406.0,80.8L406.8,80.6L407.5,80.8L408.2,81.2L408.6,81.6L409.2,82.3L409.4,83.1L409.4,83.8L409.1,84.6L408.2,85.0L407.5,84.9L406.8,84.5L406.1,83.8L405.7,83.1L405.5,82.3L405.5,81.6ZM423.4,99.6L424.0,99.0L424.8,99.0L425.7,99.6L426.0,100.3L426.1,101.1L425.8,101.8L425.5,102.1L424.8,102.2L424.0,101.8L423.5,101.1L423.2,100.4ZM438.6,113.8L439.0,113.7L439.8,113.8L440.4,114.6L440.6,115.3L440.5,116.1L439.8,116.7L439.0,116.7L438.4,116.1L438.1,115.3L438.1,114.6L438.2,114.2ZM452.3,126.6L452.5,126.6L453.2,127.3L453.4,128.1L453.2,128.9L452.5,129.5L451.8,129.3L451.4,128.8L451.2,128.1L451.3,127.3L451.8,126.6ZM463.3,138.6L463.8,138.2L464.5,138.4L464.6,138.6L464.9,139.4L464.9,140.1L464.5,141.0L463.8,141.1L463.1,140.1L463.0,139.3ZM474.2,149.1L475.0,148.9L475.2,149.1L475.6,149.9L475.6,150.6L475.4,151.3L475.0,151.8L474.2,151.5L474.2,151.3L473.9,150.6L474.0,149.8ZM484.7,158.8L484.8,158.8L485.5,159.4L485.6,159.6L485.7,160.3L485.5,161.2L484.8,161.8L484.2,161.1L484.0,160.3L484.2,159.6ZM493.9,168.6L494.5,168.3L495.0,169.3L495.0,170.1L494.8,170.8L494.5,171.2L493.8,170.9L493.6,170.1L493.6,169.3L493.8,168.7ZM502.9,177.6L503.5,177.4L503.9,178.3L503.9,179.1L503.5,180.1L502.7,179.8L502.6,179.1L502.6,178.3L502.8,177.7ZM511.7,185.8L511.8,185.8L512.3,186.6L512.5,187.3L512.3,188.1L511.8,188.7L511.3,188.1L511.1,187.3L511.2,186.6Z"/>
<path fill="#c82a1d" d="M328.0,2.1L329.5,2.1L334.8,6.8L352.8,24.9L353.5,26.1L354.2,27.6L354.4,28.4L354.4,29.1L354.2,29.4L353.5,29.8L352.8,29.6L352.0,29.3L351.2,28.8L333.2,10.9L328.0,5.0ZM383.3,57.6L383.5,57.5L384.2,57.4L385.0,57.7L385.8,58.3L386.6,59.1L387.2,60.2L387.7,61.4L387.7,62.1L387.4,62.9L387.2,63.0L386.5,63.1L385.8,62.8L385.0,62.3L384.1,61.3L383.5,60.5L383.0,59.1L382.9,58.4ZM405.9,81.6L406.0,81.4L406.8,81.0L407.5,81.1L408.2,81.6L408.8,82.3L409.1,83.1L409.0,84.0L408.2,84.6L407.5,84.5L406.8,84.1L406.0,83.1L405.8,82.3ZM423.7,99.6L424.0,99.3L424.8,99.3L425.5,99.8L425.8,100.3L425.8,101.1L425.5,101.7L424.8,101.9L424.0,101.5L423.7,101.1L423.5,100.3ZM438.3,114.6L439.0,113.9L439.8,114.1L440.1,114.6L440.4,115.4L440.1,116.1L439.8,116.4L439.0,116.4L438.7,116.1L438.2,115.3ZM451.5,127.3L451.8,127.0L452.5,126.9L452.9,127.3L453.2,128.1L452.9,128.8L452.5,129.2L451.8,129.0L451.4,128.1ZM463.6,138.6L463.8,138.4L464.5,138.7L464.7,139.3L464.7,140.1L464.5,140.6L463.7,140.8L463.3,140.1L463.2,139.3ZM474.1,149.8L474.2,149.5L475.0,149.1L475.4,149.8L475.4,150.6L475.1,151.3L475.0,151.5L474.2,151.1L474.1,150.6ZM484.4,159.6L484.8,159.1L485.3,159.6L485.5,160.0L485.5,160.6L485.3,161.1L484.8,161.5L484.4,161.1L484.2,160.3ZM494.5,168.6L494.8,169.3L494.8,170.1L494.5,171.0L493.8,170.4L493.7,170.1L493.8,169.2ZM503.5,177.6L503.7,178.3L503.8,179.1L503.5,179.9L502.8,179.4L502.7,179.1L502.8,178.1ZM511.4,186.6L511.8,186.1L512.1,186.6L512.3,187.3L512.0,188.1L511.8,188.5L511.5,188.1L511.3,187.3Z"/>
<path fill="#b9241a" d="M328.0,2.1L328.7,2.1L334.8,7.3L352.7,25.4L353.5,26.9L353.7,27.6L353.8,28.4L353.5,28.9L352.8,29.1L352.0,28.9L351.2,28.3L333.2,10.4L328.0,4.3ZM383.5,58.4L384.2,58.0L385.0,58.2L385.8,58.7L386.5,59.6L387.1,60.6L387.3,61.4L387.2,61.9L387.2,62.1L386.5,62.5L385.8,62.4L385.0,61.9L384.2,61.1L383.5,59.9L383.4,59.1ZM406.4,81.6L406.8,81.4L407.5,81.5L408.2,82.1L408.7,83.1L408.6,83.8L408.2,84.1L407.5,84.1L406.8,83.7L406.3,83.1L406.1,82.3ZM424.5,99.6L424.8,99.6L425.5,100.3L425.5,101.2L424.8,101.6L424.0,101.1L423.8,100.3L424.0,99.8ZM438.7,114.6L439.0,114.3L439.8,114.5L439.8,114.6L440.1,115.3L439.8,116.1L439.0,116.1L438.6,115.3ZM451.7,127.3L452.5,127.2L452.6,127.3L452.9,128.1L452.6,128.8L452.5,128.9L452.2,128.8L451.8,128.6L451.6,128.1ZM463.5,139.3L463.8,138.8L464.5,139.2L464.5,140.1L463.8,140.5L463.5,140.1ZM474.3,149.8L475.0,149.5L475.2,149.8L475.2,150.6L475.0,151.2L474.2,150.6ZM484.6,159.6L484.8,159.4L485.0,159.6L485.3,160.3L484.9,161.1L484.8,161.2L484.7,161.1L484.4,160.3ZM494.0,169.3L494.5,169.0L494.7,169.3L494.7,170.1L494.5,170.6L494.0,170.1ZM503.0,178.3L503.5,178.0L503.6,178.3L503.6,179.1L503.5,179.5L503.0,179.1ZM511.6,186.6L511.8,186.4L511.9,186.6L512.1,187.3L511.8,188.1L511.8,188.2L511.7,188.1L511.4,187.3Z"/>
<path fill="#a81f17" d="M330.2,5.1L330.2,5.0L330.4,5.1L330.2,5.2ZM330.6,5.8L331.0,5.3L331.8,5.8L334.0,7.3L334.8,8.0L352.0,25.4L352.8,26.2L353.0,26.9L353.1,27.6L352.8,28.3L352.0,28.3L351.2,27.7L333.9,10.3L333.2,9.6L331.0,6.6ZM384.0,59.1L384.2,58.8L385.0,58.8L385.8,59.3L386.5,60.4L386.7,61.4L386.5,61.7L385.8,61.7L385.0,61.3L384.2,60.3L384.1,59.9ZM406.6,82.3L406.8,82.1L407.5,82.0L407.9,82.3L408.3,83.1L408.2,83.2L407.5,83.6L406.8,83.1ZM424.3,100.3L424.8,100.0L425.1,100.3L424.9,101.1L424.8,101.2L424.6,101.1ZM438.9,115.3L439.0,114.9L439.8,115.2L439.8,115.3L439.8,115.4L439.0,115.5ZM452.0,128.1L452.5,127.8L452.6,128.1L452.5,128.4ZM463.7,139.3L463.8,139.2L463.9,139.3L463.8,139.9ZM474.9,150.6L475.0,150.1L475.0,150.6L475.0,150.7ZM484.6,160.3L484.8,159.9L485.0,160.3L484.8,160.8ZM494.4,170.1L494.5,169.6L494.5,170.1L494.5,170.2ZM511.6,187.3L511.8,186.8L511.9,187.3L511.8,187.8Z"/>
</g>
<line x1="99.8" y1="31" x2="99.8" y2="191.5" stroke="#d9caa0" stroke-width="0.8" stroke-dasharray="0.9 1.05" opacity="0.62"/>
<line x1="99.8" y1="197.6" x2="99.8" y2="247.2" stroke="#ddd0a2" stroke-width="0.8" stroke-dasharray="0.9 1.05"/>
<line x1="126.2" y1="31" x2="126.2" y2="191.5" stroke="#d9caa0" stroke-width="0.8" stroke-dasharray="0.9 1.05" opacity="0.62"/>
<line x1="126.2" y1="197.6" x2="126.2" y2="247.2" stroke="#ddd0a2" stroke-width="0.8" stroke-dasharray="0.9 1.05"/>
<line x1="58" y1="47" x2="143.5" y2="47" stroke="#d9caa0" stroke-width="0.8" stroke-dasharray="0.9 1.05" opacity="0.62"/>
<line x1="58" y1="72.9" x2="143.5" y2="72.9" stroke="#d9caa0" stroke-width="0.8" stroke-dasharray="0.9 1.05" opacity="0.62"/>
<path d="M68.3 49.5V70.8" stroke="#d9caa0" stroke-width="0.9" fill="none"/>
<path d="M68.3 48.0l-1.4 3.2h2.8zM68.3 72.2l-1.4 -3.2h2.8z" fill="#d9caa0"/>
<path d="M102 181.7H124.3" stroke="#d9caa0" stroke-width="0.9" fill="none"/>
<path d="M100.7 181.7l3.2 -1.4v2.8zM125.7 181.7l-3.2 -1.4v2.8z" fill="#d9caa0"/>
<text class="d" x="62.1" y="87.5" font-family="'Liberation Serif', serif" font-size="14.6" fill="#d6c07e">Δλ<tspan font-size="10" dy="2.6">f</tspan></text>
<text class="d" x="130.5" y="185.3" font-family="'Liberation Serif', serif" font-size="14.6" fill="#d6c07e">Δλ<tspan font-size="10" dy="2.6">f</tspan></text>
<rect x="54.75" y="0.3" width="193.75" height="193.8" fill="none" stroke="#484848" stroke-width="1.1"/>
<rect x="54.75" y="197.6" width="193.75" height="49.6" fill="none" stroke="#484848" stroke-width="1.1"/>
<path d="M74 0.3v2.2M74 194.1v-2.2M74 197.6v2M74 247.2v-2M147.01 0.3v2.2M147.01 194.1v-2.2M147.01 197.6v2M147.01 247.2v-2M220.02 0.3v2.2M220.02 194.1v-2.2M220.02 197.6v2M220.02 247.2v-2M54.75 40.8h2.2M248.5 40.8h-2.2M54.75 94h2.2M248.5 94h-2.2M54.75 147.2h2.2M248.5 147.2h-2.2M54.75 201.7h2M248.5 201.7h-2M54.75 224.35h2M248.5 224.35h-2" stroke="#484848" stroke-width="1" fill="none"/>
<text x="75.4" y="262.3" text-anchor="middle">1550</text>
<text x="147.31" y="262.3" text-anchor="middle">1557</text>
<text x="220.02" y="262.3" text-anchor="middle">1564</text>
<text x="49.95" y="44.8" text-anchor="end">1545</text>
<text x="49.95" y="99.2" text-anchor="end">1540</text>
<text x="49.95" y="152.3" text-anchor="end">1535</text>
<text x="47.15" y="205.8" text-anchor="end">1</text>
<text x="48.15" y="251.3" text-anchor="end">0</text>
<text x="122.2" y="277.2" letter-spacing="0.2">λ<tspan font-size="10" dy="2.6">s</tspan><tspan dy="-2.6"> (nm)</tspan></text>
<text transform="translate(12.2 113.6) rotate(-90)" letter-spacing="0.5">λ<tspan font-size="9" dy="2.8">i</tspan><tspan dy="-2.8"> (nm)</tspan></text>
<text transform="translate(11.8 223.6) rotate(-90)" text-anchor="middle" letter-spacing="0.15">Intensity</text>
<text transform="translate(31.6 223.2) rotate(-90)" text-anchor="middle">(a.u.)</text>
<line x1="371.2" y1="31" x2="371.2" y2="191.5" stroke="#d9caa0" stroke-width="0.8" stroke-dasharray="0.9 1.05" opacity="0.62"/>
<line x1="371.2" y1="197.6" x2="371.2" y2="247.2" stroke="#ddd0a2" stroke-width="0.8" stroke-dasharray="0.9 1.05"/>
<line x1="397.6" y1="31" x2="397.6" y2="191.5" stroke="#d9caa0" stroke-width="0.8" stroke-dasharray="0.9 1.05" opacity="0.62"/>
<line x1="397.6" y1="197.6" x2="397.6" y2="247.2" stroke="#ddd0a2" stroke-width="0.8" stroke-dasharray="0.9 1.05"/>
<line x1="329" y1="47" x2="414.9" y2="47" stroke="#d9caa0" stroke-width="0.8" stroke-dasharray="0.9 1.05" opacity="0.62"/>
<line x1="329" y1="72.9" x2="414.9" y2="72.9" stroke="#d9caa0" stroke-width="0.8" stroke-dasharray="0.9 1.05" opacity="0.62"/>
<path d="M339.7 49.5V70.8" stroke="#d9caa0" stroke-width="0.9" fill="none"/>
<path d="M339.7 48.0l-1.4 3.2h2.8zM339.7 72.2l-1.4 -3.2h2.8z" fill="#d9caa0"/>
<path d="M373.4 181.7H395.7" stroke="#d9caa0" stroke-width="0.9" fill="none"/>
<path d="M372.1 181.7l3.2 -1.4v2.8zM397.1 181.7l-3.2 -1.4v2.8z" fill="#d9caa0"/>
<text class="d" x="333.5" y="87.5" font-family="'Liberation Serif', serif" font-size="14.6" fill="#d6c07e">Δλ<tspan font-size="10" dy="2.6">f</tspan></text>
<text class="d" x="401.9" y="185.3" font-family="'Liberation Serif', serif" font-size="14.6" fill="#d6c07e">Δλ<tspan font-size="10" dy="2.6">f</tspan></text>
<rect x="326.15" y="0.3" width="193.45" height="193.8" fill="none" stroke="#484848" stroke-width="1.1"/>
<rect x="326.15" y="197.6" width="193.45" height="49.6" fill="none" stroke="#484848" stroke-width="1.1"/>
<path d="M345.6 0.3v2.2M345.6 194.1v-2.2M345.6 197.6v2M345.6 247.2v-2M418.61 0.3v2.2M418.61 194.1v-2.2M418.61 197.6v2M418.61 247.2v-2M491.62 0.3v2.2M491.62 194.1v-2.2M491.62 197.6v2M491.62 247.2v-2M326.15 40.8h2.2M519.6 40.8h-2.2M326.15 94h2.2M519.6 94h-2.2M326.15 147.2h2.2M519.6 147.2h-2.2M326.15 201.7h2M519.6 201.7h-2M326.15 224.35h2M519.6 224.35h-2" stroke="#484848" stroke-width="1" fill="none"/>
<text x="346.7" y="262.3" text-anchor="middle">1550</text>
<text x="418.61" y="262.3" text-anchor="middle">1557</text>
<text x="491.72" y="262.3" text-anchor="middle">1564</text>
<text x="321.35" y="44.8" text-anchor="end">1545</text>
<text x="321.35" y="99.2" text-anchor="end">1540</text>
<text x="321.35" y="152.3" text-anchor="end">1535</text>
<text x="318.55" y="205.8" text-anchor="end">1</text>
<text x="319.55" y="251.3" text-anchor="end">0</text>
<text x="393.6" y="277.2" letter-spacing="0.2">λ<tspan font-size="10" dy="2.6">s</tspan><tspan dy="-2.6"> (nm)</tspan></text>
<text transform="translate(283.6 113.6) rotate(-90)" letter-spacing="0.5">λ<tspan font-size="9" dy="2.8">i</tspan><tspan dy="-2.8"> (nm)</tspan></text>
<text transform="translate(287.7 223.6) rotate(-90)" text-anchor="middle" letter-spacing="0.15">Intensity</text>
<text transform="translate(304.7 223.2) rotate(-90)" text-anchor="middle">(a.u.)</text>
<g fill="#f4f4ff" class="w" font-size="14.3"><text x="233.9" y="21.4" text-anchor="end">(a)</text><text x="233.6" y="38.2" text-anchor="end">Non-NLI case</text>
<text x="505" y="21.4" text-anchor="end">(b)</text><text x="504.8" y="38.3" text-anchor="end">NLI case</text>
<text x="411.4" y="51.4" font-size="14">m=1</text><text x="432.6" y="73.3" font-size="14">m=2</text><text x="449.6" y="91.6" font-size="14">m=3</text></g>
<path d="M410 48.8L399.713 54.2373" stroke="#f4f4ff" stroke-width="1.2"/>
<path d="M396 56.2L398.732 52.3807L400.695 56.0939Z" fill="#f4f4ff"/>
<path d="M431 70.2L419.706 76.2235" stroke="#f4f4ff" stroke-width="1.2"/>
<path d="M416 78.2L418.718 74.3706L420.694 78.0765Z" fill="#f4f4ff"/>
<path d="M447.2 88.5L436.063 94.7456" stroke="#f4f4ff" stroke-width="1.2"/>
<path d="M432.4 96.8L435.036 92.914L437.09 96.5772Z" fill="#f4f4ff"/>
<circle cx="477.8" cy="102.3" r="0.95" fill="#f4f4ff"/>
<circle cx="484.6" cy="108.2" r="0.95" fill="#f4f4ff"/>
<circle cx="491.8" cy="114.6" r="0.95" fill="#f4f4ff"/>
<circle cx="499.2" cy="121.3" r="0.95" fill="#f4f4ff"/>
<path d="M54.9,206.1L56.2,206.1L57.8,206.1L59.2,206.2L60.8,206.2L62.2,206.2L63.8,206.2L65.2,206.2L66.8,206.1L68.2,206.1L69.8,206.0L71.2,206.0L72.8,205.9L74.2,205.9L75.8,205.8L77.2,205.7L78.8,205.6L80.2,205.5L81.8,205.4L83.2,205.3L84.8,205.2L86.2,205.1L87.8,205.0L89.2,204.9L90.8,204.8L92.2,204.6L93.8,204.5L95.2,204.4L96.8,204.3L98.2,204.1L99.8,204.0L101.2,203.9L102.8,203.8L104.2,203.7L105.8,203.6L107.2,203.5L108.8,203.3L110.2,203.2L111.8,203.1L113.2,203.0L114.8,203.0L116.2,202.9L117.8,202.8L119.2,202.7L120.8,202.7L122.2,202.6L123.8,202.6L125.2,202.5L126.8,202.5L128.2,202.5L129.8,202.5L131.2,202.5L132.8,202.5L134.2,202.5L135.8,202.6L137.2,202.6L138.8,202.7L140.2,202.7L141.8,202.8L143.2,202.9L144.8,203.1L146.2,203.2L147.8,203.3L149.2,203.5L150.8,203.7L152.2,203.9L153.8,204.1L155.2,204.4L156.8,204.6L158.2,204.9L159.8,205.2L161.2,205.5L162.8,205.8L164.2,206.2L165.8,206.6L167.2,207.0L168.8,207.4L170.2,207.8L171.8,208.3L173.2,208.8L174.8,209.3L176.2,209.8L177.8,210.4L179.2,210.9L180.8,211.5L182.2,212.1L183.8,212.7L185.2,213.3L186.8,213.9L188.2,214.5L189.8,215.1L191.2,215.8L192.8,216.4L194.2,217.0L195.8,217.7L197.2,218.3L198.8,219.0L200.2,219.6L201.8,220.2L203.2,220.8L204.8,221.4L206.2,222.0L207.8,222.6L209.2,223.2L210.8,223.8L212.2,224.3L213.8,224.8L215.2,225.4L216.8,225.9L218.2,226.4L219.8,226.9L221.2,227.3L222.8,227.8L224.2,228.2L225.8,228.6L227.2,229.1L228.8,229.5L230.2,229.8L231.8,230.2L233.2,230.6L234.8,230.9L236.2,231.2L237.8,231.6L239.2,231.9L240.8,232.1L242.2,232.4L243.8,232.7L245.2,232.9L246.8,233.2L247.8,233.3" stroke="#48563f" stroke-width="1.4" fill="none" stroke-linejoin="round"/>
<path d="M326.1,205.9L326.6,205.9L327.1,205.9L327.6,206.0L328.1,206.0L328.6,206.0L329.1,206.0L329.6,205.9L330.1,205.9L330.6,205.9L331.1,205.8L331.6,205.8L332.1,205.7L332.6,205.6L333.1,205.5L333.6,205.4L334.1,205.3L334.6,205.2L335.1,205.1L335.6,204.9L336.1,204.8L336.6,204.6L337.1,204.5L337.6,204.3L338.1,204.2L338.6,204.0L339.1,203.8L339.6,203.7L340.1,203.5L340.6,203.4L341.1,203.2L341.6,203.1L342.1,203.0L342.6,202.9L343.1,202.8L343.6,202.7L344.1,202.6L344.6,202.6L345.1,202.5L345.6,202.5L346.1,202.5L346.6,202.6L347.1,202.7L347.6,202.8L348.1,203.0L348.6,203.1L349.1,203.4L349.6,203.7L350.1,204.0L350.6,204.4L351.1,204.8L351.6,205.3L352.1,205.8L352.6,206.4L353.1,207.0L353.6,207.7L354.1,208.5L354.6,209.3L355.1,210.1L355.6,211.1L356.1,212.0L356.6,213.1L357.1,214.2L357.6,215.3L358.1,216.5L358.6,217.7L359.1,219.0L359.6,220.3L360.1,221.7L360.6,223.1L361.1,224.5L361.6,225.9L362.1,227.3L362.6,228.7L363.1,230.2L363.6,231.6L364.1,233.0L364.6,234.3L365.1,235.6L365.6,236.9L366.1,238.1L366.6,239.2L367.1,240.2L367.6,241.2L368.1,242.0L368.6,242.7L369.1,243.3L369.6,243.8L370.1,244.1L370.6,244.3L371.1,244.3L371.6,244.2L372.1,243.9L372.6,243.4L373.1,242.8L373.6,242.0L374.1,241.1L374.6,239.9L375.1,238.7L375.6,237.3L376.1,235.7L376.6,234.1L377.1,232.3L377.6,230.4L378.1,228.5L378.6,226.5L379.1,224.4L379.6,222.4L380.1,220.4L380.6,218.4L381.1,216.5L381.6,214.6L382.1,212.9L382.6,211.3L383.1,209.9L383.6,208.7L384.1,207.6L384.6,206.8L385.1,206.3L385.6,206.0L386.1,205.9L386.6,206.1L387.1,206.7L387.6,207.4L388.1,208.5L388.6,209.8L389.1,211.3L389.6,213.1L390.1,215.1L390.6,217.2L391.1,219.5L391.6,221.8L392.1,224.2L392.6,226.7L393.1,229.0L393.6,231.4L394.1,233.5L394.6,235.6L395.1,237.4L395.6,238.9L396.1,240.2L396.6,241.1L397.1,241.7L397.6,242.0L398.1,241.8L398.6,241.3L399.1,240.4L399.6,239.2L400.1,237.6L400.6,235.7L401.1,233.5L401.6,231.1L402.1,228.5L402.6,225.8L403.1,223.1L403.6,220.4L404.1,217.8L404.6,215.4L405.1,213.1L405.6,211.2L406.1,209.6L406.6,208.4L407.1,207.7L407.6,207.4L408.1,207.6L408.6,208.2L409.1,209.4L409.6,210.9L410.1,212.9L410.6,215.2L411.1,217.8L411.6,220.5L412.1,223.4L412.6,226.4L413.1,229.2L413.6,231.9L414.1,234.4L414.6,236.5L415.1,238.3L415.6,239.5L416.1,240.3L416.6,240.4L417.1,240.1L417.6,239.2L418.1,237.7L418.6,235.8L419.1,233.4L419.6,230.8L420.1,227.9L420.6,224.9L421.1,221.8L421.6,218.9L422.1,216.2L422.6,213.8L423.1,211.9L423.6,210.5L424.1,209.6L424.6,209.4L425.1,209.8L425.6,210.8L426.1,212.4L426.6,214.6L427.1,217.2L427.6,220.1L428.1,223.2L428.6,226.4L429.1,229.5L429.6,232.4L430.1,235.0L430.6,237.1L431.1,238.6L431.6,239.4L432.1,239.6L432.6,239.0L433.1,237.8L433.6,235.9L434.1,233.5L434.6,230.6L435.1,227.4L435.6,224.1L436.1,220.9L436.6,217.9L437.1,215.2L437.6,213.1L438.1,211.6L438.6,210.8L439.1,210.8L439.6,211.7L440.1,213.3L440.6,215.5L441.1,218.4L441.6,221.6L442.1,225.0L442.6,228.5L443.1,231.8L443.6,234.7L444.1,237.0L444.6,238.7L445.1,239.5L445.6,239.5L446.1,238.6L446.6,236.9L447.1,234.5L447.6,231.6L448.1,228.2L448.6,224.7L449.1,221.2L449.6,218.1L450.1,215.4L450.6,213.5L451.1,212.4L451.6,212.2L452.1,212.9L452.6,214.6L453.1,217.0L453.6,220.2L454.1,223.7L454.6,227.4L455.1,231.1L455.6,234.4L456.1,237.1L456.6,239.1L457.1,240.1L457.6,240.1L458.1,239.0L458.6,237.0L459.1,234.2L459.6,230.8L460.1,227.0L460.6,223.2L461.1,219.7L461.6,216.7L462.1,214.5L462.6,213.3L463.1,213.2L463.6,214.2L464.1,216.3L464.6,219.3L465.1,223.0L465.6,227.1L466.1,231.2L466.6,235.0L467.1,238.1L467.6,240.3L468.1,241.3L468.6,241.2L469.1,239.8L469.6,237.3L470.1,233.9L470.6,230.0L471.1,225.8L471.6,221.8L472.1,218.4L472.6,215.8L473.1,214.3L473.6,214.2L474.1,215.3L474.6,217.7L475.1,221.1L475.6,225.2L476.1,229.5L476.6,233.7L477.1,237.4L477.6,240.2L478.1,241.7L478.6,241.9L479.1,240.8L479.6,238.3L480.1,234.9L480.6,230.8L481.1,226.5L481.6,222.4L482.1,219.0L482.6,216.7L483.1,215.6L483.6,216.1L484.1,217.9L484.6,220.9L485.1,224.9L485.6,229.3L486.1,233.7L486.6,237.6L487.1,240.6L487.6,242.2L488.1,242.4L488.6,241.1L489.1,238.5L489.6,234.8L490.1,230.5L490.6,226.2L491.1,222.2L491.6,219.2L492.1,217.5L492.6,217.2L493.1,218.6L493.6,221.3L494.1,225.1L494.6,229.6L495.1,234.1L495.6,238.1L496.1,241.1L496.6,242.8L497.1,242.9L497.6,241.3L498.1,238.4L498.6,234.5L499.1,230.0L499.6,225.7L500.1,222.0L500.6,219.5L501.1,218.6L501.6,219.3L502.1,221.6L502.6,225.2L503.1,229.6L503.6,234.2L504.1,238.3L504.6,241.5L505.1,243.3L505.6,243.3L506.1,241.7L506.6,238.7L507.1,234.7L507.6,230.2L508.1,226.1L508.6,222.8L509.1,220.8L509.6,220.6L510.1,222.0L510.6,225.0L511.1,229.0L511.6,233.5L512.1,237.9L512.6,241.4L513.1,243.5L513.6,243.9L514.1,242.6L514.6,239.8L515.1,235.9L515.6,231.6L516.1,227.5L516.6,224.3L517.1,222.6L517.6,222.5L518.1,224.3L518.6,227.4L519.1,231.6" stroke="#48563f" stroke-width="1.4" fill="none" stroke-linejoin="round"/>
</svg>
</body></html>
